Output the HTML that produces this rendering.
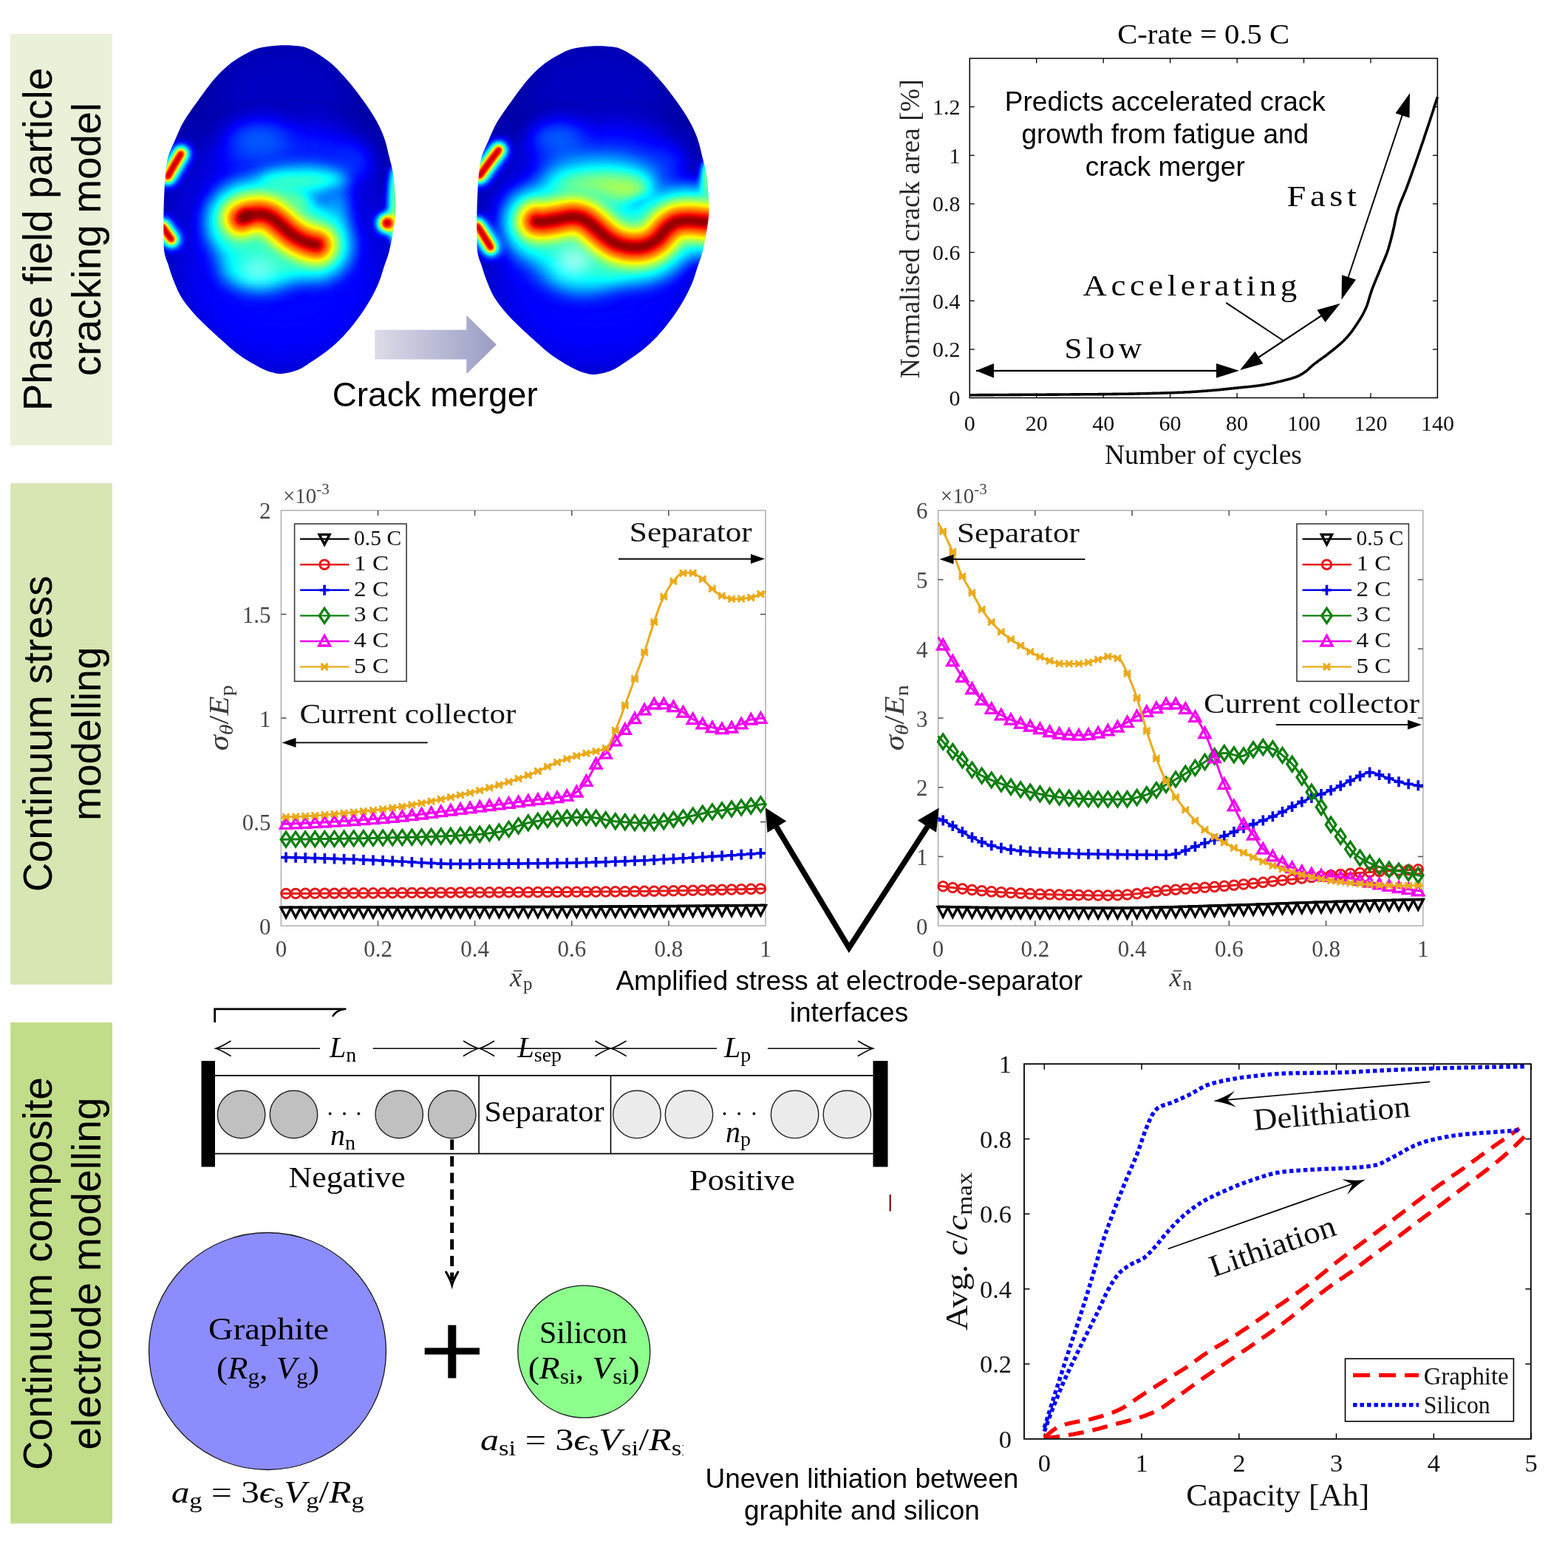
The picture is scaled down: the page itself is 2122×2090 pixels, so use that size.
<!DOCTYPE html>
<html><head><meta charset="utf-8"><title>Figure</title>
<style>html,body{margin:0;padding:0;background:#fff;}svg{display:block;}</style>
</head><body>
<svg width="2122" height="2090" viewBox="0 0 2122 2090">
<defs>
<filter id="jet" color-interpolation-filters="sRGB" x="0" y="0" width="1" height="1">
<feComponentTransfer>
<feFuncR type="table" tableValues="0 0 0 0 0.5 1 1 1 0.5"/>
<feFuncG type="table" tableValues="0 0 0.5 1 1 1 0.5 0 0"/>
<feFuncB type="table" tableValues="0.5 1 1 1 0.5 0 0 0 0"/>
</feComponentTransfer></filter>
<filter id="b1" color-interpolation-filters="sRGB" filterUnits="userSpaceOnUse" x="150" y="20" width="900" height="540"><feGaussianBlur stdDeviation="1"/></filter>
<filter id="b2" color-interpolation-filters="sRGB" filterUnits="userSpaceOnUse" x="150" y="20" width="900" height="540"><feGaussianBlur stdDeviation="2"/></filter>
<filter id="b3" color-interpolation-filters="sRGB" filterUnits="userSpaceOnUse" x="150" y="20" width="900" height="540"><feGaussianBlur stdDeviation="3"/></filter>
<filter id="b4" color-interpolation-filters="sRGB" filterUnits="userSpaceOnUse" x="150" y="20" width="900" height="540"><feGaussianBlur stdDeviation="4"/></filter>
<filter id="b5" color-interpolation-filters="sRGB" filterUnits="userSpaceOnUse" x="150" y="20" width="900" height="540"><feGaussianBlur stdDeviation="5"/></filter>
<filter id="b6" color-interpolation-filters="sRGB" filterUnits="userSpaceOnUse" x="150" y="20" width="900" height="540"><feGaussianBlur stdDeviation="6"/></filter>
<filter id="b7" color-interpolation-filters="sRGB" filterUnits="userSpaceOnUse" x="150" y="20" width="900" height="540"><feGaussianBlur stdDeviation="7"/></filter>
<filter id="b8" color-interpolation-filters="sRGB" filterUnits="userSpaceOnUse" x="150" y="20" width="900" height="540"><feGaussianBlur stdDeviation="8"/></filter>
<filter id="b9" color-interpolation-filters="sRGB" filterUnits="userSpaceOnUse" x="150" y="20" width="900" height="540"><feGaussianBlur stdDeviation="9"/></filter>
<filter id="b10" color-interpolation-filters="sRGB" filterUnits="userSpaceOnUse" x="150" y="20" width="900" height="540"><feGaussianBlur stdDeviation="10"/></filter>
<filter id="b11" color-interpolation-filters="sRGB" filterUnits="userSpaceOnUse" x="150" y="20" width="900" height="540"><feGaussianBlur stdDeviation="11"/></filter>
<filter id="b12" color-interpolation-filters="sRGB" filterUnits="userSpaceOnUse" x="150" y="20" width="900" height="540"><feGaussianBlur stdDeviation="12"/></filter>
<filter id="b13" color-interpolation-filters="sRGB" filterUnits="userSpaceOnUse" x="150" y="20" width="900" height="540"><feGaussianBlur stdDeviation="13"/></filter>
<filter id="b14" color-interpolation-filters="sRGB" filterUnits="userSpaceOnUse" x="150" y="20" width="900" height="540"><feGaussianBlur stdDeviation="14"/></filter>
<filter id="b15" color-interpolation-filters="sRGB" filterUnits="userSpaceOnUse" x="150" y="20" width="900" height="540"><feGaussianBlur stdDeviation="15"/></filter>
<filter id="b16" color-interpolation-filters="sRGB" filterUnits="userSpaceOnUse" x="150" y="20" width="900" height="540"><feGaussianBlur stdDeviation="16"/></filter>
<filter id="b17" color-interpolation-filters="sRGB" filterUnits="userSpaceOnUse" x="150" y="20" width="900" height="540"><feGaussianBlur stdDeviation="17"/></filter>
<filter id="b18" color-interpolation-filters="sRGB" filterUnits="userSpaceOnUse" x="150" y="20" width="900" height="540"><feGaussianBlur stdDeviation="18"/></filter>
<filter id="b19" color-interpolation-filters="sRGB" filterUnits="userSpaceOnUse" x="150" y="20" width="900" height="540"><feGaussianBlur stdDeviation="19"/></filter>
<filter id="b20" color-interpolation-filters="sRGB" filterUnits="userSpaceOnUse" x="150" y="20" width="900" height="540"><feGaussianBlur stdDeviation="20"/></filter>
<filter id="b21" color-interpolation-filters="sRGB" filterUnits="userSpaceOnUse" x="150" y="20" width="900" height="540"><feGaussianBlur stdDeviation="21"/></filter>
<filter id="b22" color-interpolation-filters="sRGB" filterUnits="userSpaceOnUse" x="150" y="20" width="900" height="540"><feGaussianBlur stdDeviation="22"/></filter>
<filter id="b23" color-interpolation-filters="sRGB" filterUnits="userSpaceOnUse" x="150" y="20" width="900" height="540"><feGaussianBlur stdDeviation="23"/></filter>
<filter id="b24" color-interpolation-filters="sRGB" filterUnits="userSpaceOnUse" x="150" y="20" width="900" height="540"><feGaussianBlur stdDeviation="24"/></filter>
<filter id="b25" color-interpolation-filters="sRGB" filterUnits="userSpaceOnUse" x="150" y="20" width="900" height="540"><feGaussianBlur stdDeviation="25"/></filter>
<filter id="b26" color-interpolation-filters="sRGB" filterUnits="userSpaceOnUse" x="150" y="20" width="900" height="540"><feGaussianBlur stdDeviation="26"/></filter>
<filter id="b27" color-interpolation-filters="sRGB" filterUnits="userSpaceOnUse" x="150" y="20" width="900" height="540"><feGaussianBlur stdDeviation="27"/></filter>
<filter id="b28" color-interpolation-filters="sRGB" filterUnits="userSpaceOnUse" x="150" y="20" width="900" height="540"><feGaussianBlur stdDeviation="28"/></filter>
<filter id="b29" color-interpolation-filters="sRGB" filterUnits="userSpaceOnUse" x="150" y="20" width="900" height="540"><feGaussianBlur stdDeviation="29"/></filter>
<filter id="b30" color-interpolation-filters="sRGB" filterUnits="userSpaceOnUse" x="150" y="20" width="900" height="540"><feGaussianBlur stdDeviation="30"/></filter>
<filter id="b31" color-interpolation-filters="sRGB" filterUnits="userSpaceOnUse" x="150" y="20" width="900" height="540"><feGaussianBlur stdDeviation="31"/></filter>
<filter id="b32" color-interpolation-filters="sRGB" filterUnits="userSpaceOnUse" x="150" y="20" width="900" height="540"><feGaussianBlur stdDeviation="32"/></filter>
<filter id="b33" color-interpolation-filters="sRGB" filterUnits="userSpaceOnUse" x="150" y="20" width="900" height="540"><feGaussianBlur stdDeviation="33"/></filter>
<filter id="b34" color-interpolation-filters="sRGB" filterUnits="userSpaceOnUse" x="150" y="20" width="900" height="540"><feGaussianBlur stdDeviation="34"/></filter>
<filter id="b35" color-interpolation-filters="sRGB" filterUnits="userSpaceOnUse" x="150" y="20" width="900" height="540"><feGaussianBlur stdDeviation="35"/></filter>
<filter id="b36" color-interpolation-filters="sRGB" filterUnits="userSpaceOnUse" x="150" y="20" width="900" height="540"><feGaussianBlur stdDeviation="36"/></filter>
<filter id="b37" color-interpolation-filters="sRGB" filterUnits="userSpaceOnUse" x="150" y="20" width="900" height="540"><feGaussianBlur stdDeviation="37"/></filter>
<filter id="b38" color-interpolation-filters="sRGB" filterUnits="userSpaceOnUse" x="150" y="20" width="900" height="540"><feGaussianBlur stdDeviation="38"/></filter>
<filter id="b39" color-interpolation-filters="sRGB" filterUnits="userSpaceOnUse" x="150" y="20" width="900" height="540"><feGaussianBlur stdDeviation="39"/></filter>
<filter id="b40" color-interpolation-filters="sRGB" filterUnits="userSpaceOnUse" x="150" y="20" width="900" height="540"><feGaussianBlur stdDeviation="40"/></filter>
<filter id="wb" filterUnits="userSpaceOnUse" x="150" y="20" width="900" height="540"><feGaussianBlur stdDeviation="10"/></filter>
<clipPath id="pclip1"><path d="M377.0,61.4 C385.8,60.9 396.2,61.3 403.5,62.3 C410.8,63.3 413.7,63.8 421.0,67.6 C428.3,71.4 440.2,79.3 447.5,85.2 C454.8,91.1 459.1,96.3 465.0,102.8 C470.9,109.2 476.7,116.3 482.6,123.9 C488.5,131.5 495.2,140.9 500.2,148.5 C505.2,156.1 509.1,162.6 512.6,169.6 C516.1,176.6 519.0,183.7 521.3,190.7 C523.6,197.7 524.8,204.5 526.6,211.8 C528.4,219.1 530.7,226.5 532.0,234.7 C533.3,242.9 533.9,252.2 534.5,261.0 C535.1,269.8 535.8,278.8 535.4,287.6 C535.0,296.4 533.4,305.2 531.9,314.0 C530.4,322.8 528.6,332.5 526.6,340.4 C524.6,348.3 521.9,354.5 519.6,361.5 C517.3,368.5 515.8,375.0 512.6,382.6 C509.4,390.2 505.2,398.7 500.2,407.2 C495.2,415.7 488.5,425.7 482.6,433.6 C476.7,441.5 471.4,448.0 465.0,454.7 C458.6,461.4 451.3,468.1 444.0,474.0 C436.7,479.9 427.8,485.5 421.0,489.9 C414.2,494.3 409.9,497.8 403.5,500.4 C397.1,503.0 388.3,505.1 382.4,505.7 C376.5,506.3 373.6,505.5 368.3,504.0 C363.0,502.5 358.0,500.7 350.7,496.9 C343.4,493.1 332.5,487.0 324.3,481.1 C316.1,475.2 308.8,468.1 301.5,461.7 C294.2,455.2 286.8,448.5 280.4,442.4 C273.9,436.2 268.7,431.6 262.8,424.8 C256.9,418.1 249.9,409.5 245.2,401.9 C240.5,394.3 237.5,386.3 234.6,379.0 C231.7,371.7 229.6,364.4 227.6,358.0 C225.6,351.6 223.3,347.7 222.3,340.4 C221.3,333.1 221.6,322.8 221.4,314.0 C221.2,305.2 221.2,296.4 221.4,287.6 C221.6,278.8 221.9,269.8 222.3,261.0 C222.7,252.2 223.1,242.9 224.0,234.7 C224.9,226.5 225.5,219.1 227.6,211.8 C229.7,204.5 232.9,198.6 236.4,190.7 C239.9,182.8 243.4,173.4 248.7,164.3 C254.0,155.2 261.2,145.6 268.0,136.2 C274.8,126.8 282.4,115.9 289.2,108.0 C295.9,100.1 301.8,94.3 308.5,88.7 C315.2,83.1 322.6,78.5 329.6,74.6 C336.6,70.6 342.8,67.2 350.7,65.0 C358.6,62.8 368.2,61.9 377.0,61.4 Z"/></clipPath>
<clipPath id="pclip2"><path d="M801.0,62.4 C809.8,61.9 820.2,62.3 827.5,63.3 C834.8,64.3 837.7,64.8 845.0,68.6 C852.3,72.4 864.2,80.3 871.5,86.2 C878.8,92.1 883.1,97.3 889.0,103.8 C894.9,110.2 900.7,117.3 906.6,124.9 C912.5,132.5 919.2,141.9 924.2,149.5 C929.2,157.1 933.1,163.6 936.6,170.6 C940.1,177.6 943.0,184.7 945.3,191.7 C947.6,198.7 948.8,205.5 950.6,212.8 C952.4,220.1 954.7,227.5 956.0,235.7 C957.3,243.9 957.9,253.2 958.5,262.0 C959.1,270.8 959.8,279.8 959.4,288.6 C959.0,297.4 957.4,306.2 955.9,315.0 C954.4,323.8 952.6,333.5 950.6,341.4 C948.6,349.3 945.9,355.5 943.6,362.5 C941.3,369.5 939.8,376.0 936.6,383.6 C933.4,391.2 929.2,399.7 924.2,408.2 C919.2,416.7 912.5,426.7 906.6,434.6 C900.7,442.5 895.4,449.0 889.0,455.7 C882.6,462.4 875.3,469.1 868.0,475.0 C860.7,480.9 851.8,486.5 845.0,490.9 C838.2,495.3 833.9,498.8 827.5,501.4 C821.1,504.0 812.3,506.1 806.4,506.7 C800.5,507.3 797.6,506.5 792.3,505.0 C787.0,503.5 782.0,501.7 774.7,497.9 C767.4,494.1 756.5,488.0 748.3,482.1 C740.1,476.2 732.8,469.1 725.5,462.7 C718.2,456.2 710.9,449.5 704.4,443.4 C697.9,437.2 692.7,432.6 686.8,425.8 C680.9,419.1 673.9,410.5 669.2,402.9 C664.5,395.3 661.5,387.3 658.6,380.0 C655.7,372.7 653.7,365.4 651.6,359.0 C649.5,352.6 647.3,348.7 646.3,341.4 C645.3,334.1 645.5,323.8 645.4,315.0 C645.2,306.2 645.2,297.4 645.4,288.6 C645.5,279.8 645.9,270.8 646.3,262.0 C646.7,253.2 647.1,243.9 648.0,235.7 C648.9,227.5 649.5,220.1 651.6,212.8 C653.7,205.5 656.9,199.6 660.4,191.7 C663.9,183.8 667.4,174.4 672.7,165.3 C678.0,156.2 685.2,146.6 692.0,137.2 C698.8,127.8 706.5,116.9 713.2,109.0 C720.0,101.1 725.8,95.3 732.5,89.7 C739.2,84.1 746.6,79.5 753.6,75.6 C760.6,71.6 766.8,68.2 774.7,66.0 C782.6,63.8 792.2,62.9 801.0,62.4 Z"/></clipPath>
<linearGradient id="arrg" x1="507" y1="0" x2="672" y2="0" gradientUnits="userSpaceOnUse"><stop offset="0" stop-color="#DCDCE8"/><stop offset="1" stop-color="#9A9CC4"/></linearGradient>
</defs>
<rect x="0" y="0" width="2122" height="2090" fill="#fff"/>
<rect x="14.2" y="46" width="137.7" height="556.7" fill="#E9F1D8"/>
<text x="70.0" y="324.0" font-size="55" font-family="'Liberation Sans', Arial, sans-serif" fill="#000" text-anchor="middle" transform="rotate(-90 70.0 324.0)" >Phase field particle</text>
<text x="136.0" y="324.0" font-size="55" font-family="'Liberation Sans', Arial, sans-serif" fill="#000" text-anchor="middle" transform="rotate(-90 136.0 324.0)" >cracking model</text>
<rect x="14.2" y="654" width="137.7" height="678.7" fill="#D7E6B2"/>
<text x="70.0" y="993.2" font-size="55" font-family="'Liberation Sans', Arial, sans-serif" fill="#000" text-anchor="middle" transform="rotate(-90 70.0 993.2)" >Continuum stress</text>
<text x="136.0" y="993.2" font-size="55" font-family="'Liberation Sans', Arial, sans-serif" fill="#000" text-anchor="middle" transform="rotate(-90 136.0 993.2)" >modelling</text>
<rect x="14.2" y="1384" width="137.7" height="678.3" fill="#C1DD89"/>
<text x="70.0" y="1724.0" font-size="55" font-family="'Liberation Sans', Arial, sans-serif" fill="#000" text-anchor="middle" transform="rotate(-90 70.0 1724.0)" >Continuum composite</text>
<text x="136.0" y="1724.0" font-size="55" font-family="'Liberation Sans', Arial, sans-serif" fill="#000" text-anchor="middle" transform="rotate(-90 136.0 1724.0)" >electrode modelling</text>
<g clip-path="url(#pclip1)"><g filter="url(#jet)">
<rect x="200" y="40" width="360" height="490" fill="rgb(11,11,11)"/>
<ellipse cx="380" cy="330" rx="150" ry="175" fill="rgb(29,29,29)" filter="url(#b30)"/><ellipse cx="385" cy="390" rx="120" ry="95" fill="rgb(33,33,33)" filter="url(#b25)"/><ellipse cx="385" cy="120" rx="90" ry="55" fill="rgb(17,17,17)" filter="url(#b18)"/><ellipse cx="395" cy="215" rx="95" ry="40" fill="rgb(41,41,41)" filter="url(#b18)"/><ellipse cx="350" cy="190" rx="40" ry="24" fill="rgb(56,56,56)" filter="url(#b14)"/><ellipse cx="475" cy="220" rx="25" ry="22" fill="rgb(43,43,43)" filter="url(#b10)"/><ellipse cx="372" cy="318" rx="85" ry="58" fill="rgb(92,92,92)" filter="url(#b16)"/><ellipse cx="410" cy="245" rx="60" ry="18" fill="rgb(112,112,112)" filter="url(#b10)"/><ellipse cx="350" cy="362" rx="50" ry="30" fill="rgb(102,102,102)" filter="url(#b12)"/><ellipse cx="455" cy="280" rx="18" ry="28" fill="rgb(69,69,69)" filter="url(#b10)"/><ellipse cx="534" cy="278" rx="8" ry="55" fill="rgb(128,128,128)" filter="url(#b5)"/><ellipse cx="350" cy="278" rx="35" ry="12" fill="rgb(153,153,153)" filter="url(#b8)"/><ellipse cx="388" cy="276" rx="28" ry="11" fill="rgb(148,148,148)" filter="url(#b8)"/><path d="M327.0,295.5 C328.5,294.8 331.9,292.4 336.0,291.5 C340.1,290.6 346.7,289.7 351.6,290.0 C356.5,290.3 360.6,291.1 365.2,293.4 C369.8,295.7 374.3,299.9 378.9,303.6 C383.4,307.3 387.9,312.2 392.5,315.6 C397.1,319.0 401.6,321.8 406.2,324.1 C410.8,326.4 416.0,328.3 419.8,329.5 C423.6,330.7 427.5,331.2 429.0,331.5 " stroke="rgb(115,115,115)" stroke-width="92" fill="none" stroke-linecap="round" stroke-linejoin="round" filter="url(#b12)"/><path d="M327.0,295.5 C328.5,294.8 331.9,292.4 336.0,291.5 C340.1,290.6 346.7,289.7 351.6,290.0 C356.5,290.3 360.6,291.1 365.2,293.4 C369.8,295.7 374.3,299.9 378.9,303.6 C383.4,307.3 387.9,312.2 392.5,315.6 C397.1,319.0 401.6,321.8 406.2,324.1 C410.8,326.4 416.0,328.3 419.8,329.5 C423.6,330.7 427.5,331.2 429.0,331.5 " stroke="rgb(158,158,158)" stroke-width="56" fill="none" stroke-linecap="round" stroke-linejoin="round" filter="url(#b6)"/><path d="M327.0,295.5 C328.5,294.8 331.9,292.4 336.0,291.5 C340.1,290.6 346.7,289.7 351.6,290.0 C356.5,290.3 360.6,291.1 365.2,293.4 C369.8,295.7 374.3,299.9 378.9,303.6 C383.4,307.3 387.9,312.2 392.5,315.6 C397.1,319.0 401.6,321.8 406.2,324.1 C410.8,326.4 416.0,328.3 419.8,329.5 C423.6,330.7 427.5,331.2 429.0,331.5 " stroke="rgb(204,204,204)" stroke-width="35" fill="none" stroke-linecap="round" stroke-linejoin="round" filter="url(#b4)"/><path d="M327.0,295.5 C328.5,294.8 331.9,292.4 336.0,291.5 C340.1,290.6 346.7,289.7 351.6,290.0 C356.5,290.3 360.6,291.1 365.2,293.4 C369.8,295.7 374.3,299.9 378.9,303.6 C383.4,307.3 387.9,312.2 392.5,315.6 C397.1,319.0 401.6,321.8 406.2,324.1 C410.8,326.4 416.0,328.3 419.8,329.5 C423.6,330.7 427.5,331.2 429.0,331.5 " stroke="rgb(250,250,250)" stroke-width="15" fill="none" stroke-linecap="round" stroke-linejoin="round" filter="url(#b3)"/><circle cx="333" cy="293" r="8" fill="rgb(255,255,255)" filter="url(#b4)"/><path d="M245.0,208.0 C243.5,210.5 239.0,217.8 236.0,223.0 C233.0,228.2 228.5,236.3 227.0,239.0 " stroke="rgb(115,115,115)" stroke-width="26" fill="none" stroke-linecap="round" stroke-linejoin="round" filter="url(#b6)"/><path d="M245.0,208.0 C243.5,210.5 239.0,217.8 236.0,223.0 C233.0,228.2 228.5,236.3 227.0,239.0 " stroke="rgb(166,166,166)" stroke-width="15" fill="none" stroke-linecap="round" stroke-linejoin="round" filter="url(#b3)"/><path d="M245.0,208.0 C243.5,210.5 239.0,217.8 236.0,223.0 C233.0,228.2 228.5,236.3 227.0,239.0 " stroke="rgb(217,217,217)" stroke-width="9" fill="none" stroke-linecap="round" stroke-linejoin="round" filter="url(#b2)"/><path d="M245.0,208.0 C243.5,210.5 239.0,217.8 236.0,223.0 C233.0,228.2 228.5,236.3 227.0,239.0 " stroke="rgb(247,247,247)" stroke-width="4" fill="none" stroke-linecap="round" stroke-linejoin="round" filter="url(#b2)"/><path d="M220.0,307.0 C221.0,308.5 224.0,313.2 226.0,316.0 C228.0,318.8 231.0,322.7 232.0,324.0 " stroke="rgb(115,115,115)" stroke-width="26" fill="none" stroke-linecap="round" stroke-linejoin="round" filter="url(#b6)"/><path d="M220.0,307.0 C221.0,308.5 224.0,313.2 226.0,316.0 C228.0,318.8 231.0,322.7 232.0,324.0 " stroke="rgb(166,166,166)" stroke-width="15" fill="none" stroke-linecap="round" stroke-linejoin="round" filter="url(#b3)"/><path d="M220.0,307.0 C221.0,308.5 224.0,313.2 226.0,316.0 C228.0,318.8 231.0,322.7 232.0,324.0 " stroke="rgb(217,217,217)" stroke-width="9" fill="none" stroke-linecap="round" stroke-linejoin="round" filter="url(#b2)"/><path d="M220.0,307.0 C221.0,308.5 224.0,313.2 226.0,316.0 C228.0,318.8 231.0,322.7 232.0,324.0 " stroke="rgb(247,247,247)" stroke-width="4" fill="none" stroke-linecap="round" stroke-linejoin="round" filter="url(#b2)"/><circle cx="524" cy="302" r="7" fill="rgb(247,247,247)" filter="url(#b4)"/><circle cx="524" cy="302" r="13" fill="rgb(178,178,178)" filter="url(#b6)"/><circle cx="524" cy="302" r="6" fill="rgb(250,250,250)" filter="url(#b3)"/>
</g>
</g>
<g clip-path="url(#pclip2)"><g filter="url(#jet)">
<rect x="624" y="41" width="360" height="490" fill="rgb(11,11,11)"/>
<ellipse cx="804" cy="330" rx="150" ry="175" fill="rgb(29,29,29)" filter="url(#b30)"/><ellipse cx="809" cy="390" rx="120" ry="95" fill="rgb(33,33,33)" filter="url(#b25)"/><ellipse cx="809" cy="120" rx="90" ry="55" fill="rgb(17,17,17)" filter="url(#b18)"/><ellipse cx="819" cy="215" rx="95" ry="40" fill="rgb(41,41,41)" filter="url(#b18)"/><ellipse cx="755" cy="188" rx="35" ry="22" fill="rgb(56,56,56)" filter="url(#b12)"/><ellipse cx="900" cy="222" rx="25" ry="20" fill="rgb(43,43,43)" filter="url(#b10)"/><ellipse cx="812" cy="246" rx="80" ry="32" fill="rgb(102,102,102)" filter="url(#b14)"/><ellipse cx="820" cy="258" rx="60" ry="20" fill="rgb(145,145,145)" filter="url(#b10)"/><ellipse cx="800" cy="330" rx="100" ry="50" fill="rgb(84,84,84)" filter="url(#b18)"/><ellipse cx="790" cy="358" rx="55" ry="36" fill="rgb(99,99,99)" filter="url(#b13)"/><ellipse cx="875" cy="287" rx="22" ry="18" fill="rgb(66,66,66)" filter="url(#b9)"/><ellipse cx="956" cy="244" rx="7" ry="28" fill="rgb(140,140,140)" filter="url(#b5)"/><path d="M726.0,299.5 C727.6,299.6 730.6,300.6 735.6,300.2 C740.6,299.8 749.6,297.9 756.1,296.8 C762.6,295.7 769.2,293.4 774.9,293.4 C780.6,293.4 785.4,294.5 790.2,296.8 C795.0,299.1 799.4,303.3 803.9,307.0 C808.4,310.7 812.7,315.3 817.5,319.0 C822.3,322.7 826.9,326.6 832.9,329.2 C838.9,331.8 846.6,333.8 853.4,334.4 C860.2,335.0 867.9,334.4 873.9,332.7 C879.9,331.0 884.4,328.1 889.2,324.1 C894.0,320.1 898.4,312.8 902.9,308.8 C907.4,304.8 911.4,301.9 916.5,300.2 C921.6,298.5 927.6,298.5 933.6,298.5 C939.6,298.5 946.3,299.8 952.4,300.2 C958.5,300.6 967.1,300.9 970.0,301.0 " stroke="rgb(115,115,115)" stroke-width="92" fill="none" stroke-linecap="round" stroke-linejoin="round" filter="url(#b12)"/><path d="M726.0,299.5 C727.6,299.6 730.6,300.6 735.6,300.2 C740.6,299.8 749.6,297.9 756.1,296.8 C762.6,295.7 769.2,293.4 774.9,293.4 C780.6,293.4 785.4,294.5 790.2,296.8 C795.0,299.1 799.4,303.3 803.9,307.0 C808.4,310.7 812.7,315.3 817.5,319.0 C822.3,322.7 826.9,326.6 832.9,329.2 C838.9,331.8 846.6,333.8 853.4,334.4 C860.2,335.0 867.9,334.4 873.9,332.7 C879.9,331.0 884.4,328.1 889.2,324.1 C894.0,320.1 898.4,312.8 902.9,308.8 C907.4,304.8 911.4,301.9 916.5,300.2 C921.6,298.5 927.6,298.5 933.6,298.5 C939.6,298.5 946.3,299.8 952.4,300.2 C958.5,300.6 967.1,300.9 970.0,301.0 " stroke="rgb(158,158,158)" stroke-width="56" fill="none" stroke-linecap="round" stroke-linejoin="round" filter="url(#b6)"/><path d="M726.0,299.5 C727.6,299.6 730.6,300.6 735.6,300.2 C740.6,299.8 749.6,297.9 756.1,296.8 C762.6,295.7 769.2,293.4 774.9,293.4 C780.6,293.4 785.4,294.5 790.2,296.8 C795.0,299.1 799.4,303.3 803.9,307.0 C808.4,310.7 812.7,315.3 817.5,319.0 C822.3,322.7 826.9,326.6 832.9,329.2 C838.9,331.8 846.6,333.8 853.4,334.4 C860.2,335.0 867.9,334.4 873.9,332.7 C879.9,331.0 884.4,328.1 889.2,324.1 C894.0,320.1 898.4,312.8 902.9,308.8 C907.4,304.8 911.4,301.9 916.5,300.2 C921.6,298.5 927.6,298.5 933.6,298.5 C939.6,298.5 946.3,299.8 952.4,300.2 C958.5,300.6 967.1,300.9 970.0,301.0 " stroke="rgb(204,204,204)" stroke-width="35" fill="none" stroke-linecap="round" stroke-linejoin="round" filter="url(#b4)"/><path d="M726.0,299.5 C727.6,299.6 730.6,300.6 735.6,300.2 C740.6,299.8 749.6,297.9 756.1,296.8 C762.6,295.7 769.2,293.4 774.9,293.4 C780.6,293.4 785.4,294.5 790.2,296.8 C795.0,299.1 799.4,303.3 803.9,307.0 C808.4,310.7 812.7,315.3 817.5,319.0 C822.3,322.7 826.9,326.6 832.9,329.2 C838.9,331.8 846.6,333.8 853.4,334.4 C860.2,335.0 867.9,334.4 873.9,332.7 C879.9,331.0 884.4,328.1 889.2,324.1 C894.0,320.1 898.4,312.8 902.9,308.8 C907.4,304.8 911.4,301.9 916.5,300.2 C921.6,298.5 927.6,298.5 933.6,298.5 C939.6,298.5 946.3,299.8 952.4,300.2 C958.5,300.6 967.1,300.9 970.0,301.0 " stroke="rgb(250,250,250)" stroke-width="15" fill="none" stroke-linecap="round" stroke-linejoin="round" filter="url(#b3)"/><path d="M675.0,203.0 C672.8,205.8 666.3,214.2 662.0,220.0 C657.7,225.8 651.2,235.0 649.0,238.0 " stroke="rgb(115,115,115)" stroke-width="26" fill="none" stroke-linecap="round" stroke-linejoin="round" filter="url(#b6)"/><path d="M675.0,203.0 C672.8,205.8 666.3,214.2 662.0,220.0 C657.7,225.8 651.2,235.0 649.0,238.0 " stroke="rgb(166,166,166)" stroke-width="15" fill="none" stroke-linecap="round" stroke-linejoin="round" filter="url(#b3)"/><path d="M675.0,203.0 C672.8,205.8 666.3,214.2 662.0,220.0 C657.7,225.8 651.2,235.0 649.0,238.0 " stroke="rgb(217,217,217)" stroke-width="9" fill="none" stroke-linecap="round" stroke-linejoin="round" filter="url(#b2)"/><path d="M675.0,203.0 C672.8,205.8 666.3,214.2 662.0,220.0 C657.7,225.8 651.2,235.0 649.0,238.0 " stroke="rgb(247,247,247)" stroke-width="4" fill="none" stroke-linecap="round" stroke-linejoin="round" filter="url(#b2)"/><path d="M646.0,306.0 C647.5,308.3 652.0,315.2 655.0,320.0 C658.0,324.8 662.5,332.5 664.0,335.0 " stroke="rgb(115,115,115)" stroke-width="26" fill="none" stroke-linecap="round" stroke-linejoin="round" filter="url(#b6)"/><path d="M646.0,306.0 C647.5,308.3 652.0,315.2 655.0,320.0 C658.0,324.8 662.5,332.5 664.0,335.0 " stroke="rgb(166,166,166)" stroke-width="15" fill="none" stroke-linecap="round" stroke-linejoin="round" filter="url(#b3)"/><path d="M646.0,306.0 C647.5,308.3 652.0,315.2 655.0,320.0 C658.0,324.8 662.5,332.5 664.0,335.0 " stroke="rgb(217,217,217)" stroke-width="9" fill="none" stroke-linecap="round" stroke-linejoin="round" filter="url(#b2)"/><path d="M646.0,306.0 C647.5,308.3 652.0,315.2 655.0,320.0 C658.0,324.8 662.5,332.5 664.0,335.0 " stroke="rgb(247,247,247)" stroke-width="4" fill="none" stroke-linecap="round" stroke-linejoin="round" filter="url(#b2)"/>
</g>
</g>
<ellipse cx="350" cy="366" rx="22" ry="16" fill="#fff" opacity="0.4" filter="url(#wb)" clip-path="url(#pclip1)"/>
<ellipse cx="776" cy="354" rx="22" ry="18" fill="#fff" opacity="0.55" filter="url(#wb)" clip-path="url(#pclip2)"/>
<polygon points="507.3,446.5 631.3,446.5 631.3,426.7 671.9,466.5 631.3,506.3 631.3,486.6 507.3,486.6" fill="url(#arrg)" stroke="none" stroke-width="0" />
<text x="449.7" y="549.6" font-size="46" font-family="'Liberation Sans', Arial, sans-serif" fill="#000" textLength="278.0" lengthAdjust="spacingAndGlyphs" >Crack merger</text>
<line x1="1402.7" y1="538.5" x2="1402.7" y2="532.0" stroke="#000" stroke-width="1.3" />
<line x1="1402.7" y1="79.0" x2="1402.7" y2="85.5" stroke="#000" stroke-width="1.3" />
<line x1="1493.2" y1="538.5" x2="1493.2" y2="532.0" stroke="#000" stroke-width="1.3" />
<line x1="1493.2" y1="79.0" x2="1493.2" y2="85.5" stroke="#000" stroke-width="1.3" />
<line x1="1583.6" y1="538.5" x2="1583.6" y2="532.0" stroke="#000" stroke-width="1.3" />
<line x1="1583.6" y1="79.0" x2="1583.6" y2="85.5" stroke="#000" stroke-width="1.3" />
<line x1="1674.1" y1="538.5" x2="1674.1" y2="532.0" stroke="#000" stroke-width="1.3" />
<line x1="1674.1" y1="79.0" x2="1674.1" y2="85.5" stroke="#000" stroke-width="1.3" />
<line x1="1764.5" y1="538.5" x2="1764.5" y2="532.0" stroke="#000" stroke-width="1.3" />
<line x1="1764.5" y1="79.0" x2="1764.5" y2="85.5" stroke="#000" stroke-width="1.3" />
<line x1="1855.0" y1="538.5" x2="1855.0" y2="532.0" stroke="#000" stroke-width="1.3" />
<line x1="1855.0" y1="79.0" x2="1855.0" y2="85.5" stroke="#000" stroke-width="1.3" />
<line x1="1312.3" y1="472.9" x2="1318.8" y2="472.9" stroke="#000" stroke-width="1.3" />
<line x1="1945.4" y1="472.9" x2="1938.9" y2="472.9" stroke="#000" stroke-width="1.3" />
<line x1="1312.3" y1="407.2" x2="1318.8" y2="407.2" stroke="#000" stroke-width="1.3" />
<line x1="1945.4" y1="407.2" x2="1938.9" y2="407.2" stroke="#000" stroke-width="1.3" />
<line x1="1312.3" y1="341.6" x2="1318.8" y2="341.6" stroke="#000" stroke-width="1.3" />
<line x1="1945.4" y1="341.6" x2="1938.9" y2="341.6" stroke="#000" stroke-width="1.3" />
<line x1="1312.3" y1="275.9" x2="1318.8" y2="275.9" stroke="#000" stroke-width="1.3" />
<line x1="1945.4" y1="275.9" x2="1938.9" y2="275.9" stroke="#000" stroke-width="1.3" />
<line x1="1312.3" y1="210.3" x2="1318.8" y2="210.3" stroke="#000" stroke-width="1.3" />
<line x1="1945.4" y1="210.3" x2="1938.9" y2="210.3" stroke="#000" stroke-width="1.3" />
<line x1="1312.3" y1="144.6" x2="1318.8" y2="144.6" stroke="#000" stroke-width="1.3" />
<line x1="1945.4" y1="144.6" x2="1938.9" y2="144.6" stroke="#000" stroke-width="1.3" />
<rect x="1312.3" y="79.0" width="633.1" height="459.5" fill="none" stroke="#000" stroke-width="1.5"/>
<text x="1299.5" y="549.0" font-size="30" font-family="'Liberation Serif', 'Times New Roman', serif" fill="#111" text-anchor="end" >0</text>
<text x="1299.5" y="483.4" font-size="30" font-family="'Liberation Serif', 'Times New Roman', serif" fill="#111" text-anchor="end" >0.2</text>
<text x="1299.5" y="417.7" font-size="30" font-family="'Liberation Serif', 'Times New Roman', serif" fill="#111" text-anchor="end" >0.4</text>
<text x="1299.5" y="352.1" font-size="30" font-family="'Liberation Serif', 'Times New Roman', serif" fill="#111" text-anchor="end" >0.6</text>
<text x="1299.5" y="286.4" font-size="30" font-family="'Liberation Serif', 'Times New Roman', serif" fill="#111" text-anchor="end" >0.8</text>
<text x="1299.5" y="220.8" font-size="30" font-family="'Liberation Serif', 'Times New Roman', serif" fill="#111" text-anchor="end" >1</text>
<text x="1299.5" y="155.1" font-size="30" font-family="'Liberation Serif', 'Times New Roman', serif" fill="#111" text-anchor="end" >1.2</text>
<text x="1312.3" y="582.5" font-size="30" font-family="'Liberation Serif', 'Times New Roman', serif" fill="#111" text-anchor="middle" >0</text>
<text x="1402.7" y="582.5" font-size="30" font-family="'Liberation Serif', 'Times New Roman', serif" fill="#111" text-anchor="middle" >20</text>
<text x="1493.2" y="582.5" font-size="30" font-family="'Liberation Serif', 'Times New Roman', serif" fill="#111" text-anchor="middle" >40</text>
<text x="1583.6" y="582.5" font-size="30" font-family="'Liberation Serif', 'Times New Roman', serif" fill="#111" text-anchor="middle" >60</text>
<text x="1674.1" y="582.5" font-size="30" font-family="'Liberation Serif', 'Times New Roman', serif" fill="#111" text-anchor="middle" >80</text>
<text x="1764.5" y="582.5" font-size="30" font-family="'Liberation Serif', 'Times New Roman', serif" fill="#111" text-anchor="middle" >100</text>
<text x="1855.0" y="582.5" font-size="30" font-family="'Liberation Serif', 'Times New Roman', serif" fill="#111" text-anchor="middle" >120</text>
<text x="1945.4" y="582.5" font-size="30" font-family="'Liberation Serif', 'Times New Roman', serif" fill="#111" text-anchor="middle" >140</text>
<text x="1628.5" y="628.4" font-size="38.5" font-family="'Liberation Serif', 'Times New Roman', serif" fill="#111" text-anchor="middle" textLength="267.0" lengthAdjust="spacingAndGlyphs" >Number of cycles</text>
<text x="1244.0" y="309.8" font-size="38.5" font-family="'Liberation Serif', 'Times New Roman', serif" fill="#2a2a2a" text-anchor="middle" textLength="405.0" lengthAdjust="spacingAndGlyphs" transform="rotate(-90 1244.0 309.8)" >Normalised crack area [%]</text>
<text x="1628.7" y="58.8" font-size="37.5" font-family="'Liberation Serif', 'Times New Roman', serif" fill="#000" text-anchor="middle" textLength="233.0" lengthAdjust="spacingAndGlyphs" >C-rate = 0.5 C</text>
<polyline points="1312.3,534.7 1313.9,534.7 1315.5,534.7 1317.1,534.7 1318.6,534.7 1320.2,534.7 1321.8,534.7 1323.4,534.6 1325.0,534.6 1326.6,534.6 1328.2,534.6 1329.8,534.6 1331.3,534.6 1332.9,534.6 1334.5,534.6 1336.1,534.6 1337.7,534.6 1339.3,534.6 1340.9,534.6 1342.4,534.6 1344.0,534.6 1345.6,534.5 1347.2,534.5 1348.8,534.5 1350.4,534.5 1352.0,534.5 1353.6,534.5 1355.1,534.5 1356.7,534.5 1358.3,534.5 1359.9,534.5 1361.5,534.5 1363.1,534.5 1364.7,534.5 1366.2,534.4 1367.8,534.4 1369.4,534.4 1371.0,534.4 1372.6,534.4 1374.2,534.4 1375.8,534.4 1377.4,534.4 1378.9,534.4 1380.5,534.4 1382.1,534.4 1383.7,534.3 1385.3,534.3 1386.9,534.3 1388.5,534.3 1390.0,534.3 1391.6,534.3 1393.2,534.3 1394.8,534.3 1396.4,534.3 1398.0,534.3 1399.6,534.3 1401.2,534.2 1402.7,534.2 1404.3,534.2 1405.9,534.2 1407.5,534.2 1409.1,534.2 1410.7,534.2 1412.3,534.2 1413.8,534.2 1415.4,534.2 1417.0,534.1 1418.6,534.1 1420.2,534.1 1421.8,534.1 1423.4,534.1 1425.0,534.1 1426.5,534.1 1428.1,534.1 1429.7,534.1 1431.3,534.1 1432.9,534.0 1434.5,534.0 1436.1,534.0 1437.7,534.0 1439.2,534.0 1440.8,534.0 1442.4,534.0 1444.0,534.0 1445.6,534.0 1447.2,534.0 1448.8,533.9 1450.3,533.9 1451.9,533.9 1453.5,533.9 1455.1,533.9 1456.7,533.9 1458.3,533.9 1459.9,533.9 1461.5,533.9 1463.0,533.8 1464.6,533.8 1466.2,533.8 1467.8,533.8 1469.4,533.8 1471.0,533.8 1472.6,533.8 1474.1,533.8 1475.7,533.7 1477.3,533.7 1478.9,533.7 1480.5,533.7 1482.1,533.7 1483.7,533.7 1485.3,533.7 1486.8,533.6 1488.4,533.6 1490.0,533.6 1491.6,533.6 1493.2,533.6 1494.8,533.6 1496.4,533.5 1497.9,533.5 1499.5,533.5 1501.1,533.5 1502.7,533.5 1504.3,533.5 1505.9,533.4 1507.5,533.4 1509.1,533.4 1510.6,533.4 1512.2,533.4 1513.8,533.3 1515.4,533.3 1517.0,533.3 1518.6,533.3 1520.2,533.3 1521.7,533.2 1523.3,533.2 1524.9,533.2 1526.5,533.2 1528.1,533.1 1529.7,533.1 1531.3,533.1 1532.9,533.1 1534.4,533.0 1536.0,533.0 1537.6,533.0 1539.2,532.9 1540.8,532.9 1542.4,532.9 1544.0,532.8 1545.5,532.8 1547.1,532.8 1548.7,532.7 1550.3,532.7 1551.9,532.6 1553.5,532.6 1555.1,532.6 1556.7,532.5 1558.2,532.5 1559.8,532.4 1561.4,532.4 1563.0,532.4 1564.6,532.3 1566.2,532.3 1567.8,532.2 1569.3,532.2 1570.9,532.1 1572.5,532.1 1574.1,532.0 1575.7,532.0 1577.3,531.9 1578.9,531.9 1580.5,531.8 1582.0,531.8 1583.6,531.7 1585.2,531.7 1586.8,531.6 1588.4,531.6 1590.0,531.5 1591.6,531.5 1593.1,531.4 1594.7,531.4 1596.3,531.3 1597.9,531.2 1599.5,531.2 1601.1,531.1 1602.7,531.0 1604.3,530.9 1605.8,530.8 1607.4,530.8 1609.0,530.7 1610.6,530.6 1612.2,530.5 1613.8,530.4 1615.4,530.3 1616.9,530.2 1618.5,530.1 1620.1,530.0 1621.7,529.9 1623.3,529.8 1624.9,529.6 1626.5,529.5 1628.1,529.4 1629.6,529.3 1631.2,529.2 1632.8,529.1 1634.4,528.9 1636.0,528.8 1637.6,528.7 1639.2,528.6 1640.8,528.4 1642.3,528.3 1643.9,528.2 1645.5,528.0 1647.1,527.9 1648.7,527.7 1650.3,527.6 1651.9,527.4 1653.4,527.3 1655.0,527.1 1656.6,526.9 1658.2,526.8 1659.8,526.6 1661.4,526.4 1663.0,526.3 1664.6,526.1 1666.1,525.9 1667.7,525.8 1669.3,525.6 1670.9,525.4 1672.5,525.2 1674.1,525.1 1675.7,524.9 1677.2,524.8 1678.8,524.6 1680.4,524.4 1682.0,524.3 1683.6,524.1 1685.2,524.0 1686.8,523.8 1688.4,523.7 1689.9,523.5 1691.5,523.3 1693.1,523.2 1694.7,523.0 1696.3,522.8 1697.9,522.6 1699.5,522.5 1701.0,522.3 1702.6,522.1 1704.2,521.8 1705.8,521.6 1707.4,521.4 1709.0,521.1 1710.6,520.9 1712.2,520.6 1713.7,520.3 1715.3,520.0 1716.9,519.7 1718.5,519.4 1720.1,519.1 1721.7,518.7 1723.3,518.4 1724.8,518.0 1726.4,517.7 1728.0,517.3 1729.6,516.9 1731.2,516.6 1732.8,516.2 1734.4,515.8 1736.0,515.4 1737.5,515.0 1739.1,514.6 1740.7,514.2 1742.3,513.8 1743.9,513.3 1745.5,512.9 1747.1,512.5 1748.6,512.0 1750.2,511.5 1751.8,511.0 1753.4,510.4 1755.0,509.8 1756.6,509.1 1758.2,508.4 1759.8,507.6 1761.3,506.6 1762.9,505.7 1764.5,504.6 1766.1,503.5 1767.7,502.4 1769.3,501.0 1770.9,499.6 1772.4,498.1 1774.0,496.7 1775.6,495.2 1777.2,493.9 1778.8,492.6 1780.4,491.4 1782.0,490.2 1783.6,489.0 1785.1,487.9 1786.7,486.7 1788.3,485.6 1789.9,484.5 1791.5,483.3 1793.1,482.2 1794.7,481.0 1796.2,479.8 1797.8,478.5 1799.4,477.3 1801.0,476.0 1802.6,474.8 1804.2,473.5 1805.8,472.2 1807.4,471.0 1808.9,469.7 1810.5,468.3 1812.1,467.0 1813.7,465.6 1815.3,464.2 1816.9,462.7 1818.5,461.2 1820.0,459.6 1821.6,457.9 1823.2,456.2 1824.8,454.4 1826.4,452.4 1828.0,450.4 1829.6,448.3 1831.2,446.1 1832.7,443.9 1834.3,441.5 1835.9,439.2 1837.5,436.7 1839.1,434.2 1840.7,431.7 1842.3,429.1 1843.9,426.4 1845.4,423.5 1847.0,420.3 1848.6,416.8 1850.2,412.8 1851.8,407.7 1853.4,402.2 1855.0,397.1 1856.5,392.6 1858.1,388.4 1859.7,384.3 1861.3,380.4 1862.9,376.6 1864.5,372.8 1866.1,368.9 1867.7,365.0 1869.2,361.2 1870.8,357.5 1872.4,353.8 1874.0,350.0 1875.6,346.0 1877.2,341.8 1878.8,337.1 1880.3,331.8 1881.9,326.0 1883.5,319.8 1885.1,313.3 1886.7,306.1 1888.3,298.2 1889.9,291.1 1891.5,285.6 1893.0,280.7 1894.6,276.3 1896.2,272.2 1897.8,268.3 1899.4,264.5 1901.0,260.8 1902.6,256.9 1904.1,252.8 1905.7,248.5 1907.3,244.1 1908.9,239.7 1910.5,235.2 1912.1,230.7 1913.7,226.2 1915.3,221.7 1916.8,217.2 1918.4,212.6 1920.0,208.0 1921.6,203.3 1923.2,198.7 1924.8,194.0 1926.4,189.4 1927.9,184.6 1929.5,179.9 1931.1,175.1 1932.7,170.4 1934.3,165.5 1935.9,160.7 1937.5,155.8 1939.1,151.0 1940.6,146.1 1942.2,141.1 1943.8,136.2 1945.4,131.2" stroke="#000" stroke-width="3.6" fill="none" stroke-linejoin="round" />
<line x1="1321.0" y1="501.8" x2="1670.0" y2="501.8" stroke="#000" stroke-width="2.2" />
<polygon points="1321.0,501.8 1345.0,492.0 1345.0,511.6" fill="#000" stroke="none" stroke-width="0" />
<polygon points="1677.0,501.8 1646.0,511.6 1646.0,492.0" fill="#000" stroke="none" stroke-width="0" />
<line x1="1690.0" y1="492.5" x2="1800.0" y2="419.5" stroke="#000" stroke-width="2.2" />
<polygon points="1678.0,501.0 1698.3,475.5 1709.4,492.2" fill="#000" stroke="none" stroke-width="0" />
<polygon points="1813.8,410.8 1793.5,436.3 1782.4,419.6" fill="#000" stroke="none" stroke-width="0" />
<line x1="1817.0" y1="398.0" x2="1904.0" y2="137.0" stroke="#000" stroke-width="2.0" />
<polygon points="1815.5,405.8 1816.0,372.3 1835.0,378.6" fill="#000" stroke="none" stroke-width="0" />
<polygon points="1908.0,126.0 1907.5,159.5 1888.5,153.2" fill="#000" stroke="none" stroke-width="0" />
<line x1="1659.3" y1="409.8" x2="1736.6" y2="461.0" stroke="#000" stroke-width="2.0" />
<text x="1465.6" y="400.0" font-size="41" font-family="'Liberation Serif', 'Times New Roman', serif" fill="#000" textLength="295.0" lengthAdjust="spacingAndGlyphs" style="letter-spacing:5px" >Accelerating</text>
<text x="1440.4" y="484.9" font-size="41" font-family="'Liberation Serif', 'Times New Roman', serif" fill="#000" textLength="110.0" lengthAdjust="spacingAndGlyphs" style="letter-spacing:5px" >Slow</text>
<text x="1741.5" y="278.7" font-size="41" font-family="'Liberation Serif', 'Times New Roman', serif" fill="#000" textLength="100.0" lengthAdjust="spacingAndGlyphs" style="letter-spacing:5px" >Fast</text>
<text x="1576.8" y="150.3" font-size="37" font-family="'Liberation Sans', Arial, sans-serif" fill="#000" text-anchor="middle" >Predicts accelerated crack</text>
<text x="1576.8" y="194.3" font-size="37" font-family="'Liberation Sans', Arial, sans-serif" fill="#000" text-anchor="middle" >growth from fatigue and</text>
<text x="1576.8" y="238.3" font-size="37" font-family="'Liberation Sans', Arial, sans-serif" fill="#000" text-anchor="middle" >crack merger</text>
<rect x="380.4" y="690.9" width="655.6" height="562.3" fill="none" stroke="#A8A8A8" stroke-width="1.4"/>
<line x1="511.5" y1="1253.2" x2="511.5" y2="1246.2" stroke="#555" stroke-width="1.6" />
<line x1="511.5" y1="690.9" x2="511.5" y2="697.9" stroke="#555" stroke-width="1.6" />
<line x1="642.6" y1="1253.2" x2="642.6" y2="1246.2" stroke="#555" stroke-width="1.6" />
<line x1="642.6" y1="690.9" x2="642.6" y2="697.9" stroke="#555" stroke-width="1.6" />
<line x1="773.8" y1="1253.2" x2="773.8" y2="1246.2" stroke="#555" stroke-width="1.6" />
<line x1="773.8" y1="690.9" x2="773.8" y2="697.9" stroke="#555" stroke-width="1.6" />
<line x1="904.9" y1="1253.2" x2="904.9" y2="1246.2" stroke="#555" stroke-width="1.6" />
<line x1="904.9" y1="690.9" x2="904.9" y2="697.9" stroke="#555" stroke-width="1.6" />
<line x1="380.4" y1="1112.6" x2="387.4" y2="1112.6" stroke="#555" stroke-width="1.6" />
<line x1="1036.0" y1="1112.6" x2="1029.0" y2="1112.6" stroke="#555" stroke-width="1.6" />
<line x1="380.4" y1="972.0" x2="387.4" y2="972.0" stroke="#555" stroke-width="1.6" />
<line x1="1036.0" y1="972.0" x2="1029.0" y2="972.0" stroke="#555" stroke-width="1.6" />
<line x1="380.4" y1="831.5" x2="387.4" y2="831.5" stroke="#555" stroke-width="1.6" />
<line x1="1036.0" y1="831.5" x2="1029.0" y2="831.5" stroke="#555" stroke-width="1.6" />
<text x="366.4" y="1264.7" font-size="31" font-family="'Liberation Serif', 'Times New Roman', serif" fill="#474747" text-anchor="end" >0</text>
<text x="366.4" y="1124.1" font-size="31" font-family="'Liberation Serif', 'Times New Roman', serif" fill="#474747" text-anchor="end" >0.5</text>
<text x="366.4" y="983.5" font-size="31" font-family="'Liberation Serif', 'Times New Roman', serif" fill="#474747" text-anchor="end" >1</text>
<text x="366.4" y="843.0" font-size="31" font-family="'Liberation Serif', 'Times New Roman', serif" fill="#474747" text-anchor="end" >1.5</text>
<text x="366.4" y="702.4" font-size="31" font-family="'Liberation Serif', 'Times New Roman', serif" fill="#474747" text-anchor="end" >2</text>
<text x="380.4" y="1294.5" font-size="31" font-family="'Liberation Serif', 'Times New Roman', serif" fill="#474747" text-anchor="middle" >0</text>
<text x="511.5" y="1294.5" font-size="31" font-family="'Liberation Serif', 'Times New Roman', serif" fill="#474747" text-anchor="middle" >0.2</text>
<text x="642.6" y="1294.5" font-size="31" font-family="'Liberation Serif', 'Times New Roman', serif" fill="#474747" text-anchor="middle" >0.4</text>
<text x="773.8" y="1294.5" font-size="31" font-family="'Liberation Serif', 'Times New Roman', serif" fill="#474747" text-anchor="middle" >0.6</text>
<text x="904.9" y="1294.5" font-size="31" font-family="'Liberation Serif', 'Times New Roman', serif" fill="#474747" text-anchor="middle" >0.8</text>
<text x="1036.0" y="1294.5" font-size="31" font-family="'Liberation Serif', 'Times New Roman', serif" fill="#474747" text-anchor="middle" >1</text>
<text x="383.0" y="680.5" font-size="29" font-family="'Liberation Serif', 'Times New Roman', serif" fill="#474747">×10<tspan font-size="21" dy="-12">-3</tspan></text>
<text x="690.0" y="1335.2" font-size="36" font-family="'Liberation Serif', 'Times New Roman', serif" fill="#3a3a3a" font-style="italic">x<tspan font-size="25" dy="4.5" dx="2" font-style="normal">p</tspan></text>
<line x1="695.2" y1="1314.2" x2="706.8" y2="1314.2" stroke="#555" stroke-width="1.7" />
<text transform="translate(308.7,971.8) rotate(-90)" x="0" y="0" font-size="37" font-family="'Liberation Serif', 'Times New Roman', serif" fill="#3a3a3a" text-anchor="middle" font-style="italic" textLength="89" lengthAdjust="spacingAndGlyphs">σ<tspan font-size="26" dy="6">θ</tspan><tspan dy="-6" font-style="normal">/</tspan>E<tspan font-size="26" dy="6" font-style="normal">p</tspan></text>
<clipPath id="cl2l"><rect x="370.4" y="690.9" width="675.6" height="574.3"/></clipPath>
<g clip-path="url(#cl2l)">
<polyline points="380.4,1227.9 382.6,1227.9 384.8,1227.9 387.0,1227.9 389.2,1227.9 391.4,1227.9 393.6,1227.9 395.7,1227.9 397.9,1227.9 400.1,1227.9 402.3,1227.9 404.5,1227.9 406.7,1227.9 408.9,1227.9 411.1,1227.9 413.3,1227.9 415.5,1227.9 417.7,1227.9 419.9,1227.9 422.1,1227.9 424.3,1227.9 426.4,1227.9 428.6,1227.9 430.8,1227.9 433.0,1227.9 435.2,1227.9 437.4,1227.9 439.6,1227.9 441.8,1227.9 444.0,1227.9 446.2,1227.9 448.4,1227.9 450.6,1227.9 452.8,1227.9 454.9,1227.9 457.1,1227.9 459.3,1227.9 461.5,1227.9 463.7,1227.8 465.9,1227.8 468.1,1227.8 470.3,1227.8 472.5,1227.8 474.7,1227.8 476.9,1227.8 479.1,1227.8 481.3,1227.8 483.5,1227.8 485.6,1227.8 487.8,1227.8 490.0,1227.8 492.2,1227.8 494.4,1227.8 496.6,1227.8 498.8,1227.8 501.0,1227.8 503.2,1227.8 505.4,1227.8 507.6,1227.8 509.8,1227.8 512.0,1227.8 514.2,1227.8 516.3,1227.8 518.5,1227.8 520.7,1227.8 522.9,1227.8 525.1,1227.8 527.3,1227.8 529.5,1227.8 531.7,1227.8 533.9,1227.7 536.1,1227.7 538.3,1227.7 540.5,1227.7 542.7,1227.7 544.8,1227.7 547.0,1227.7 549.2,1227.7 551.4,1227.7 553.6,1227.7 555.8,1227.7 558.0,1227.7 560.2,1227.7 562.4,1227.7 564.6,1227.7 566.8,1227.7 569.0,1227.7 571.2,1227.7 573.4,1227.7 575.5,1227.7 577.7,1227.7 579.9,1227.7 582.1,1227.7 584.3,1227.6 586.5,1227.6 588.7,1227.6 590.9,1227.6 593.1,1227.6 595.3,1227.6 597.5,1227.6 599.7,1227.6 601.9,1227.6 604.0,1227.6 606.2,1227.6 608.4,1227.6 610.6,1227.6 612.8,1227.6 615.0,1227.6 617.2,1227.6 619.4,1227.6 621.6,1227.6 623.8,1227.6 626.0,1227.5 628.2,1227.5 630.4,1227.5 632.6,1227.5 634.7,1227.5 636.9,1227.5 639.1,1227.5 641.3,1227.5 643.5,1227.5 645.7,1227.5 647.9,1227.5 650.1,1227.5 652.3,1227.5 654.5,1227.5 656.7,1227.5 658.9,1227.5 661.1,1227.5 663.3,1227.5 665.4,1227.4 667.6,1227.4 669.8,1227.4 672.0,1227.4 674.2,1227.4 676.4,1227.4 678.6,1227.4 680.8,1227.4 683.0,1227.4 685.2,1227.4 687.4,1227.4 689.6,1227.4 691.8,1227.4 693.9,1227.4 696.1,1227.4 698.3,1227.4 700.5,1227.4 702.7,1227.3 704.9,1227.3 707.1,1227.3 709.3,1227.3 711.5,1227.3 713.7,1227.3 715.9,1227.3 718.1,1227.3 720.3,1227.3 722.5,1227.3 724.6,1227.3 726.8,1227.3 729.0,1227.3 731.2,1227.3 733.4,1227.3 735.6,1227.2 737.8,1227.2 740.0,1227.2 742.2,1227.2 744.4,1227.2 746.6,1227.2 748.8,1227.2 751.0,1227.2 753.1,1227.2 755.3,1227.2 757.5,1227.2 759.7,1227.1 761.9,1227.1 764.1,1227.1 766.3,1227.1 768.5,1227.1 770.7,1227.1 772.9,1227.1 775.1,1227.1 777.3,1227.1 779.5,1227.1 781.7,1227.0 783.8,1227.0 786.0,1227.0 788.2,1227.0 790.4,1227.0 792.6,1227.0 794.8,1227.0 797.0,1227.0 799.2,1227.0 801.4,1226.9 803.6,1226.9 805.8,1226.9 808.0,1226.9 810.2,1226.9 812.4,1226.9 814.5,1226.9 816.7,1226.9 818.9,1226.8 821.1,1226.8 823.3,1226.8 825.5,1226.8 827.7,1226.8 829.9,1226.8 832.1,1226.8 834.3,1226.7 836.5,1226.7 838.7,1226.7 840.9,1226.7 843.0,1226.7 845.2,1226.7 847.4,1226.7 849.6,1226.6 851.8,1226.6 854.0,1226.6 856.2,1226.6 858.4,1226.6 860.6,1226.6 862.8,1226.6 865.0,1226.5 867.2,1226.5 869.4,1226.5 871.6,1226.5 873.7,1226.5 875.9,1226.5 878.1,1226.4 880.3,1226.4 882.5,1226.4 884.7,1226.4 886.9,1226.4 889.1,1226.4 891.3,1226.3 893.5,1226.3 895.7,1226.3 897.9,1226.3 900.1,1226.3 902.2,1226.3 904.4,1226.2 906.6,1226.2 908.8,1226.2 911.0,1226.2 913.2,1226.2 915.4,1226.2 917.6,1226.1 919.8,1226.1 922.0,1226.1 924.2,1226.1 926.4,1226.1 928.6,1226.0 930.8,1226.0 932.9,1226.0 935.1,1226.0 937.3,1226.0 939.5,1226.0 941.7,1225.9 943.9,1225.9 946.1,1225.9 948.3,1225.9 950.5,1225.9 952.7,1225.8 954.9,1225.8 957.1,1225.8 959.3,1225.8 961.5,1225.8 963.6,1225.7 965.8,1225.7 968.0,1225.7 970.2,1225.7 972.4,1225.7 974.6,1225.6 976.8,1225.6 979.0,1225.6 981.2,1225.6 983.4,1225.6 985.6,1225.6 987.8,1225.5 990.0,1225.5 992.1,1225.5 994.3,1225.5 996.5,1225.5 998.7,1225.4 1000.9,1225.4 1003.1,1225.4 1005.3,1225.4 1007.5,1225.4 1009.7,1225.3 1011.9,1225.3 1014.1,1225.3 1016.3,1225.3 1018.5,1225.2 1020.7,1225.2 1022.8,1225.2 1025.0,1225.2 1027.2,1225.2 1029.4,1225.1 1031.6,1225.1 1033.8,1225.1 1036.0,1225.1" stroke="#000000" stroke-width="3.0" fill="none" stroke-linejoin="round" />
<path d="M380.0,1228.4H394.0L387.0,1241.9Z" fill="none" stroke="#000000" stroke-width="3.4" stroke-linejoin="miter"/><path d="M393.1,1228.4H407.1L400.1,1241.9Z" fill="none" stroke="#000000" stroke-width="3.4" stroke-linejoin="miter"/><path d="M406.2,1228.4H420.2L413.2,1241.9Z" fill="none" stroke="#000000" stroke-width="3.4" stroke-linejoin="miter"/><path d="M419.3,1228.4H433.3L426.3,1241.9Z" fill="none" stroke="#000000" stroke-width="3.4" stroke-linejoin="miter"/><path d="M432.4,1228.4H446.4L439.4,1241.9Z" fill="none" stroke="#000000" stroke-width="3.4" stroke-linejoin="miter"/><path d="M445.5,1228.4H459.5L452.5,1241.9Z" fill="none" stroke="#000000" stroke-width="3.4" stroke-linejoin="miter"/><path d="M458.6,1228.3H472.6L465.6,1241.8Z" fill="none" stroke="#000000" stroke-width="3.4" stroke-linejoin="miter"/><path d="M471.7,1228.3H485.7L478.7,1241.8Z" fill="none" stroke="#000000" stroke-width="3.4" stroke-linejoin="miter"/><path d="M484.9,1228.3H498.9L491.9,1241.8Z" fill="none" stroke="#000000" stroke-width="3.4" stroke-linejoin="miter"/><path d="M498.0,1228.3H512.0L505.0,1241.8Z" fill="none" stroke="#000000" stroke-width="3.4" stroke-linejoin="miter"/><path d="M511.1,1228.3H525.1L518.1,1241.8Z" fill="none" stroke="#000000" stroke-width="3.4" stroke-linejoin="miter"/><path d="M524.2,1228.3H538.2L531.2,1241.8Z" fill="none" stroke="#000000" stroke-width="3.4" stroke-linejoin="miter"/><path d="M537.3,1228.2H551.3L544.3,1241.7Z" fill="none" stroke="#000000" stroke-width="3.4" stroke-linejoin="miter"/><path d="M550.4,1228.2H564.4L557.4,1241.7Z" fill="none" stroke="#000000" stroke-width="3.4" stroke-linejoin="miter"/><path d="M563.5,1228.2H577.5L570.5,1241.7Z" fill="none" stroke="#000000" stroke-width="3.4" stroke-linejoin="miter"/><path d="M576.6,1228.1H590.6L583.6,1241.6Z" fill="none" stroke="#000000" stroke-width="3.4" stroke-linejoin="miter"/><path d="M589.7,1228.1H603.7L596.7,1241.6Z" fill="none" stroke="#000000" stroke-width="3.4" stroke-linejoin="miter"/><path d="M602.9,1228.1H616.9L609.9,1241.6Z" fill="none" stroke="#000000" stroke-width="3.4" stroke-linejoin="miter"/><path d="M616.0,1228.1H630.0L623.0,1241.6Z" fill="none" stroke="#000000" stroke-width="3.4" stroke-linejoin="miter"/><path d="M629.1,1228.0H643.1L636.1,1241.5Z" fill="none" stroke="#000000" stroke-width="3.4" stroke-linejoin="miter"/><path d="M642.2,1228.0H656.2L649.2,1241.5Z" fill="none" stroke="#000000" stroke-width="3.4" stroke-linejoin="miter"/><path d="M655.3,1228.0H669.3L662.3,1241.5Z" fill="none" stroke="#000000" stroke-width="3.4" stroke-linejoin="miter"/><path d="M668.4,1227.9H682.4L675.4,1241.4Z" fill="none" stroke="#000000" stroke-width="3.4" stroke-linejoin="miter"/><path d="M681.5,1227.9H695.5L688.5,1241.4Z" fill="none" stroke="#000000" stroke-width="3.4" stroke-linejoin="miter"/><path d="M694.6,1227.9H708.6L701.6,1241.4Z" fill="none" stroke="#000000" stroke-width="3.4" stroke-linejoin="miter"/><path d="M707.8,1227.8H721.8L714.8,1241.3Z" fill="none" stroke="#000000" stroke-width="3.4" stroke-linejoin="miter"/><path d="M720.9,1227.8H734.9L727.9,1241.3Z" fill="none" stroke="#000000" stroke-width="3.4" stroke-linejoin="miter"/><path d="M734.0,1227.7H748.0L741.0,1241.2Z" fill="none" stroke="#000000" stroke-width="3.4" stroke-linejoin="miter"/><path d="M747.1,1227.7H761.1L754.1,1241.2Z" fill="none" stroke="#000000" stroke-width="3.4" stroke-linejoin="miter"/><path d="M760.2,1227.6H774.2L767.2,1241.1Z" fill="none" stroke="#000000" stroke-width="3.4" stroke-linejoin="miter"/><path d="M773.3,1227.6H787.3L780.3,1241.1Z" fill="none" stroke="#000000" stroke-width="3.4" stroke-linejoin="miter"/><path d="M786.4,1227.5H800.4L793.4,1241.0Z" fill="none" stroke="#000000" stroke-width="3.4" stroke-linejoin="miter"/><path d="M799.5,1227.4H813.5L806.5,1240.9Z" fill="none" stroke="#000000" stroke-width="3.4" stroke-linejoin="miter"/><path d="M812.7,1227.3H826.7L819.7,1240.8Z" fill="none" stroke="#000000" stroke-width="3.4" stroke-linejoin="miter"/><path d="M825.8,1227.3H839.8L832.8,1240.8Z" fill="none" stroke="#000000" stroke-width="3.4" stroke-linejoin="miter"/><path d="M838.9,1227.2H852.9L845.9,1240.7Z" fill="none" stroke="#000000" stroke-width="3.4" stroke-linejoin="miter"/><path d="M852.0,1227.1H866.0L859.0,1240.6Z" fill="none" stroke="#000000" stroke-width="3.4" stroke-linejoin="miter"/><path d="M865.1,1227.0H879.1L872.1,1240.5Z" fill="none" stroke="#000000" stroke-width="3.4" stroke-linejoin="miter"/><path d="M878.2,1226.9H892.2L885.2,1240.4Z" fill="none" stroke="#000000" stroke-width="3.4" stroke-linejoin="miter"/><path d="M891.3,1226.8H905.3L898.3,1240.3Z" fill="none" stroke="#000000" stroke-width="3.4" stroke-linejoin="miter"/><path d="M904.4,1226.7H918.4L911.4,1240.2Z" fill="none" stroke="#000000" stroke-width="3.4" stroke-linejoin="miter"/><path d="M917.5,1226.6H931.5L924.5,1240.1Z" fill="none" stroke="#000000" stroke-width="3.4" stroke-linejoin="miter"/><path d="M930.7,1226.5H944.7L937.7,1240.0Z" fill="none" stroke="#000000" stroke-width="3.4" stroke-linejoin="miter"/><path d="M943.8,1226.4H957.8L950.8,1239.9Z" fill="none" stroke="#000000" stroke-width="3.4" stroke-linejoin="miter"/><path d="M956.9,1226.2H970.9L963.9,1239.7Z" fill="none" stroke="#000000" stroke-width="3.4" stroke-linejoin="miter"/><path d="M970.0,1226.1H984.0L977.0,1239.6Z" fill="none" stroke="#000000" stroke-width="3.4" stroke-linejoin="miter"/><path d="M983.1,1226.0H997.1L990.1,1239.5Z" fill="none" stroke="#000000" stroke-width="3.4" stroke-linejoin="miter"/><path d="M996.2,1225.9H1010.2L1003.2,1239.4Z" fill="none" stroke="#000000" stroke-width="3.4" stroke-linejoin="miter"/><path d="M1009.3,1225.8H1023.3L1016.3,1239.3Z" fill="none" stroke="#000000" stroke-width="3.4" stroke-linejoin="miter"/><path d="M1022.4,1225.6H1036.4L1029.4,1239.1Z" fill="none" stroke="#000000" stroke-width="3.4" stroke-linejoin="miter"/>
</g>
<g clip-path="url(#cl2l)">
<polyline points="380.4,1209.6 382.6,1209.6 384.8,1209.6 387.0,1209.6 389.2,1209.6 391.4,1209.6 393.6,1209.5 395.7,1209.5 397.9,1209.5 400.1,1209.5 402.3,1209.5 404.5,1209.5 406.7,1209.5 408.9,1209.4 411.1,1209.4 413.3,1209.4 415.5,1209.4 417.7,1209.4 419.9,1209.4 422.1,1209.4 424.3,1209.4 426.4,1209.3 428.6,1209.3 430.8,1209.3 433.0,1209.3 435.2,1209.3 437.4,1209.3 439.6,1209.3 441.8,1209.2 444.0,1209.2 446.2,1209.2 448.4,1209.2 450.6,1209.2 452.8,1209.2 454.9,1209.2 457.1,1209.2 459.3,1209.1 461.5,1209.1 463.7,1209.1 465.9,1209.1 468.1,1209.1 470.3,1209.1 472.5,1209.1 474.7,1209.0 476.9,1209.0 479.1,1209.0 481.3,1209.0 483.5,1209.0 485.6,1209.0 487.8,1209.0 490.0,1209.0 492.2,1208.9 494.4,1208.9 496.6,1208.9 498.8,1208.9 501.0,1208.9 503.2,1208.9 505.4,1208.9 507.6,1208.8 509.8,1208.8 512.0,1208.8 514.2,1208.8 516.3,1208.8 518.5,1208.8 520.7,1208.8 522.9,1208.7 525.1,1208.7 527.3,1208.7 529.5,1208.7 531.7,1208.7 533.9,1208.7 536.1,1208.7 538.3,1208.7 540.5,1208.6 542.7,1208.6 544.8,1208.6 547.0,1208.6 549.2,1208.6 551.4,1208.6 553.6,1208.6 555.8,1208.5 558.0,1208.5 560.2,1208.5 562.4,1208.5 564.6,1208.5 566.8,1208.5 569.0,1208.5 571.2,1208.5 573.4,1208.4 575.5,1208.4 577.7,1208.4 579.9,1208.4 582.1,1208.4 584.3,1208.4 586.5,1208.4 588.7,1208.3 590.9,1208.3 593.1,1208.3 595.3,1208.3 597.5,1208.3 599.7,1208.3 601.9,1208.3 604.0,1208.3 606.2,1208.2 608.4,1208.2 610.6,1208.2 612.8,1208.2 615.0,1208.2 617.2,1208.2 619.4,1208.2 621.6,1208.1 623.8,1208.1 626.0,1208.1 628.2,1208.1 630.4,1208.1 632.6,1208.1 634.7,1208.1 636.9,1208.1 639.1,1208.0 641.3,1208.0 643.5,1208.0 645.7,1208.0 647.9,1208.0 650.1,1208.0 652.3,1208.0 654.5,1208.0 656.7,1208.0 658.9,1207.9 661.1,1207.9 663.3,1207.9 665.4,1207.9 667.6,1207.9 669.8,1207.9 672.0,1207.9 674.2,1207.9 676.4,1207.9 678.6,1207.8 680.8,1207.8 683.0,1207.8 685.2,1207.8 687.4,1207.8 689.6,1207.8 691.8,1207.8 693.9,1207.8 696.1,1207.8 698.3,1207.7 700.5,1207.7 702.7,1207.7 704.9,1207.7 707.1,1207.7 709.3,1207.7 711.5,1207.7 713.7,1207.7 715.9,1207.7 718.1,1207.6 720.3,1207.6 722.5,1207.6 724.6,1207.6 726.8,1207.6 729.0,1207.6 731.2,1207.6 733.4,1207.6 735.6,1207.6 737.8,1207.5 740.0,1207.5 742.2,1207.5 744.4,1207.5 746.6,1207.5 748.8,1207.5 751.0,1207.5 753.1,1207.5 755.3,1207.4 757.5,1207.4 759.7,1207.4 761.9,1207.4 764.1,1207.4 766.3,1207.4 768.5,1207.4 770.7,1207.3 772.9,1207.3 775.1,1207.3 777.3,1207.3 779.5,1207.3 781.7,1207.3 783.8,1207.3 786.0,1207.2 788.2,1207.2 790.4,1207.2 792.6,1207.2 794.8,1207.2 797.0,1207.2 799.2,1207.1 801.4,1207.1 803.6,1207.1 805.8,1207.1 808.0,1207.1 810.2,1207.1 812.4,1207.0 814.5,1207.0 816.7,1207.0 818.9,1207.0 821.1,1207.0 823.3,1207.0 825.5,1206.9 827.7,1206.9 829.9,1206.9 832.1,1206.9 834.3,1206.9 836.5,1206.8 838.7,1206.8 840.9,1206.8 843.0,1206.8 845.2,1206.8 847.4,1206.7 849.6,1206.7 851.8,1206.7 854.0,1206.7 856.2,1206.6 858.4,1206.6 860.6,1206.6 862.8,1206.5 865.0,1206.5 867.2,1206.5 869.4,1206.5 871.6,1206.4 873.7,1206.4 875.9,1206.4 878.1,1206.3 880.3,1206.3 882.5,1206.3 884.7,1206.2 886.9,1206.2 889.1,1206.2 891.3,1206.1 893.5,1206.1 895.7,1206.1 897.9,1206.0 900.1,1206.0 902.2,1205.9 904.4,1205.9 906.6,1205.9 908.8,1205.8 911.0,1205.8 913.2,1205.7 915.4,1205.7 917.6,1205.7 919.8,1205.6 922.0,1205.6 924.2,1205.5 926.4,1205.5 928.6,1205.4 930.8,1205.4 932.9,1205.4 935.1,1205.3 937.3,1205.3 939.5,1205.2 941.7,1205.2 943.9,1205.1 946.1,1205.1 948.3,1205.0 950.5,1205.0 952.7,1204.9 954.9,1204.9 957.1,1204.8 959.3,1204.8 961.5,1204.7 963.6,1204.7 965.8,1204.6 968.0,1204.6 970.2,1204.5 972.4,1204.5 974.6,1204.4 976.8,1204.4 979.0,1204.3 981.2,1204.3 983.4,1204.2 985.6,1204.2 987.8,1204.1 990.0,1204.1 992.1,1204.0 994.3,1203.9 996.5,1203.9 998.7,1203.8 1000.9,1203.8 1003.1,1203.7 1005.3,1203.7 1007.5,1203.6 1009.7,1203.6 1011.9,1203.5 1014.1,1203.4 1016.3,1203.4 1018.5,1203.3 1020.7,1203.3 1022.8,1203.2 1025.0,1203.2 1027.2,1203.1 1029.4,1203.0 1031.6,1203.0 1033.8,1202.9 1036.0,1202.9" stroke="#E41A1C" stroke-width="3.0" fill="none" stroke-linejoin="round" />
<circle cx="387.0" cy="1209.6" r="6.3" fill="none" stroke="#E41A1C" stroke-width="3.0"/><circle cx="400.1" cy="1209.5" r="6.3" fill="none" stroke="#E41A1C" stroke-width="3.0"/><circle cx="413.2" cy="1209.4" r="6.3" fill="none" stroke="#E41A1C" stroke-width="3.0"/><circle cx="426.3" cy="1209.3" r="6.3" fill="none" stroke="#E41A1C" stroke-width="3.0"/><circle cx="439.4" cy="1209.3" r="6.3" fill="none" stroke="#E41A1C" stroke-width="3.0"/><circle cx="452.5" cy="1209.2" r="6.3" fill="none" stroke="#E41A1C" stroke-width="3.0"/><circle cx="465.6" cy="1209.1" r="6.3" fill="none" stroke="#E41A1C" stroke-width="3.0"/><circle cx="478.7" cy="1209.0" r="6.3" fill="none" stroke="#E41A1C" stroke-width="3.0"/><circle cx="491.9" cy="1208.9" r="6.3" fill="none" stroke="#E41A1C" stroke-width="3.0"/><circle cx="505.0" cy="1208.9" r="6.3" fill="none" stroke="#E41A1C" stroke-width="3.0"/><circle cx="518.1" cy="1208.8" r="6.3" fill="none" stroke="#E41A1C" stroke-width="3.0"/><circle cx="531.2" cy="1208.7" r="6.3" fill="none" stroke="#E41A1C" stroke-width="3.0"/><circle cx="544.3" cy="1208.6" r="6.3" fill="none" stroke="#E41A1C" stroke-width="3.0"/><circle cx="557.4" cy="1208.5" r="6.3" fill="none" stroke="#E41A1C" stroke-width="3.0"/><circle cx="570.5" cy="1208.5" r="6.3" fill="none" stroke="#E41A1C" stroke-width="3.0"/><circle cx="583.6" cy="1208.4" r="6.3" fill="none" stroke="#E41A1C" stroke-width="3.0"/><circle cx="596.7" cy="1208.3" r="6.3" fill="none" stroke="#E41A1C" stroke-width="3.0"/><circle cx="609.9" cy="1208.2" r="6.3" fill="none" stroke="#E41A1C" stroke-width="3.0"/><circle cx="623.0" cy="1208.1" r="6.3" fill="none" stroke="#E41A1C" stroke-width="3.0"/><circle cx="636.1" cy="1208.1" r="6.3" fill="none" stroke="#E41A1C" stroke-width="3.0"/><circle cx="649.2" cy="1208.0" r="6.3" fill="none" stroke="#E41A1C" stroke-width="3.0"/><circle cx="662.3" cy="1207.9" r="6.3" fill="none" stroke="#E41A1C" stroke-width="3.0"/><circle cx="675.4" cy="1207.9" r="6.3" fill="none" stroke="#E41A1C" stroke-width="3.0"/><circle cx="688.5" cy="1207.8" r="6.3" fill="none" stroke="#E41A1C" stroke-width="3.0"/><circle cx="701.6" cy="1207.7" r="6.3" fill="none" stroke="#E41A1C" stroke-width="3.0"/><circle cx="714.8" cy="1207.7" r="6.3" fill="none" stroke="#E41A1C" stroke-width="3.0"/><circle cx="727.9" cy="1207.6" r="6.3" fill="none" stroke="#E41A1C" stroke-width="3.0"/><circle cx="741.0" cy="1207.5" r="6.3" fill="none" stroke="#E41A1C" stroke-width="3.0"/><circle cx="754.1" cy="1207.4" r="6.3" fill="none" stroke="#E41A1C" stroke-width="3.0"/><circle cx="767.2" cy="1207.4" r="6.3" fill="none" stroke="#E41A1C" stroke-width="3.0"/><circle cx="780.3" cy="1207.3" r="6.3" fill="none" stroke="#E41A1C" stroke-width="3.0"/><circle cx="793.4" cy="1207.2" r="6.3" fill="none" stroke="#E41A1C" stroke-width="3.0"/><circle cx="806.5" cy="1207.1" r="6.3" fill="none" stroke="#E41A1C" stroke-width="3.0"/><circle cx="819.7" cy="1207.0" r="6.3" fill="none" stroke="#E41A1C" stroke-width="3.0"/><circle cx="832.8" cy="1206.9" r="6.3" fill="none" stroke="#E41A1C" stroke-width="3.0"/><circle cx="845.9" cy="1206.7" r="6.3" fill="none" stroke="#E41A1C" stroke-width="3.0"/><circle cx="859.0" cy="1206.6" r="6.3" fill="none" stroke="#E41A1C" stroke-width="3.0"/><circle cx="872.1" cy="1206.4" r="6.3" fill="none" stroke="#E41A1C" stroke-width="3.0"/><circle cx="885.2" cy="1206.2" r="6.3" fill="none" stroke="#E41A1C" stroke-width="3.0"/><circle cx="898.3" cy="1206.0" r="6.3" fill="none" stroke="#E41A1C" stroke-width="3.0"/><circle cx="911.4" cy="1205.8" r="6.3" fill="none" stroke="#E41A1C" stroke-width="3.0"/><circle cx="924.5" cy="1205.5" r="6.3" fill="none" stroke="#E41A1C" stroke-width="3.0"/><circle cx="937.7" cy="1205.3" r="6.3" fill="none" stroke="#E41A1C" stroke-width="3.0"/><circle cx="950.8" cy="1205.0" r="6.3" fill="none" stroke="#E41A1C" stroke-width="3.0"/><circle cx="963.9" cy="1204.7" r="6.3" fill="none" stroke="#E41A1C" stroke-width="3.0"/><circle cx="977.0" cy="1204.4" r="6.3" fill="none" stroke="#E41A1C" stroke-width="3.0"/><circle cx="990.1" cy="1204.1" r="6.3" fill="none" stroke="#E41A1C" stroke-width="3.0"/><circle cx="1003.2" cy="1203.7" r="6.3" fill="none" stroke="#E41A1C" stroke-width="3.0"/><circle cx="1016.3" cy="1203.4" r="6.3" fill="none" stroke="#E41A1C" stroke-width="3.0"/><circle cx="1029.4" cy="1203.0" r="6.3" fill="none" stroke="#E41A1C" stroke-width="3.0"/>
</g>
<g clip-path="url(#cl2l)">
<polyline points="380.4,1160.4 382.6,1160.5 384.8,1160.5 387.0,1160.6 389.2,1160.6 391.4,1160.6 393.6,1160.7 395.7,1160.7 397.9,1160.8 400.1,1160.9 402.3,1160.9 404.5,1161.0 406.7,1161.0 408.9,1161.1 411.1,1161.1 413.3,1161.2 415.5,1161.2 417.7,1161.3 419.9,1161.4 422.1,1161.4 424.3,1161.5 426.4,1161.6 428.6,1161.6 430.8,1161.7 433.0,1161.8 435.2,1161.8 437.4,1161.9 439.6,1162.0 441.8,1162.0 444.0,1162.1 446.2,1162.2 448.4,1162.3 450.6,1162.3 452.8,1162.4 454.9,1162.5 457.1,1162.6 459.3,1162.6 461.5,1162.7 463.7,1162.8 465.9,1162.9 468.1,1163.0 470.3,1163.0 472.5,1163.1 474.7,1163.2 476.9,1163.3 479.1,1163.4 481.3,1163.4 483.5,1163.5 485.6,1163.6 487.8,1163.7 490.0,1163.8 492.2,1163.9 494.4,1164.0 496.6,1164.0 498.8,1164.1 501.0,1164.2 503.2,1164.3 505.4,1164.4 507.6,1164.5 509.8,1164.6 512.0,1164.7 514.2,1164.7 516.3,1164.8 518.5,1164.9 520.7,1165.0 522.9,1165.1 525.1,1165.3 527.3,1165.4 529.5,1165.5 531.7,1165.6 533.9,1165.7 536.1,1165.8 538.3,1165.9 540.5,1166.1 542.7,1166.2 544.8,1166.3 547.0,1166.4 549.2,1166.6 551.4,1166.7 553.6,1166.8 555.8,1166.9 558.0,1167.0 560.2,1167.2 562.4,1167.3 564.6,1167.4 566.8,1167.5 569.0,1167.6 571.2,1167.7 573.4,1167.8 575.5,1167.9 577.7,1168.0 579.9,1168.2 582.1,1168.3 584.3,1168.4 586.5,1168.5 588.7,1168.6 590.9,1168.8 593.1,1168.9 595.3,1169.0 597.5,1169.1 599.7,1169.2 601.9,1169.3 604.0,1169.3 606.2,1169.4 608.4,1169.4 610.6,1169.4 612.8,1169.4 615.0,1169.4 617.2,1169.4 619.4,1169.4 621.6,1169.4 623.8,1169.4 626.0,1169.4 628.2,1169.4 630.4,1169.4 632.6,1169.4 634.7,1169.4 636.9,1169.4 639.1,1169.4 641.3,1169.4 643.5,1169.3 645.7,1169.3 647.9,1169.3 650.1,1169.3 652.3,1169.3 654.5,1169.3 656.7,1169.3 658.9,1169.3 661.1,1169.3 663.3,1169.2 665.4,1169.2 667.6,1169.2 669.8,1169.2 672.0,1169.2 674.2,1169.2 676.4,1169.2 678.6,1169.1 680.8,1169.1 683.0,1169.1 685.2,1169.1 687.4,1169.1 689.6,1169.1 691.8,1169.0 693.9,1169.0 696.1,1169.0 698.3,1169.0 700.5,1169.0 702.7,1169.0 704.9,1168.9 707.1,1168.9 709.3,1168.9 711.5,1168.9 713.7,1168.8 715.9,1168.8 718.1,1168.8 720.3,1168.8 722.5,1168.8 724.6,1168.7 726.8,1168.7 729.0,1168.7 731.2,1168.7 733.4,1168.7 735.6,1168.6 737.8,1168.6 740.0,1168.6 742.2,1168.6 744.4,1168.5 746.6,1168.5 748.8,1168.5 751.0,1168.4 753.1,1168.4 755.3,1168.4 757.5,1168.3 759.7,1168.3 761.9,1168.3 764.1,1168.2 766.3,1168.2 768.5,1168.1 770.7,1168.1 772.9,1168.0 775.1,1168.0 777.3,1167.9 779.5,1167.9 781.7,1167.8 783.8,1167.8 786.0,1167.7 788.2,1167.7 790.4,1167.6 792.6,1167.5 794.8,1167.5 797.0,1167.4 799.2,1167.3 801.4,1167.3 803.6,1167.2 805.8,1167.1 808.0,1167.1 810.2,1167.0 812.4,1166.9 814.5,1166.9 816.7,1166.8 818.9,1166.7 821.1,1166.7 823.3,1166.6 825.5,1166.5 827.7,1166.4 829.9,1166.4 832.1,1166.3 834.3,1166.2 836.5,1166.1 838.7,1166.1 840.9,1166.0 843.0,1165.9 845.2,1165.8 847.4,1165.7 849.6,1165.7 851.8,1165.6 854.0,1165.5 856.2,1165.4 858.4,1165.3 860.6,1165.2 862.8,1165.1 865.0,1165.0 867.2,1164.9 869.4,1164.8 871.6,1164.7 873.7,1164.6 875.9,1164.5 878.1,1164.3 880.3,1164.2 882.5,1164.1 884.7,1164.0 886.9,1163.9 889.1,1163.8 891.3,1163.6 893.5,1163.5 895.7,1163.4 897.9,1163.3 900.1,1163.2 902.2,1163.0 904.4,1162.9 906.6,1162.8 908.8,1162.7 911.0,1162.5 913.2,1162.4 915.4,1162.3 917.6,1162.2 919.8,1162.0 922.0,1161.9 924.2,1161.8 926.4,1161.6 928.6,1161.5 930.8,1161.4 932.9,1161.3 935.1,1161.1 937.3,1161.0 939.5,1160.9 941.7,1160.7 943.9,1160.6 946.1,1160.5 948.3,1160.4 950.5,1160.2 952.7,1160.1 954.9,1160.0 957.1,1159.8 959.3,1159.7 961.5,1159.6 963.6,1159.4 965.8,1159.3 968.0,1159.1 970.2,1159.0 972.4,1158.9 974.6,1158.7 976.8,1158.6 979.0,1158.4 981.2,1158.3 983.4,1158.2 985.6,1158.0 987.8,1157.9 990.0,1157.7 992.1,1157.6 994.3,1157.4 996.5,1157.3 998.7,1157.1 1000.9,1157.0 1003.1,1156.8 1005.3,1156.7 1007.5,1156.5 1009.7,1156.4 1011.9,1156.2 1014.1,1156.1 1016.3,1155.9 1018.5,1155.8 1020.7,1155.6 1022.8,1155.5 1025.0,1155.3 1027.2,1155.2 1029.4,1155.0 1031.6,1154.8 1033.8,1154.7 1036.0,1154.5" stroke="#0000E6" stroke-width="3.0" fill="none" stroke-linejoin="round" />
<path d="M380.5,1160.6H393.5M387.0,1153.6V1167.6" stroke="#0000E6" stroke-width="3.6"/><path d="M393.6,1160.8H406.6M400.1,1153.8V1167.8" stroke="#0000E6" stroke-width="3.6"/><path d="M406.7,1161.2H419.7M413.2,1154.2V1168.2" stroke="#0000E6" stroke-width="3.6"/><path d="M419.8,1161.6H432.8M426.3,1154.6V1168.6" stroke="#0000E6" stroke-width="3.6"/><path d="M432.9,1162.0H445.9M439.4,1155.0V1169.0" stroke="#0000E6" stroke-width="3.6"/><path d="M446.0,1162.4H459.0M452.5,1155.4V1169.4" stroke="#0000E6" stroke-width="3.6"/><path d="M459.1,1162.9H472.1M465.6,1155.9V1169.9" stroke="#0000E6" stroke-width="3.6"/><path d="M472.2,1163.3H485.2M478.7,1156.3V1170.3" stroke="#0000E6" stroke-width="3.6"/><path d="M485.4,1163.9H498.4M491.9,1156.9V1170.9" stroke="#0000E6" stroke-width="3.6"/><path d="M498.5,1164.4H511.5M505.0,1157.4V1171.4" stroke="#0000E6" stroke-width="3.6"/><path d="M511.6,1164.9H524.6M518.1,1157.9V1171.9" stroke="#0000E6" stroke-width="3.6"/><path d="M524.7,1165.6H537.7M531.2,1158.6V1172.6" stroke="#0000E6" stroke-width="3.6"/><path d="M537.8,1166.3H550.8M544.3,1159.3V1173.3" stroke="#0000E6" stroke-width="3.6"/><path d="M550.9,1167.0H563.9M557.4,1160.0V1174.0" stroke="#0000E6" stroke-width="3.6"/><path d="M564.0,1167.7H577.0M570.5,1160.7V1174.7" stroke="#0000E6" stroke-width="3.6"/><path d="M577.1,1168.4H590.1M583.6,1161.4V1175.4" stroke="#0000E6" stroke-width="3.6"/><path d="M590.2,1169.1H603.2M596.7,1162.1V1176.1" stroke="#0000E6" stroke-width="3.6"/><path d="M603.4,1169.4H616.4M609.9,1162.4V1176.4" stroke="#0000E6" stroke-width="3.6"/><path d="M616.5,1169.4H629.5M623.0,1162.4V1176.4" stroke="#0000E6" stroke-width="3.6"/><path d="M629.6,1169.4H642.6M636.1,1162.4V1176.4" stroke="#0000E6" stroke-width="3.6"/><path d="M642.7,1169.3H655.7M649.2,1162.3V1176.3" stroke="#0000E6" stroke-width="3.6"/><path d="M655.8,1169.3H668.8M662.3,1162.3V1176.3" stroke="#0000E6" stroke-width="3.6"/><path d="M668.9,1169.2H681.9M675.4,1162.2V1176.2" stroke="#0000E6" stroke-width="3.6"/><path d="M682.0,1169.1H695.0M688.5,1162.1V1176.1" stroke="#0000E6" stroke-width="3.6"/><path d="M695.1,1169.0H708.1M701.6,1162.0V1176.0" stroke="#0000E6" stroke-width="3.6"/><path d="M708.3,1168.8H721.3M714.8,1161.8V1175.8" stroke="#0000E6" stroke-width="3.6"/><path d="M721.4,1168.7H734.4M727.9,1161.7V1175.7" stroke="#0000E6" stroke-width="3.6"/><path d="M734.5,1168.6H747.5M741.0,1161.6V1175.6" stroke="#0000E6" stroke-width="3.6"/><path d="M747.6,1168.4H760.6M754.1,1161.4V1175.4" stroke="#0000E6" stroke-width="3.6"/><path d="M760.7,1168.2H773.7M767.2,1161.2V1175.2" stroke="#0000E6" stroke-width="3.6"/><path d="M773.8,1167.9H786.8M780.3,1160.9V1174.9" stroke="#0000E6" stroke-width="3.6"/><path d="M786.9,1167.5H799.9M793.4,1160.5V1174.5" stroke="#0000E6" stroke-width="3.6"/><path d="M800.0,1167.1H813.0M806.5,1160.1V1174.1" stroke="#0000E6" stroke-width="3.6"/><path d="M813.2,1166.7H826.2M819.7,1159.7V1173.7" stroke="#0000E6" stroke-width="3.6"/><path d="M826.3,1166.3H839.3M832.8,1159.3V1173.3" stroke="#0000E6" stroke-width="3.6"/><path d="M839.4,1165.8H852.4M845.9,1158.8V1172.8" stroke="#0000E6" stroke-width="3.6"/><path d="M852.5,1165.3H865.5M859.0,1158.3V1172.3" stroke="#0000E6" stroke-width="3.6"/><path d="M865.6,1164.7H878.6M872.1,1157.7V1171.7" stroke="#0000E6" stroke-width="3.6"/><path d="M878.7,1164.0H891.7M885.2,1157.0V1171.0" stroke="#0000E6" stroke-width="3.6"/><path d="M891.8,1163.3H904.8M898.3,1156.3V1170.3" stroke="#0000E6" stroke-width="3.6"/><path d="M904.9,1162.5H917.9M911.4,1155.5V1169.5" stroke="#0000E6" stroke-width="3.6"/><path d="M918.0,1161.7H931.0M924.5,1154.7V1168.7" stroke="#0000E6" stroke-width="3.6"/><path d="M931.2,1161.0H944.2M937.7,1154.0V1168.0" stroke="#0000E6" stroke-width="3.6"/><path d="M944.3,1160.2H957.3M950.8,1153.2V1167.2" stroke="#0000E6" stroke-width="3.6"/><path d="M957.4,1159.4H970.4M963.9,1152.4V1166.4" stroke="#0000E6" stroke-width="3.6"/><path d="M970.5,1158.6H983.5M977.0,1151.6V1165.6" stroke="#0000E6" stroke-width="3.6"/><path d="M983.6,1157.7H996.6M990.1,1150.7V1164.7" stroke="#0000E6" stroke-width="3.6"/><path d="M996.7,1156.8H1009.7M1003.2,1149.8V1163.8" stroke="#0000E6" stroke-width="3.6"/><path d="M1009.8,1155.9H1022.8M1016.3,1148.9V1162.9" stroke="#0000E6" stroke-width="3.6"/><path d="M1022.9,1155.0H1035.9M1029.4,1148.0V1162.0" stroke="#0000E6" stroke-width="3.6"/>
</g>
<g clip-path="url(#cl2l)">
<polyline points="380.4,1136.2 382.6,1136.2 384.8,1136.2 387.0,1136.2 389.2,1136.2 391.4,1136.2 393.6,1136.1 395.7,1136.1 397.9,1136.1 400.1,1136.1 402.3,1136.1 404.5,1136.0 406.7,1136.0 408.9,1136.0 411.1,1136.0 413.3,1135.9 415.5,1135.9 417.7,1135.9 419.9,1135.9 422.1,1135.8 424.3,1135.8 426.4,1135.8 428.6,1135.8 430.8,1135.7 433.0,1135.7 435.2,1135.7 437.4,1135.6 439.6,1135.6 441.8,1135.6 444.0,1135.5 446.2,1135.5 448.4,1135.5 450.6,1135.4 452.8,1135.4 454.9,1135.3 457.1,1135.3 459.3,1135.3 461.5,1135.2 463.7,1135.2 465.9,1135.2 468.1,1135.1 470.3,1135.1 472.5,1135.0 474.7,1135.0 476.9,1135.0 479.1,1134.9 481.3,1134.9 483.5,1134.8 485.6,1134.8 487.8,1134.7 490.0,1134.7 492.2,1134.7 494.4,1134.6 496.6,1134.6 498.8,1134.5 501.0,1134.5 503.2,1134.4 505.4,1134.4 507.6,1134.4 509.8,1134.3 512.0,1134.3 514.2,1134.2 516.3,1134.2 518.5,1134.1 520.7,1134.1 522.9,1134.0 525.1,1134.0 527.3,1133.9 529.5,1133.9 531.7,1133.8 533.9,1133.8 536.1,1133.7 538.3,1133.7 540.5,1133.6 542.7,1133.6 544.8,1133.5 547.0,1133.5 549.2,1133.4 551.4,1133.4 553.6,1133.3 555.8,1133.3 558.0,1133.2 560.2,1133.2 562.4,1133.1 564.6,1133.0 566.8,1133.0 569.0,1132.9 571.2,1132.8 573.4,1132.8 575.5,1132.7 577.7,1132.6 579.9,1132.6 582.1,1132.5 584.3,1132.4 586.5,1132.4 588.7,1132.3 590.9,1132.2 593.1,1132.1 595.3,1132.0 597.5,1132.0 599.7,1131.9 601.9,1131.8 604.0,1131.7 606.2,1131.6 608.4,1131.5 610.6,1131.4 612.8,1131.3 615.0,1131.2 617.2,1131.1 619.4,1131.0 621.6,1130.9 623.8,1130.8 626.0,1130.7 628.2,1130.6 630.4,1130.5 632.6,1130.4 634.7,1130.3 636.9,1130.1 639.1,1130.0 641.3,1129.9 643.5,1129.7 645.7,1129.5 647.9,1129.4 650.1,1129.2 652.3,1129.0 654.5,1128.8 656.7,1128.6 658.9,1128.3 661.1,1128.1 663.3,1127.8 665.4,1127.6 667.6,1127.3 669.8,1127.0 672.0,1126.6 674.2,1126.3 676.4,1125.9 678.6,1125.5 680.8,1124.9 683.0,1124.3 685.2,1123.6 687.4,1122.8 689.6,1122.1 691.8,1121.3 693.9,1120.6 696.1,1119.9 698.3,1119.1 700.5,1118.4 702.7,1117.6 704.9,1116.8 707.1,1116.0 709.3,1115.3 711.5,1114.7 713.7,1114.1 715.9,1113.7 718.1,1113.2 720.3,1112.8 722.5,1112.4 724.6,1112.0 726.8,1111.6 729.0,1111.2 731.2,1110.8 733.4,1110.5 735.6,1110.2 737.8,1109.8 740.0,1109.6 742.2,1109.3 744.4,1109.0 746.6,1108.8 748.8,1108.6 751.0,1108.4 753.1,1108.2 755.3,1108.0 757.5,1107.9 759.7,1107.7 761.9,1107.6 764.1,1107.4 766.3,1107.3 768.5,1107.1 770.7,1107.0 772.9,1106.9 775.1,1106.7 777.3,1106.6 779.5,1106.5 781.7,1106.4 783.8,1106.4 786.0,1106.3 788.2,1106.2 790.4,1106.2 792.6,1106.2 794.8,1106.2 797.0,1106.2 799.2,1106.3 801.4,1106.5 803.6,1106.8 805.8,1107.1 808.0,1107.4 810.2,1107.8 812.4,1108.2 814.5,1108.6 816.7,1109.1 818.9,1109.5 821.1,1110.0 823.3,1110.4 825.5,1110.8 827.7,1111.1 829.9,1111.5 832.1,1111.7 834.3,1112.0 836.5,1112.1 838.7,1112.3 840.9,1112.5 843.0,1112.6 845.2,1112.8 847.4,1112.9 849.6,1113.1 851.8,1113.2 854.0,1113.3 856.2,1113.5 858.4,1113.6 860.6,1113.7 862.8,1113.8 865.0,1113.8 867.2,1113.9 869.4,1114.0 871.6,1114.0 873.7,1114.0 875.9,1114.0 878.1,1114.0 880.3,1113.9 882.5,1113.8 884.7,1113.6 886.9,1113.3 889.1,1113.1 891.3,1112.8 893.5,1112.5 895.7,1112.1 897.9,1111.8 900.1,1111.4 902.2,1111.0 904.4,1110.6 906.6,1110.2 908.8,1109.8 911.0,1109.4 913.2,1109.0 915.4,1108.6 917.6,1108.2 919.8,1107.8 922.0,1107.4 924.2,1107.0 926.4,1106.6 928.6,1106.1 930.8,1105.6 932.9,1105.1 935.1,1104.7 937.3,1104.2 939.5,1103.7 941.7,1103.2 943.9,1102.7 946.1,1102.2 948.3,1101.7 950.5,1101.3 952.7,1100.8 954.9,1100.4 957.1,1100.0 959.3,1099.6 961.5,1099.3 963.6,1098.9 965.8,1098.6 968.0,1098.2 970.2,1097.9 972.4,1097.6 974.6,1097.3 976.8,1096.9 979.0,1096.6 981.2,1096.3 983.4,1096.0 985.6,1095.7 987.8,1095.4 990.0,1095.1 992.1,1094.7 994.3,1094.4 996.5,1094.1 998.7,1093.8 1000.9,1093.4 1003.1,1093.1 1005.3,1092.7 1007.5,1092.4 1009.7,1092.1 1011.9,1091.7 1014.1,1091.4 1016.3,1091.0 1018.5,1090.7 1020.7,1090.3 1022.8,1090.0 1025.0,1089.6 1027.2,1089.3 1029.4,1088.9 1031.6,1088.6 1033.8,1088.2 1036.0,1087.9" stroke="#0F7F0F" stroke-width="3.0" fill="none" stroke-linejoin="round" />
<path d="M387.0,1126.2L393.8,1136.2L387.0,1146.2L380.2,1136.2Z" fill="none" stroke="#0F7F0F" stroke-width="3.3"/><path d="M400.1,1126.1L406.9,1136.1L400.1,1146.1L393.3,1136.1Z" fill="none" stroke="#0F7F0F" stroke-width="3.3"/><path d="M413.2,1125.9L420.0,1135.9L413.2,1145.9L406.4,1135.9Z" fill="none" stroke="#0F7F0F" stroke-width="3.3"/><path d="M426.3,1125.8L433.1,1135.8L426.3,1145.8L419.5,1135.8Z" fill="none" stroke="#0F7F0F" stroke-width="3.3"/><path d="M439.4,1125.6L446.2,1135.6L439.4,1145.6L432.6,1135.6Z" fill="none" stroke="#0F7F0F" stroke-width="3.3"/><path d="M452.5,1125.4L459.3,1135.4L452.5,1145.4L445.7,1135.4Z" fill="none" stroke="#0F7F0F" stroke-width="3.3"/><path d="M465.6,1125.2L472.4,1135.2L465.6,1145.2L458.8,1135.2Z" fill="none" stroke="#0F7F0F" stroke-width="3.3"/><path d="M478.7,1124.9L485.5,1134.9L478.7,1144.9L471.9,1134.9Z" fill="none" stroke="#0F7F0F" stroke-width="3.3"/><path d="M491.9,1124.7L498.7,1134.7L491.9,1144.7L485.1,1134.7Z" fill="none" stroke="#0F7F0F" stroke-width="3.3"/><path d="M505.0,1124.4L511.8,1134.4L505.0,1144.4L498.2,1134.4Z" fill="none" stroke="#0F7F0F" stroke-width="3.3"/><path d="M518.1,1124.1L524.9,1134.1L518.1,1144.1L511.3,1134.1Z" fill="none" stroke="#0F7F0F" stroke-width="3.3"/><path d="M531.2,1123.9L538.0,1133.9L531.2,1143.9L524.4,1133.9Z" fill="none" stroke="#0F7F0F" stroke-width="3.3"/><path d="M544.3,1123.6L551.1,1133.6L544.3,1143.6L537.5,1133.6Z" fill="none" stroke="#0F7F0F" stroke-width="3.3"/><path d="M557.4,1123.2L564.2,1133.2L557.4,1143.2L550.6,1133.2Z" fill="none" stroke="#0F7F0F" stroke-width="3.3"/><path d="M570.5,1122.9L577.3,1132.9L570.5,1142.9L563.7,1132.9Z" fill="none" stroke="#0F7F0F" stroke-width="3.3"/><path d="M583.6,1122.5L590.4,1132.5L583.6,1142.5L576.8,1132.5Z" fill="none" stroke="#0F7F0F" stroke-width="3.3"/><path d="M596.7,1122.0L603.5,1132.0L596.7,1142.0L589.9,1132.0Z" fill="none" stroke="#0F7F0F" stroke-width="3.3"/><path d="M609.9,1121.5L616.7,1131.5L609.9,1141.5L603.1,1131.5Z" fill="none" stroke="#0F7F0F" stroke-width="3.3"/><path d="M623.0,1120.9L629.8,1130.9L623.0,1140.9L616.2,1130.9Z" fill="none" stroke="#0F7F0F" stroke-width="3.3"/><path d="M636.1,1120.2L642.9,1130.2L636.1,1140.2L629.3,1130.2Z" fill="none" stroke="#0F7F0F" stroke-width="3.3"/><path d="M649.2,1119.3L656.0,1129.3L649.2,1139.3L642.4,1129.3Z" fill="none" stroke="#0F7F0F" stroke-width="3.3"/><path d="M662.3,1117.9L669.1,1127.9L662.3,1137.9L655.5,1127.9Z" fill="none" stroke="#0F7F0F" stroke-width="3.3"/><path d="M675.4,1116.1L682.2,1126.1L675.4,1136.1L668.6,1126.1Z" fill="none" stroke="#0F7F0F" stroke-width="3.3"/><path d="M688.5,1112.4L695.3,1122.4L688.5,1132.4L681.7,1122.4Z" fill="none" stroke="#0F7F0F" stroke-width="3.3"/><path d="M701.6,1108.0L708.4,1118.0L701.6,1128.0L694.8,1118.0Z" fill="none" stroke="#0F7F0F" stroke-width="3.3"/><path d="M714.8,1103.9L721.6,1113.9L714.8,1123.9L708.0,1113.9Z" fill="none" stroke="#0F7F0F" stroke-width="3.3"/><path d="M727.9,1101.4L734.7,1111.4L727.9,1121.4L721.1,1111.4Z" fill="none" stroke="#0F7F0F" stroke-width="3.3"/><path d="M741.0,1099.4L747.8,1109.4L741.0,1119.4L734.2,1109.4Z" fill="none" stroke="#0F7F0F" stroke-width="3.3"/><path d="M754.1,1098.1L760.9,1108.1L754.1,1118.1L747.3,1108.1Z" fill="none" stroke="#0F7F0F" stroke-width="3.3"/><path d="M767.2,1097.2L774.0,1107.2L767.2,1117.2L760.4,1107.2Z" fill="none" stroke="#0F7F0F" stroke-width="3.3"/><path d="M780.3,1096.5L787.1,1106.5L780.3,1116.5L773.5,1106.5Z" fill="none" stroke="#0F7F0F" stroke-width="3.3"/><path d="M793.4,1096.2L800.2,1106.2L793.4,1116.2L786.6,1106.2Z" fill="none" stroke="#0F7F0F" stroke-width="3.3"/><path d="M806.5,1097.2L813.3,1107.2L806.5,1117.2L799.7,1107.2Z" fill="none" stroke="#0F7F0F" stroke-width="3.3"/><path d="M819.7,1099.7L826.5,1109.7L819.7,1119.7L812.9,1109.7Z" fill="none" stroke="#0F7F0F" stroke-width="3.3"/><path d="M832.8,1101.8L839.6,1111.8L832.8,1121.8L826.0,1111.8Z" fill="none" stroke="#0F7F0F" stroke-width="3.3"/><path d="M845.9,1102.8L852.7,1112.8L845.9,1122.8L839.1,1112.8Z" fill="none" stroke="#0F7F0F" stroke-width="3.3"/><path d="M859.0,1103.6L865.8,1113.6L859.0,1123.6L852.2,1113.6Z" fill="none" stroke="#0F7F0F" stroke-width="3.3"/><path d="M872.1,1104.0L878.9,1114.0L872.1,1124.0L865.3,1114.0Z" fill="none" stroke="#0F7F0F" stroke-width="3.3"/><path d="M885.2,1103.5L892.0,1113.5L885.2,1123.5L878.4,1113.5Z" fill="none" stroke="#0F7F0F" stroke-width="3.3"/><path d="M898.3,1101.7L905.1,1111.7L898.3,1121.7L891.5,1111.7Z" fill="none" stroke="#0F7F0F" stroke-width="3.3"/><path d="M911.4,1099.3L918.2,1109.3L911.4,1119.3L904.6,1109.3Z" fill="none" stroke="#0F7F0F" stroke-width="3.3"/><path d="M924.5,1096.9L931.3,1106.9L924.5,1116.9L917.7,1106.9Z" fill="none" stroke="#0F7F0F" stroke-width="3.3"/><path d="M937.7,1094.1L944.5,1104.1L937.7,1114.1L930.9,1104.1Z" fill="none" stroke="#0F7F0F" stroke-width="3.3"/><path d="M950.8,1091.2L957.6,1101.2L950.8,1111.2L944.0,1101.2Z" fill="none" stroke="#0F7F0F" stroke-width="3.3"/><path d="M963.9,1088.9L970.7,1098.9L963.9,1108.9L957.1,1098.9Z" fill="none" stroke="#0F7F0F" stroke-width="3.3"/><path d="M977.0,1086.9L983.8,1096.9L977.0,1106.9L970.2,1096.9Z" fill="none" stroke="#0F7F0F" stroke-width="3.3"/><path d="M990.1,1085.0L996.9,1095.0L990.1,1105.0L983.3,1095.0Z" fill="none" stroke="#0F7F0F" stroke-width="3.3"/><path d="M1003.2,1083.1L1010.0,1093.1L1003.2,1103.1L996.4,1093.1Z" fill="none" stroke="#0F7F0F" stroke-width="3.3"/><path d="M1016.3,1081.0L1023.1,1091.0L1016.3,1101.0L1009.5,1091.0Z" fill="none" stroke="#0F7F0F" stroke-width="3.3"/><path d="M1029.4,1078.9L1036.2,1088.9L1029.4,1098.9L1022.6,1088.9Z" fill="none" stroke="#0F7F0F" stroke-width="3.3"/>
</g>
<g clip-path="url(#cl2l)">
<polyline points="380.4,1115.4 382.6,1115.4 384.8,1115.3 387.0,1115.3 389.2,1115.2 391.4,1115.1 393.6,1115.1 395.7,1115.0 397.9,1114.9 400.1,1114.8 402.3,1114.7 404.5,1114.7 406.7,1114.6 408.9,1114.5 411.1,1114.4 413.3,1114.3 415.5,1114.2 417.7,1114.1 419.9,1114.0 422.1,1113.9 424.3,1113.8 426.4,1113.7 428.6,1113.6 430.8,1113.4 433.0,1113.3 435.2,1113.2 437.4,1113.1 439.6,1113.0 441.8,1112.9 444.0,1112.7 446.2,1112.6 448.4,1112.5 450.6,1112.3 452.8,1112.2 454.9,1112.1 457.1,1111.9 459.3,1111.8 461.5,1111.7 463.7,1111.5 465.9,1111.4 468.1,1111.2 470.3,1111.1 472.5,1110.9 474.7,1110.8 476.9,1110.6 479.1,1110.5 481.3,1110.3 483.5,1110.2 485.6,1110.0 487.8,1109.9 490.0,1109.7 492.2,1109.6 494.4,1109.4 496.6,1109.2 498.8,1109.1 501.0,1108.9 503.2,1108.8 505.4,1108.6 507.6,1108.4 509.8,1108.3 512.0,1108.1 514.2,1107.9 516.3,1107.7 518.5,1107.6 520.7,1107.4 522.9,1107.2 525.1,1107.0 527.3,1106.8 529.5,1106.6 531.7,1106.4 533.9,1106.2 536.1,1105.9 538.3,1105.7 540.5,1105.5 542.7,1105.3 544.8,1105.0 547.0,1104.8 549.2,1104.5 551.4,1104.3 553.6,1104.0 555.8,1103.8 558.0,1103.5 560.2,1103.3 562.4,1103.0 564.6,1102.8 566.8,1102.5 569.0,1102.2 571.2,1101.9 573.4,1101.7 575.5,1101.4 577.7,1101.1 579.9,1100.9 582.1,1100.6 584.3,1100.3 586.5,1100.0 588.7,1099.7 590.9,1099.5 593.1,1099.2 595.3,1098.9 597.5,1098.6 599.7,1098.3 601.9,1098.0 604.0,1097.8 606.2,1097.5 608.4,1097.2 610.6,1096.9 612.8,1096.6 615.0,1096.4 617.2,1096.1 619.4,1095.8 621.6,1095.5 623.8,1095.3 626.0,1095.0 628.2,1094.7 630.4,1094.4 632.6,1094.2 634.7,1093.9 636.9,1093.6 639.1,1093.4 641.3,1093.1 643.5,1092.9 645.7,1092.6 647.9,1092.3 650.1,1092.0 652.3,1091.8 654.5,1091.5 656.7,1091.2 658.9,1091.0 661.1,1090.7 663.3,1090.4 665.4,1090.2 667.6,1089.9 669.8,1089.6 672.0,1089.3 674.2,1089.1 676.4,1088.8 678.6,1088.5 680.8,1088.2 683.0,1088.0 685.2,1087.7 687.4,1087.4 689.6,1087.1 691.8,1086.8 693.9,1086.6 696.1,1086.3 698.3,1086.0 700.5,1085.7 702.7,1085.4 704.9,1085.1 707.1,1084.9 709.3,1084.6 711.5,1084.3 713.7,1084.0 715.9,1083.7 718.1,1083.5 720.3,1083.2 722.5,1083.0 724.6,1082.7 726.8,1082.5 729.0,1082.3 731.2,1082.1 733.4,1081.9 735.6,1081.7 737.8,1081.5 740.0,1081.3 742.2,1081.1 744.4,1080.8 746.6,1080.6 748.8,1080.4 751.0,1080.1 753.1,1079.8 755.3,1079.5 757.5,1079.2 759.7,1078.8 761.9,1078.4 764.1,1078.0 766.3,1077.6 768.5,1077.1 770.7,1076.6 772.9,1076.0 775.1,1075.3 777.3,1074.2 779.5,1072.7 781.7,1071.0 783.8,1069.1 786.0,1066.9 788.2,1064.3 790.4,1061.5 792.6,1058.5 794.8,1055.5 797.0,1052.0 799.2,1048.1 801.4,1044.0 803.6,1039.7 805.8,1035.6 808.0,1031.8 810.2,1028.6 812.4,1026.1 814.5,1024.1 816.7,1022.4 818.9,1020.7 821.1,1018.8 823.3,1016.6 825.5,1013.8 827.7,1010.5 829.9,1007.1 832.1,1003.8 834.3,1000.8 836.5,998.0 838.7,995.5 840.9,993.0 843.0,990.6 845.2,988.1 847.4,985.6 849.6,983.1 851.8,980.6 854.0,978.1 856.2,975.6 858.4,973.2 860.6,971.0 862.8,968.9 865.0,966.8 867.2,964.9 869.4,963.0 871.6,961.3 873.7,959.7 875.9,958.1 878.1,956.5 880.3,954.9 882.5,953.7 884.7,953.0 886.9,952.9 889.1,952.9 891.3,952.9 893.5,952.9 895.7,952.9 897.9,952.9 900.1,953.0 902.2,953.4 904.4,954.0 906.6,954.8 908.8,955.6 911.0,956.4 913.2,957.3 915.4,958.5 917.6,959.8 919.8,961.1 922.0,962.5 924.2,963.9 926.4,965.5 928.6,967.2 930.8,968.9 932.9,970.5 935.1,972.0 937.3,973.3 939.5,974.5 941.7,975.7 943.9,976.8 946.1,977.9 948.3,978.9 950.5,979.8 952.7,980.7 954.9,981.6 957.1,982.4 959.3,983.2 961.5,983.9 963.6,984.5 965.8,985.0 968.0,985.5 970.2,985.9 972.4,986.3 974.6,986.6 976.8,986.7 979.0,986.6 981.2,986.4 983.4,986.2 985.6,985.8 987.8,985.4 990.0,985.0 992.1,984.5 994.3,983.9 996.5,983.0 998.7,982.0 1000.9,981.0 1003.1,980.0 1005.3,979.0 1007.5,977.8 1009.7,976.7 1011.9,975.5 1014.1,974.6 1016.3,974.0 1018.5,973.7 1020.7,973.3 1022.8,973.0 1025.0,972.7 1027.2,972.5 1029.4,972.3 1031.6,972.2 1033.8,972.1 1036.0,972.0" stroke="#F000F0" stroke-width="3.0" fill="none" stroke-linejoin="round" />
<path d="M379.5,1121.3H394.5L387.0,1107.8Z" fill="none" stroke="#F000F0" stroke-width="3.3" stroke-linejoin="miter"/><path d="M392.6,1120.8H407.6L400.1,1107.3Z" fill="none" stroke="#F000F0" stroke-width="3.3" stroke-linejoin="miter"/><path d="M405.7,1120.3H420.7L413.2,1106.8Z" fill="none" stroke="#F000F0" stroke-width="3.3" stroke-linejoin="miter"/><path d="M418.8,1119.7H433.8L426.3,1106.2Z" fill="none" stroke="#F000F0" stroke-width="3.3" stroke-linejoin="miter"/><path d="M431.9,1119.0H446.9L439.4,1105.5Z" fill="none" stroke="#F000F0" stroke-width="3.3" stroke-linejoin="miter"/><path d="M445.0,1118.2H460.0L452.5,1104.7Z" fill="none" stroke="#F000F0" stroke-width="3.3" stroke-linejoin="miter"/><path d="M458.1,1117.4H473.1L465.6,1103.9Z" fill="none" stroke="#F000F0" stroke-width="3.3" stroke-linejoin="miter"/><path d="M471.2,1116.5H486.2L478.7,1103.0Z" fill="none" stroke="#F000F0" stroke-width="3.3" stroke-linejoin="miter"/><path d="M484.4,1115.6H499.4L491.9,1102.1Z" fill="none" stroke="#F000F0" stroke-width="3.3" stroke-linejoin="miter"/><path d="M497.5,1114.6H512.5L505.0,1101.1Z" fill="none" stroke="#F000F0" stroke-width="3.3" stroke-linejoin="miter"/><path d="M510.6,1113.6H525.6L518.1,1100.1Z" fill="none" stroke="#F000F0" stroke-width="3.3" stroke-linejoin="miter"/><path d="M523.7,1112.4H538.7L531.2,1098.9Z" fill="none" stroke="#F000F0" stroke-width="3.3" stroke-linejoin="miter"/><path d="M536.8,1111.1H551.8L544.3,1097.6Z" fill="none" stroke="#F000F0" stroke-width="3.3" stroke-linejoin="miter"/><path d="M549.9,1109.6H564.9L557.4,1096.1Z" fill="none" stroke="#F000F0" stroke-width="3.3" stroke-linejoin="miter"/><path d="M563.0,1108.0H578.0L570.5,1094.5Z" fill="none" stroke="#F000F0" stroke-width="3.3" stroke-linejoin="miter"/><path d="M576.1,1106.4H591.1L583.6,1092.9Z" fill="none" stroke="#F000F0" stroke-width="3.3" stroke-linejoin="miter"/><path d="M589.2,1104.7H604.2L596.7,1091.2Z" fill="none" stroke="#F000F0" stroke-width="3.3" stroke-linejoin="miter"/><path d="M602.4,1103.0H617.4L609.9,1089.5Z" fill="none" stroke="#F000F0" stroke-width="3.3" stroke-linejoin="miter"/><path d="M615.5,1101.4H630.5L623.0,1087.9Z" fill="none" stroke="#F000F0" stroke-width="3.3" stroke-linejoin="miter"/><path d="M628.6,1099.8H643.6L636.1,1086.3Z" fill="none" stroke="#F000F0" stroke-width="3.3" stroke-linejoin="miter"/><path d="M641.7,1098.2H656.7L649.2,1084.7Z" fill="none" stroke="#F000F0" stroke-width="3.3" stroke-linejoin="miter"/><path d="M654.8,1096.5H669.8L662.3,1083.0Z" fill="none" stroke="#F000F0" stroke-width="3.3" stroke-linejoin="miter"/><path d="M667.9,1094.9H682.9L675.4,1081.4Z" fill="none" stroke="#F000F0" stroke-width="3.3" stroke-linejoin="miter"/><path d="M681.0,1093.3H696.0L688.5,1079.8Z" fill="none" stroke="#F000F0" stroke-width="3.3" stroke-linejoin="miter"/><path d="M694.1,1091.6H709.1L701.6,1078.1Z" fill="none" stroke="#F000F0" stroke-width="3.3" stroke-linejoin="miter"/><path d="M707.3,1089.9H722.3L714.8,1076.4Z" fill="none" stroke="#F000F0" stroke-width="3.3" stroke-linejoin="miter"/><path d="M720.4,1088.4H735.4L727.9,1074.9Z" fill="none" stroke="#F000F0" stroke-width="3.3" stroke-linejoin="miter"/><path d="M733.5,1087.2H748.5L741.0,1073.7Z" fill="none" stroke="#F000F0" stroke-width="3.3" stroke-linejoin="miter"/><path d="M746.6,1085.7H761.6L754.1,1072.2Z" fill="none" stroke="#F000F0" stroke-width="3.3" stroke-linejoin="miter"/><path d="M759.7,1083.4H774.7L767.2,1069.9Z" fill="none" stroke="#F000F0" stroke-width="3.3" stroke-linejoin="miter"/><path d="M772.8,1078.0H787.8L780.3,1064.5Z" fill="none" stroke="#F000F0" stroke-width="3.3" stroke-linejoin="miter"/><path d="M785.9,1063.4H800.9L793.4,1049.9Z" fill="none" stroke="#F000F0" stroke-width="3.3" stroke-linejoin="miter"/><path d="M799.0,1040.2H814.0L806.5,1026.7Z" fill="none" stroke="#F000F0" stroke-width="3.3" stroke-linejoin="miter"/><path d="M812.2,1026.1H827.2L819.7,1012.6Z" fill="none" stroke="#F000F0" stroke-width="3.3" stroke-linejoin="miter"/><path d="M825.3,1008.8H840.3L832.8,995.3Z" fill="none" stroke="#F000F0" stroke-width="3.3" stroke-linejoin="miter"/><path d="M838.4,993.4H853.4L845.9,979.9Z" fill="none" stroke="#F000F0" stroke-width="3.3" stroke-linejoin="miter"/><path d="M851.5,978.6H866.5L859.0,965.1Z" fill="none" stroke="#F000F0" stroke-width="3.3" stroke-linejoin="miter"/><path d="M864.6,966.9H879.6L872.1,953.4Z" fill="none" stroke="#F000F0" stroke-width="3.3" stroke-linejoin="miter"/><path d="M877.7,959.0H892.7L885.2,945.5Z" fill="none" stroke="#F000F0" stroke-width="3.3" stroke-linejoin="miter"/><path d="M890.8,958.9H905.8L898.3,945.4Z" fill="none" stroke="#F000F0" stroke-width="3.3" stroke-linejoin="miter"/><path d="M903.9,962.6H918.9L911.4,949.1Z" fill="none" stroke="#F000F0" stroke-width="3.3" stroke-linejoin="miter"/><path d="M917.0,970.2H932.0L924.5,956.7Z" fill="none" stroke="#F000F0" stroke-width="3.3" stroke-linejoin="miter"/><path d="M930.2,979.5H945.2L937.7,966.0Z" fill="none" stroke="#F000F0" stroke-width="3.3" stroke-linejoin="miter"/><path d="M943.3,985.9H958.3L950.8,972.4Z" fill="none" stroke="#F000F0" stroke-width="3.3" stroke-linejoin="miter"/><path d="M956.4,990.6H971.4L963.9,977.1Z" fill="none" stroke="#F000F0" stroke-width="3.3" stroke-linejoin="miter"/><path d="M969.5,992.7H984.5L977.0,979.2Z" fill="none" stroke="#F000F0" stroke-width="3.3" stroke-linejoin="miter"/><path d="M982.6,991.0H997.6L990.1,977.5Z" fill="none" stroke="#F000F0" stroke-width="3.3" stroke-linejoin="miter"/><path d="M995.7,985.9H1010.7L1003.2,972.4Z" fill="none" stroke="#F000F0" stroke-width="3.3" stroke-linejoin="miter"/><path d="M1008.8,980.0H1023.8L1016.3,966.5Z" fill="none" stroke="#F000F0" stroke-width="3.3" stroke-linejoin="miter"/><path d="M1021.9,978.3H1036.9L1029.4,964.8Z" fill="none" stroke="#F000F0" stroke-width="3.3" stroke-linejoin="miter"/>
</g>
<g clip-path="url(#cl2l)">
<polyline points="380.4,1106.2 382.6,1106.1 384.8,1106.0 387.0,1106.0 389.2,1105.9 391.4,1105.8 393.6,1105.8 395.7,1105.7 397.9,1105.6 400.1,1105.5 402.3,1105.4 404.5,1105.3 406.7,1105.2 408.9,1105.1 411.1,1104.9 413.3,1104.8 415.5,1104.7 417.7,1104.6 419.9,1104.4 422.1,1104.3 424.3,1104.1 426.4,1104.0 428.6,1103.8 430.8,1103.7 433.0,1103.5 435.2,1103.4 437.4,1103.2 439.6,1103.0 441.8,1102.8 444.0,1102.7 446.2,1102.5 448.4,1102.3 450.6,1102.1 452.8,1101.9 454.9,1101.7 457.1,1101.5 459.3,1101.3 461.5,1101.1 463.7,1100.9 465.9,1100.7 468.1,1100.5 470.3,1100.3 472.5,1100.1 474.7,1099.9 476.9,1099.7 479.1,1099.5 481.3,1099.2 483.5,1099.0 485.6,1098.8 487.8,1098.6 490.0,1098.3 492.2,1098.1 494.4,1097.9 496.6,1097.6 498.8,1097.4 501.0,1097.2 503.2,1096.9 505.4,1096.7 507.6,1096.5 509.8,1096.2 512.0,1096.0 514.2,1095.7 516.3,1095.5 518.5,1095.2 520.7,1095.0 522.9,1094.7 525.1,1094.4 527.3,1094.1 529.5,1093.8 531.7,1093.5 533.9,1093.2 536.1,1092.9 538.3,1092.6 540.5,1092.3 542.7,1091.9 544.8,1091.6 547.0,1091.2 549.2,1090.9 551.4,1090.5 553.6,1090.1 555.8,1089.8 558.0,1089.4 560.2,1089.0 562.4,1088.6 564.6,1088.2 566.8,1087.8 569.0,1087.4 571.2,1087.0 573.4,1086.6 575.5,1086.2 577.7,1085.8 579.9,1085.4 582.1,1084.9 584.3,1084.5 586.5,1084.0 588.7,1083.6 590.9,1083.2 593.1,1082.7 595.3,1082.3 597.5,1081.8 599.7,1081.3 601.9,1080.9 604.0,1080.4 606.2,1079.9 608.4,1079.4 610.6,1079.0 612.8,1078.5 615.0,1078.0 617.2,1077.5 619.4,1077.0 621.6,1076.5 623.8,1076.0 626.0,1075.5 628.2,1075.0 630.4,1074.5 632.6,1074.0 634.7,1073.5 636.9,1073.0 639.1,1072.5 641.3,1072.0 643.5,1071.4 645.7,1070.9 647.9,1070.3 650.1,1069.7 652.3,1069.2 654.5,1068.6 656.7,1068.0 658.9,1067.4 661.1,1066.8 663.3,1066.1 665.4,1065.5 667.6,1064.9 669.8,1064.2 672.0,1063.6 674.2,1062.9 676.4,1062.3 678.6,1061.6 680.8,1060.9 683.0,1060.2 685.2,1059.5 687.4,1058.8 689.6,1058.1 691.8,1057.4 693.9,1056.6 696.1,1055.9 698.3,1055.2 700.5,1054.4 702.7,1053.7 704.9,1052.9 707.1,1052.1 709.3,1051.4 711.5,1050.6 713.7,1049.8 715.9,1049.0 718.1,1048.1 720.3,1047.3 722.5,1046.3 724.6,1045.4 726.8,1044.4 729.0,1043.4 731.2,1042.4 733.4,1041.3 735.6,1040.3 737.8,1039.3 740.0,1038.2 742.2,1037.2 744.4,1036.2 746.6,1035.2 748.8,1034.2 751.0,1033.2 753.1,1032.3 755.3,1031.4 757.5,1030.5 759.7,1029.7 761.9,1029.0 764.1,1028.2 766.3,1027.5 768.5,1026.8 770.7,1026.1 772.9,1025.5 775.1,1024.8 777.3,1024.2 779.5,1023.6 781.7,1022.9 783.8,1022.3 786.0,1021.7 788.2,1021.1 790.4,1020.4 792.6,1019.9 794.8,1019.4 797.0,1018.9 799.2,1018.5 801.4,1018.1 803.6,1017.7 805.8,1017.2 808.0,1016.8 810.2,1016.2 812.4,1015.6 814.5,1014.9 816.7,1014.1 818.9,1013.1 821.1,1012.0 823.3,1010.0 825.5,1006.2 827.7,1001.2 829.9,995.7 832.1,990.4 834.3,985.2 836.5,979.7 838.7,974.0 840.9,968.2 843.0,962.3 845.2,956.5 847.4,950.6 849.6,944.6 851.8,938.6 854.0,932.5 856.2,926.5 858.4,920.5 860.6,914.6 862.8,908.8 865.0,902.9 867.2,897.0 869.4,890.9 871.6,884.6 873.7,877.9 875.9,871.0 878.1,863.9 880.3,856.8 882.5,850.0 884.7,843.4 886.9,836.9 889.1,830.5 891.3,824.3 893.5,818.5 895.7,813.3 897.9,808.7 900.1,804.4 902.2,800.4 904.4,796.6 906.6,793.2 908.8,790.1 911.0,787.3 913.2,784.7 915.4,782.0 917.6,779.6 919.8,777.7 922.0,776.4 924.2,776.0 926.4,775.7 928.6,775.5 930.8,775.3 932.9,775.3 935.1,775.3 937.3,775.8 939.5,776.7 941.7,777.8 943.9,779.2 946.1,780.6 948.3,782.1 950.5,783.7 952.7,785.5 954.9,787.7 957.1,790.1 959.3,792.5 961.5,794.7 963.6,796.7 965.8,798.7 968.0,800.7 970.2,802.5 972.4,804.1 974.6,805.4 976.8,806.4 979.0,807.4 981.2,808.3 983.4,809.1 985.6,809.8 987.8,810.4 990.0,810.8 992.1,810.9 994.3,810.9 996.5,810.9 998.7,810.8 1000.9,810.7 1003.1,810.5 1005.3,810.3 1007.5,810.1 1009.7,809.8 1011.9,809.6 1014.1,809.3 1016.3,809.0 1018.5,808.4 1020.7,807.8 1022.8,807.0 1025.0,806.1 1027.2,805.2 1029.4,804.1 1031.6,803.0 1033.8,801.8 1036.0,800.5" stroke="#EAAA1A" stroke-width="3.0" fill="none" stroke-linejoin="round" />
<path d="M382.5,1101.5L391.5,1110.5M382.5,1110.5L391.5,1101.5M382.0,1106.0H392.0" stroke="#EAAA1A" stroke-width="3.0"/><path d="M395.6,1101.0L404.6,1110.0M395.6,1110.0L404.6,1101.0M395.1,1105.5H405.1" stroke="#EAAA1A" stroke-width="3.0"/><path d="M408.7,1100.3L417.7,1109.3M408.7,1109.3L417.7,1100.3M408.2,1104.8H418.2" stroke="#EAAA1A" stroke-width="3.0"/><path d="M421.8,1099.5L430.8,1108.5M421.8,1108.5L430.8,1099.5M421.3,1104.0H431.3" stroke="#EAAA1A" stroke-width="3.0"/><path d="M434.9,1098.5L443.9,1107.5M434.9,1107.5L443.9,1098.5M434.4,1103.0H444.4" stroke="#EAAA1A" stroke-width="3.0"/><path d="M448.0,1097.5L457.0,1106.5M448.0,1106.5L457.0,1097.5M447.5,1102.0H457.5" stroke="#EAAA1A" stroke-width="3.0"/><path d="M461.1,1096.3L470.1,1105.3M461.1,1105.3L470.1,1096.3M460.6,1100.8H470.6" stroke="#EAAA1A" stroke-width="3.0"/><path d="M474.2,1095.0L483.2,1104.0M474.2,1104.0L483.2,1095.0M473.7,1099.5H483.7" stroke="#EAAA1A" stroke-width="3.0"/><path d="M487.4,1093.6L496.4,1102.6M487.4,1102.6L496.4,1093.6M486.9,1098.1H496.9" stroke="#EAAA1A" stroke-width="3.0"/><path d="M500.5,1092.2L509.5,1101.2M500.5,1101.2L509.5,1092.2M500.0,1096.7H510.0" stroke="#EAAA1A" stroke-width="3.0"/><path d="M513.6,1090.8L522.6,1099.8M513.6,1099.8L522.6,1090.8M513.1,1095.3H523.1" stroke="#EAAA1A" stroke-width="3.0"/><path d="M526.7,1089.1L535.7,1098.1M526.7,1098.1L535.7,1089.1M526.2,1093.6H536.2" stroke="#EAAA1A" stroke-width="3.0"/><path d="M539.8,1087.2L548.8,1096.2M539.8,1096.2L548.8,1087.2M539.3,1091.7H549.3" stroke="#EAAA1A" stroke-width="3.0"/><path d="M552.9,1085.0L561.9,1094.0M552.9,1094.0L561.9,1085.0M552.4,1089.5H562.4" stroke="#EAAA1A" stroke-width="3.0"/><path d="M566.0,1082.7L575.0,1091.7M566.0,1091.7L575.0,1082.7M565.5,1087.2H575.5" stroke="#EAAA1A" stroke-width="3.0"/><path d="M579.1,1080.1L588.1,1089.1M579.1,1089.1L588.1,1080.1M578.6,1084.6H588.6" stroke="#EAAA1A" stroke-width="3.0"/><path d="M592.2,1077.4L601.2,1086.4M592.2,1086.4L601.2,1077.4M591.7,1081.9H601.7" stroke="#EAAA1A" stroke-width="3.0"/><path d="M605.4,1074.6L614.4,1083.6M605.4,1083.6L614.4,1074.6M604.9,1079.1H614.9" stroke="#EAAA1A" stroke-width="3.0"/><path d="M618.5,1071.7L627.5,1080.7M618.5,1080.7L627.5,1071.7M618.0,1076.2H628.0" stroke="#EAAA1A" stroke-width="3.0"/><path d="M631.6,1068.7L640.6,1077.7M631.6,1077.7L640.6,1068.7M631.1,1073.2H641.1" stroke="#EAAA1A" stroke-width="3.0"/><path d="M644.7,1065.5L653.7,1074.5M644.7,1074.5L653.7,1065.5M644.2,1070.0H654.2" stroke="#EAAA1A" stroke-width="3.0"/><path d="M657.8,1061.9L666.8,1070.9M657.8,1070.9L666.8,1061.9M657.3,1066.4H667.3" stroke="#EAAA1A" stroke-width="3.0"/><path d="M670.9,1058.1L679.9,1067.1M670.9,1067.1L679.9,1058.1M670.4,1062.6H680.4" stroke="#EAAA1A" stroke-width="3.0"/><path d="M684.0,1053.9L693.0,1062.9M684.0,1062.9L693.0,1053.9M683.5,1058.4H693.5" stroke="#EAAA1A" stroke-width="3.0"/><path d="M697.1,1049.5L706.1,1058.5M697.1,1058.5L706.1,1049.5M696.6,1054.0H706.6" stroke="#EAAA1A" stroke-width="3.0"/><path d="M710.3,1044.9L719.3,1053.9M710.3,1053.9L719.3,1044.9M709.8,1049.4H719.8" stroke="#EAAA1A" stroke-width="3.0"/><path d="M723.4,1039.4L732.4,1048.4M723.4,1048.4L732.4,1039.4M722.9,1043.9H732.9" stroke="#EAAA1A" stroke-width="3.0"/><path d="M736.5,1033.3L745.5,1042.3M736.5,1042.3L745.5,1033.3M736.0,1037.8H746.0" stroke="#EAAA1A" stroke-width="3.0"/><path d="M749.6,1027.4L758.6,1036.4M749.6,1036.4L758.6,1027.4M749.1,1031.9H759.1" stroke="#EAAA1A" stroke-width="3.0"/><path d="M762.7,1022.7L771.7,1031.7M762.7,1031.7L771.7,1022.7M762.2,1027.2H772.2" stroke="#EAAA1A" stroke-width="3.0"/><path d="M775.8,1018.8L784.8,1027.8M775.8,1027.8L784.8,1018.8M775.3,1023.3H785.3" stroke="#EAAA1A" stroke-width="3.0"/><path d="M788.9,1015.2L797.9,1024.2M788.9,1024.2L797.9,1015.2M788.4,1019.7H798.4" stroke="#EAAA1A" stroke-width="3.0"/><path d="M802.0,1012.6L811.0,1021.6M802.0,1021.6L811.0,1012.6M801.5,1017.1H811.5" stroke="#EAAA1A" stroke-width="3.0"/><path d="M815.2,1008.2L824.2,1017.2M815.2,1017.2L824.2,1008.2M814.7,1012.7H824.7" stroke="#EAAA1A" stroke-width="3.0"/><path d="M828.3,984.3L837.3,993.3M828.3,993.3L837.3,984.3M827.8,988.8H837.8" stroke="#EAAA1A" stroke-width="3.0"/><path d="M841.4,950.3L850.4,959.3M841.4,959.3L850.4,950.3M840.9,954.8H850.9" stroke="#EAAA1A" stroke-width="3.0"/><path d="M854.5,914.4L863.5,923.4M854.5,923.4L863.5,914.4M854.0,918.9H864.0" stroke="#EAAA1A" stroke-width="3.0"/><path d="M867.6,878.5L876.6,887.5M867.6,887.5L876.6,878.5M867.1,883.0H877.1" stroke="#EAAA1A" stroke-width="3.0"/><path d="M880.7,837.5L889.7,846.5M880.7,846.5L889.7,837.5M880.2,842.0H890.2" stroke="#EAAA1A" stroke-width="3.0"/><path d="M893.8,803.3L902.8,812.3M893.8,812.3L902.8,803.3M893.3,807.8H903.3" stroke="#EAAA1A" stroke-width="3.0"/><path d="M906.9,782.3L915.9,791.3M906.9,791.3L915.9,782.3M906.4,786.8H916.4" stroke="#EAAA1A" stroke-width="3.0"/><path d="M920.0,771.4L929.0,780.4M920.0,780.4L929.0,771.4M919.5,775.9H929.5" stroke="#EAAA1A" stroke-width="3.0"/><path d="M933.2,771.4L942.2,780.4M933.2,780.4L942.2,771.4M932.7,775.9H942.7" stroke="#EAAA1A" stroke-width="3.0"/><path d="M946.3,779.4L955.3,788.4M946.3,788.4L955.3,779.4M945.8,783.9H955.8" stroke="#EAAA1A" stroke-width="3.0"/><path d="M959.4,792.4L968.4,801.4M959.4,801.4L968.4,792.4M958.9,796.9H968.9" stroke="#EAAA1A" stroke-width="3.0"/><path d="M972.5,802.0L981.5,811.0M972.5,811.0L981.5,802.0M972.0,806.5H982.0" stroke="#EAAA1A" stroke-width="3.0"/><path d="M985.6,806.3L994.6,815.3M985.6,815.3L994.6,806.3M985.1,810.8H995.1" stroke="#EAAA1A" stroke-width="3.0"/><path d="M998.7,806.0L1007.7,815.0M998.7,815.0L1007.7,806.0M998.2,810.5H1008.2" stroke="#EAAA1A" stroke-width="3.0"/><path d="M1011.8,804.4L1020.8,813.4M1011.8,813.4L1020.8,804.4M1011.3,808.9H1021.3" stroke="#EAAA1A" stroke-width="3.0"/><path d="M1024.9,799.6L1033.9,808.6M1024.9,808.6L1033.9,799.6M1024.4,804.1H1034.4" stroke="#EAAA1A" stroke-width="3.0"/>
</g>
<rect x="398.6" y="709.1" width="151.5" height="213.2" fill="#fff" stroke="#3a3a3a" stroke-width="1.6"/>
<line x1="406.1" y1="729.6" x2="472.6" y2="729.6" stroke="#000000" stroke-width="2.4" />
<path d="M432.1,723.6H446.1L439.1,737.1Z" fill="none" stroke="#000000" stroke-width="3.4" stroke-linejoin="miter"/>
<text x="479.1" y="737.6" font-size="29.5" font-family="'Liberation Serif', 'Times New Roman', serif" fill="#111" textLength="64.0" lengthAdjust="spacingAndGlyphs" >0.5 C</text>
<line x1="406.1" y1="764.2" x2="472.6" y2="764.2" stroke="#E41A1C" stroke-width="2.4" />
<circle cx="439.1" cy="764.2" r="6.3" fill="none" stroke="#E41A1C" stroke-width="3.0"/>
<text x="479.1" y="772.2" font-size="29.5" font-family="'Liberation Serif', 'Times New Roman', serif" fill="#111" textLength="47.0" lengthAdjust="spacingAndGlyphs" >1 C</text>
<line x1="406.1" y1="798.8" x2="472.6" y2="798.8" stroke="#0000E6" stroke-width="2.4" />
<path d="M432.6,798.8H445.6M439.1,791.8V805.8" stroke="#0000E6" stroke-width="3.6"/>
<text x="479.1" y="806.8" font-size="29.5" font-family="'Liberation Serif', 'Times New Roman', serif" fill="#111" textLength="47.0" lengthAdjust="spacingAndGlyphs" >2 C</text>
<line x1="406.1" y1="833.4" x2="472.6" y2="833.4" stroke="#0F7F0F" stroke-width="2.4" />
<path d="M439.1,823.4L445.9,833.4L439.1,843.4L432.3,833.4Z" fill="none" stroke="#0F7F0F" stroke-width="3.3"/>
<text x="479.1" y="841.4" font-size="29.5" font-family="'Liberation Serif', 'Times New Roman', serif" fill="#111" textLength="47.0" lengthAdjust="spacingAndGlyphs" >3 C</text>
<line x1="406.1" y1="868.0" x2="472.6" y2="868.0" stroke="#F000F0" stroke-width="2.4" />
<path d="M431.6,874.0H446.6L439.1,860.5Z" fill="none" stroke="#F000F0" stroke-width="3.3" stroke-linejoin="miter"/>
<text x="479.1" y="876.0" font-size="29.5" font-family="'Liberation Serif', 'Times New Roman', serif" fill="#111" textLength="47.0" lengthAdjust="spacingAndGlyphs" >4 C</text>
<line x1="406.1" y1="902.6" x2="472.6" y2="902.6" stroke="#EAAA1A" stroke-width="2.4" />
<path d="M434.6,898.1L443.6,907.1M434.6,907.1L443.6,898.1M434.1,902.6H444.1" stroke="#EAAA1A" stroke-width="3.0"/>
<text x="479.1" y="910.6" font-size="29.5" font-family="'Liberation Serif', 'Times New Roman', serif" fill="#111" textLength="47.0" lengthAdjust="spacingAndGlyphs" >5 C</text>
<text x="851.8" y="733.3" font-size="37" font-family="'Liberation Serif', 'Times New Roman', serif" fill="#111" textLength="166.0" lengthAdjust="spacingAndGlyphs" >Separator</text>
<line x1="837.0" y1="756.6" x2="1018.0" y2="756.6" stroke="#1a1a1a" stroke-width="2.1" />
<polygon points="1035.0,756.6 1016.0,763.1 1016.0,750.1" fill="#000" stroke="none" stroke-width="0" />
<text x="405.4" y="979.0" font-size="37" font-family="'Liberation Serif', 'Times New Roman', serif" fill="#111" textLength="293.0" lengthAdjust="spacingAndGlyphs" >Current collector</text>
<line x1="578.7" y1="1005.2" x2="398.0" y2="1005.2" stroke="#1a1a1a" stroke-width="2.1" />
<polygon points="381.5,1005.2 400.5,998.7 400.5,1011.7" fill="#000" stroke="none" stroke-width="0" />
<rect x="1269.6" y="690.9" width="656.2" height="562.3" fill="none" stroke="#A8A8A8" stroke-width="1.4"/>
<line x1="1400.8" y1="1253.2" x2="1400.8" y2="1246.2" stroke="#555" stroke-width="1.6" />
<line x1="1400.8" y1="690.9" x2="1400.8" y2="697.9" stroke="#555" stroke-width="1.6" />
<line x1="1532.1" y1="1253.2" x2="1532.1" y2="1246.2" stroke="#555" stroke-width="1.6" />
<line x1="1532.1" y1="690.9" x2="1532.1" y2="697.9" stroke="#555" stroke-width="1.6" />
<line x1="1663.3" y1="1253.2" x2="1663.3" y2="1246.2" stroke="#555" stroke-width="1.6" />
<line x1="1663.3" y1="690.9" x2="1663.3" y2="697.9" stroke="#555" stroke-width="1.6" />
<line x1="1794.6" y1="1253.2" x2="1794.6" y2="1246.2" stroke="#555" stroke-width="1.6" />
<line x1="1794.6" y1="690.9" x2="1794.6" y2="697.9" stroke="#555" stroke-width="1.6" />
<line x1="1269.6" y1="1159.5" x2="1276.6" y2="1159.5" stroke="#555" stroke-width="1.6" />
<line x1="1925.8" y1="1159.5" x2="1918.8" y2="1159.5" stroke="#555" stroke-width="1.6" />
<line x1="1269.6" y1="1065.8" x2="1276.6" y2="1065.8" stroke="#555" stroke-width="1.6" />
<line x1="1925.8" y1="1065.8" x2="1918.8" y2="1065.8" stroke="#555" stroke-width="1.6" />
<line x1="1269.6" y1="972.0" x2="1276.6" y2="972.0" stroke="#555" stroke-width="1.6" />
<line x1="1925.8" y1="972.0" x2="1918.8" y2="972.0" stroke="#555" stroke-width="1.6" />
<line x1="1269.6" y1="878.3" x2="1276.6" y2="878.3" stroke="#555" stroke-width="1.6" />
<line x1="1925.8" y1="878.3" x2="1918.8" y2="878.3" stroke="#555" stroke-width="1.6" />
<line x1="1269.6" y1="784.6" x2="1276.6" y2="784.6" stroke="#555" stroke-width="1.6" />
<line x1="1925.8" y1="784.6" x2="1918.8" y2="784.6" stroke="#555" stroke-width="1.6" />
<text x="1255.6" y="1264.7" font-size="31" font-family="'Liberation Serif', 'Times New Roman', serif" fill="#474747" text-anchor="end" >0</text>
<text x="1255.6" y="1171.0" font-size="31" font-family="'Liberation Serif', 'Times New Roman', serif" fill="#474747" text-anchor="end" >1</text>
<text x="1255.6" y="1077.3" font-size="31" font-family="'Liberation Serif', 'Times New Roman', serif" fill="#474747" text-anchor="end" >2</text>
<text x="1255.6" y="983.5" font-size="31" font-family="'Liberation Serif', 'Times New Roman', serif" fill="#474747" text-anchor="end" >3</text>
<text x="1255.6" y="889.8" font-size="31" font-family="'Liberation Serif', 'Times New Roman', serif" fill="#474747" text-anchor="end" >4</text>
<text x="1255.6" y="796.1" font-size="31" font-family="'Liberation Serif', 'Times New Roman', serif" fill="#474747" text-anchor="end" >5</text>
<text x="1255.6" y="702.4" font-size="31" font-family="'Liberation Serif', 'Times New Roman', serif" fill="#474747" text-anchor="end" >6</text>
<text x="1269.6" y="1294.5" font-size="31" font-family="'Liberation Serif', 'Times New Roman', serif" fill="#474747" text-anchor="middle" >0</text>
<text x="1400.8" y="1294.5" font-size="31" font-family="'Liberation Serif', 'Times New Roman', serif" fill="#474747" text-anchor="middle" >0.2</text>
<text x="1532.1" y="1294.5" font-size="31" font-family="'Liberation Serif', 'Times New Roman', serif" fill="#474747" text-anchor="middle" >0.4</text>
<text x="1663.3" y="1294.5" font-size="31" font-family="'Liberation Serif', 'Times New Roman', serif" fill="#474747" text-anchor="middle" >0.6</text>
<text x="1794.6" y="1294.5" font-size="31" font-family="'Liberation Serif', 'Times New Roman', serif" fill="#474747" text-anchor="middle" >0.8</text>
<text x="1925.8" y="1294.5" font-size="31" font-family="'Liberation Serif', 'Times New Roman', serif" fill="#474747" text-anchor="middle" >1</text>
<text x="1272.8" y="680.5" font-size="29" font-family="'Liberation Serif', 'Times New Roman', serif" fill="#474747">×10<tspan font-size="21" dy="-12">-3</tspan></text>
<text x="1582.5" y="1335.2" font-size="36" font-family="'Liberation Serif', 'Times New Roman', serif" fill="#3a3a3a" font-style="italic">x<tspan font-size="25" dy="4.5" dx="2" font-style="normal">n</tspan></text>
<line x1="1587.7" y1="1314.2" x2="1599.3" y2="1314.2" stroke="#555" stroke-width="1.7" />
<text transform="translate(1222.5,971.8) rotate(-90)" x="0" y="0" font-size="37" font-family="'Liberation Serif', 'Times New Roman', serif" fill="#3a3a3a" text-anchor="middle" font-style="italic" textLength="89" lengthAdjust="spacingAndGlyphs">σ<tspan font-size="26" dy="6">θ</tspan><tspan dy="-6" font-style="normal">/</tspan>E<tspan font-size="26" dy="6" font-style="normal">n</tspan></text>
<clipPath id="cl2r"><rect x="1259.6" y="690.9" width="676.2" height="574.3"/></clipPath>
<g clip-path="url(#cl2r)">
<polyline points="1269.6,1227.0 1271.8,1227.0 1274.0,1227.1 1276.2,1227.1 1278.4,1227.2 1280.6,1227.2 1282.8,1227.3 1285.0,1227.3 1287.2,1227.4 1289.4,1227.4 1291.5,1227.4 1293.7,1227.5 1295.9,1227.5 1298.1,1227.6 1300.3,1227.6 1302.5,1227.6 1304.7,1227.7 1306.9,1227.7 1309.1,1227.8 1311.3,1227.8 1313.5,1227.8 1315.7,1227.9 1317.9,1227.9 1320.1,1227.9 1322.3,1228.0 1324.5,1228.0 1326.7,1228.0 1328.9,1228.1 1331.1,1228.1 1333.2,1228.1 1335.4,1228.1 1337.6,1228.2 1339.8,1228.2 1342.0,1228.2 1344.2,1228.2 1346.4,1228.3 1348.6,1228.3 1350.8,1228.3 1353.0,1228.3 1355.2,1228.4 1357.4,1228.4 1359.6,1228.4 1361.8,1228.4 1364.0,1228.4 1366.2,1228.5 1368.4,1228.5 1370.6,1228.5 1372.7,1228.5 1374.9,1228.5 1377.1,1228.5 1379.3,1228.6 1381.5,1228.6 1383.7,1228.6 1385.9,1228.6 1388.1,1228.6 1390.3,1228.6 1392.5,1228.6 1394.7,1228.6 1396.9,1228.7 1399.1,1228.7 1401.3,1228.7 1403.5,1228.7 1405.7,1228.7 1407.9,1228.7 1410.1,1228.7 1412.3,1228.7 1414.4,1228.7 1416.6,1228.7 1418.8,1228.7 1421.0,1228.8 1423.2,1228.8 1425.4,1228.8 1427.6,1228.8 1429.8,1228.8 1432.0,1228.8 1434.2,1228.8 1436.4,1228.8 1438.6,1228.8 1440.8,1228.8 1443.0,1228.8 1445.2,1228.8 1447.4,1228.8 1449.6,1228.8 1451.8,1228.8 1454.0,1228.8 1456.1,1228.8 1458.3,1228.8 1460.5,1228.8 1462.7,1228.8 1464.9,1228.8 1467.1,1228.8 1469.3,1228.8 1471.5,1228.8 1473.7,1228.8 1475.9,1228.8 1478.1,1228.8 1480.3,1228.8 1482.5,1228.8 1484.7,1228.8 1486.9,1228.8 1489.1,1228.8 1491.3,1228.8 1493.5,1228.8 1495.6,1228.8 1497.8,1228.8 1500.0,1228.8 1502.2,1228.8 1504.4,1228.8 1506.6,1228.8 1508.8,1228.8 1511.0,1228.8 1513.2,1228.8 1515.4,1228.8 1517.6,1228.8 1519.8,1228.8 1522.0,1228.7 1524.2,1228.7 1526.4,1228.7 1528.6,1228.7 1530.8,1228.6 1533.0,1228.6 1535.2,1228.6 1537.3,1228.6 1539.5,1228.5 1541.7,1228.5 1543.9,1228.4 1546.1,1228.4 1548.3,1228.4 1550.5,1228.3 1552.7,1228.3 1554.9,1228.2 1557.1,1228.2 1559.3,1228.1 1561.5,1228.1 1563.7,1228.0 1565.9,1228.0 1568.1,1227.9 1570.3,1227.9 1572.5,1227.8 1574.7,1227.8 1576.9,1227.7 1579.0,1227.6 1581.2,1227.6 1583.4,1227.5 1585.6,1227.5 1587.8,1227.4 1590.0,1227.3 1592.2,1227.3 1594.4,1227.2 1596.6,1227.1 1598.8,1227.1 1601.0,1227.0 1603.2,1226.9 1605.4,1226.9 1607.6,1226.8 1609.8,1226.7 1612.0,1226.7 1614.2,1226.6 1616.4,1226.5 1618.5,1226.5 1620.7,1226.4 1622.9,1226.3 1625.1,1226.3 1627.3,1226.2 1629.5,1226.1 1631.7,1226.1 1633.9,1226.0 1636.1,1225.9 1638.3,1225.8 1640.5,1225.8 1642.7,1225.7 1644.9,1225.6 1647.1,1225.6 1649.3,1225.5 1651.5,1225.4 1653.7,1225.4 1655.9,1225.3 1658.1,1225.3 1660.2,1225.2 1662.4,1225.1 1664.6,1225.1 1666.8,1225.0 1669.0,1224.9 1671.2,1224.9 1673.4,1224.8 1675.6,1224.7 1677.8,1224.7 1680.0,1224.6 1682.2,1224.5 1684.4,1224.5 1686.6,1224.4 1688.8,1224.3 1691.0,1224.2 1693.2,1224.2 1695.4,1224.1 1697.6,1224.0 1699.8,1223.9 1701.9,1223.8 1704.1,1223.8 1706.3,1223.7 1708.5,1223.6 1710.7,1223.5 1712.9,1223.4 1715.1,1223.4 1717.3,1223.3 1719.5,1223.2 1721.7,1223.1 1723.9,1223.0 1726.1,1223.0 1728.3,1222.9 1730.5,1222.8 1732.7,1222.7 1734.9,1222.6 1737.1,1222.5 1739.3,1222.5 1741.4,1222.4 1743.6,1222.3 1745.8,1222.2 1748.0,1222.1 1750.2,1222.1 1752.4,1222.0 1754.6,1221.9 1756.8,1221.8 1759.0,1221.7 1761.2,1221.7 1763.4,1221.6 1765.6,1221.5 1767.8,1221.4 1770.0,1221.4 1772.2,1221.3 1774.4,1221.2 1776.6,1221.1 1778.8,1221.1 1781.0,1221.0 1783.1,1220.9 1785.3,1220.9 1787.5,1220.8 1789.7,1220.7 1791.9,1220.7 1794.1,1220.6 1796.3,1220.5 1798.5,1220.5 1800.7,1220.4 1802.9,1220.3 1805.1,1220.3 1807.3,1220.2 1809.5,1220.1 1811.7,1220.1 1813.9,1220.0 1816.1,1220.0 1818.3,1219.9 1820.5,1219.8 1822.7,1219.8 1824.8,1219.7 1827.0,1219.6 1829.2,1219.6 1831.4,1219.5 1833.6,1219.5 1835.8,1219.4 1838.0,1219.3 1840.2,1219.3 1842.4,1219.2 1844.6,1219.2 1846.8,1219.1 1849.0,1219.0 1851.2,1219.0 1853.4,1218.9 1855.6,1218.9 1857.8,1218.8 1860.0,1218.7 1862.2,1218.7 1864.3,1218.6 1866.5,1218.6 1868.7,1218.5 1870.9,1218.4 1873.1,1218.4 1875.3,1218.3 1877.5,1218.3 1879.7,1218.2 1881.9,1218.2 1884.1,1218.1 1886.3,1218.1 1888.5,1218.0 1890.7,1217.9 1892.9,1217.9 1895.1,1217.8 1897.3,1217.8 1899.5,1217.7 1901.7,1217.7 1903.9,1217.6 1906.0,1217.6 1908.2,1217.5 1910.4,1217.5 1912.6,1217.4 1914.8,1217.4 1917.0,1217.3 1919.2,1217.3 1921.4,1217.2 1923.6,1217.2 1925.8,1217.1" stroke="#000000" stroke-width="3.0" fill="none" stroke-linejoin="round" />
<path d="M1269.2,1227.6H1283.2L1276.2,1241.1Z" fill="none" stroke="#000000" stroke-width="3.4" stroke-linejoin="miter"/><path d="M1282.3,1227.9H1296.3L1289.3,1241.4Z" fill="none" stroke="#000000" stroke-width="3.4" stroke-linejoin="miter"/><path d="M1295.4,1228.1H1309.4L1302.4,1241.6Z" fill="none" stroke="#000000" stroke-width="3.4" stroke-linejoin="miter"/><path d="M1308.5,1228.4H1322.5L1315.5,1241.9Z" fill="none" stroke="#000000" stroke-width="3.4" stroke-linejoin="miter"/><path d="M1321.7,1228.6H1335.7L1328.7,1242.1Z" fill="none" stroke="#000000" stroke-width="3.4" stroke-linejoin="miter"/><path d="M1334.8,1228.7H1348.8L1341.8,1242.2Z" fill="none" stroke="#000000" stroke-width="3.4" stroke-linejoin="miter"/><path d="M1347.9,1228.9H1361.9L1354.9,1242.4Z" fill="none" stroke="#000000" stroke-width="3.4" stroke-linejoin="miter"/><path d="M1361.0,1229.0H1375.0L1368.0,1242.5Z" fill="none" stroke="#000000" stroke-width="3.4" stroke-linejoin="miter"/><path d="M1374.2,1229.1H1388.2L1381.2,1242.6Z" fill="none" stroke="#000000" stroke-width="3.4" stroke-linejoin="miter"/><path d="M1387.3,1229.1H1401.3L1394.3,1242.6Z" fill="none" stroke="#000000" stroke-width="3.4" stroke-linejoin="miter"/><path d="M1400.4,1229.2H1414.4L1407.4,1242.7Z" fill="none" stroke="#000000" stroke-width="3.4" stroke-linejoin="miter"/><path d="M1413.5,1229.3H1427.5L1420.5,1242.8Z" fill="none" stroke="#000000" stroke-width="3.4" stroke-linejoin="miter"/><path d="M1426.6,1229.3H1440.6L1433.6,1242.8Z" fill="none" stroke="#000000" stroke-width="3.4" stroke-linejoin="miter"/><path d="M1439.8,1229.3H1453.8L1446.8,1242.8Z" fill="none" stroke="#000000" stroke-width="3.4" stroke-linejoin="miter"/><path d="M1452.9,1229.3H1466.9L1459.9,1242.8Z" fill="none" stroke="#000000" stroke-width="3.4" stroke-linejoin="miter"/><path d="M1466.0,1229.3H1480.0L1473.0,1242.8Z" fill="none" stroke="#000000" stroke-width="3.4" stroke-linejoin="miter"/><path d="M1479.1,1229.3H1493.1L1486.1,1242.8Z" fill="none" stroke="#000000" stroke-width="3.4" stroke-linejoin="miter"/><path d="M1492.3,1229.3H1506.3L1499.3,1242.8Z" fill="none" stroke="#000000" stroke-width="3.4" stroke-linejoin="miter"/><path d="M1505.4,1229.3H1519.4L1512.4,1242.8Z" fill="none" stroke="#000000" stroke-width="3.4" stroke-linejoin="miter"/><path d="M1518.5,1229.2H1532.5L1525.5,1242.7Z" fill="none" stroke="#000000" stroke-width="3.4" stroke-linejoin="miter"/><path d="M1531.6,1229.0H1545.6L1538.6,1242.5Z" fill="none" stroke="#000000" stroke-width="3.4" stroke-linejoin="miter"/><path d="M1544.8,1228.8H1558.8L1551.8,1242.3Z" fill="none" stroke="#000000" stroke-width="3.4" stroke-linejoin="miter"/><path d="M1557.9,1228.5H1571.9L1564.9,1242.0Z" fill="none" stroke="#000000" stroke-width="3.4" stroke-linejoin="miter"/><path d="M1571.0,1228.2H1585.0L1578.0,1241.7Z" fill="none" stroke="#000000" stroke-width="3.4" stroke-linejoin="miter"/><path d="M1584.1,1227.8H1598.1L1591.1,1241.3Z" fill="none" stroke="#000000" stroke-width="3.4" stroke-linejoin="miter"/><path d="M1597.3,1227.4H1611.3L1604.3,1240.9Z" fill="none" stroke="#000000" stroke-width="3.4" stroke-linejoin="miter"/><path d="M1610.4,1227.0H1624.4L1617.4,1240.5Z" fill="none" stroke="#000000" stroke-width="3.4" stroke-linejoin="miter"/><path d="M1623.5,1226.6H1637.5L1630.5,1240.1Z" fill="none" stroke="#000000" stroke-width="3.4" stroke-linejoin="miter"/><path d="M1636.6,1226.2H1650.6L1643.6,1239.7Z" fill="none" stroke="#000000" stroke-width="3.4" stroke-linejoin="miter"/><path d="M1649.8,1225.8H1663.8L1656.8,1239.3Z" fill="none" stroke="#000000" stroke-width="3.4" stroke-linejoin="miter"/><path d="M1662.9,1225.4H1676.9L1669.9,1238.9Z" fill="none" stroke="#000000" stroke-width="3.4" stroke-linejoin="miter"/><path d="M1676.0,1225.0H1690.0L1683.0,1238.5Z" fill="none" stroke="#000000" stroke-width="3.4" stroke-linejoin="miter"/><path d="M1689.1,1224.6H1703.1L1696.1,1238.1Z" fill="none" stroke="#000000" stroke-width="3.4" stroke-linejoin="miter"/><path d="M1702.3,1224.1H1716.3L1709.3,1237.6Z" fill="none" stroke="#000000" stroke-width="3.4" stroke-linejoin="miter"/><path d="M1715.4,1223.6H1729.4L1722.4,1237.1Z" fill="none" stroke="#000000" stroke-width="3.4" stroke-linejoin="miter"/><path d="M1728.5,1223.1H1742.5L1735.5,1236.6Z" fill="none" stroke="#000000" stroke-width="3.4" stroke-linejoin="miter"/><path d="M1741.6,1222.6H1755.6L1748.6,1236.1Z" fill="none" stroke="#000000" stroke-width="3.4" stroke-linejoin="miter"/><path d="M1754.8,1222.1H1768.8L1761.8,1235.6Z" fill="none" stroke="#000000" stroke-width="3.4" stroke-linejoin="miter"/><path d="M1767.9,1221.7H1781.9L1774.9,1235.2Z" fill="none" stroke="#000000" stroke-width="3.4" stroke-linejoin="miter"/><path d="M1781.0,1221.3H1795.0L1788.0,1234.8Z" fill="none" stroke="#000000" stroke-width="3.4" stroke-linejoin="miter"/><path d="M1794.1,1220.9H1808.1L1801.1,1234.4Z" fill="none" stroke="#000000" stroke-width="3.4" stroke-linejoin="miter"/><path d="M1807.2,1220.5H1821.2L1814.2,1234.0Z" fill="none" stroke="#000000" stroke-width="3.4" stroke-linejoin="miter"/><path d="M1820.4,1220.1H1834.4L1827.4,1233.6Z" fill="none" stroke="#000000" stroke-width="3.4" stroke-linejoin="miter"/><path d="M1833.5,1219.8H1847.5L1840.5,1233.3Z" fill="none" stroke="#000000" stroke-width="3.4" stroke-linejoin="miter"/><path d="M1846.6,1219.4H1860.6L1853.6,1232.9Z" fill="none" stroke="#000000" stroke-width="3.4" stroke-linejoin="miter"/><path d="M1859.7,1219.1H1873.7L1866.7,1232.6Z" fill="none" stroke="#000000" stroke-width="3.4" stroke-linejoin="miter"/><path d="M1872.9,1218.7H1886.9L1879.9,1232.2Z" fill="none" stroke="#000000" stroke-width="3.4" stroke-linejoin="miter"/><path d="M1886.0,1218.4H1900.0L1893.0,1231.9Z" fill="none" stroke="#000000" stroke-width="3.4" stroke-linejoin="miter"/><path d="M1899.1,1218.1H1913.1L1906.1,1231.6Z" fill="none" stroke="#000000" stroke-width="3.4" stroke-linejoin="miter"/><path d="M1912.2,1217.8H1926.2L1919.2,1231.3Z" fill="none" stroke="#000000" stroke-width="3.4" stroke-linejoin="miter"/>
</g>
<g clip-path="url(#cl2r)">
<polyline points="1269.6,1198.8 1271.8,1199.2 1274.0,1199.5 1276.2,1199.8 1278.4,1200.1 1280.6,1200.4 1282.8,1200.6 1285.0,1200.9 1287.2,1201.2 1289.4,1201.5 1291.5,1201.8 1293.7,1202.1 1295.9,1202.3 1298.1,1202.6 1300.3,1202.9 1302.5,1203.1 1304.7,1203.4 1306.9,1203.6 1309.1,1203.9 1311.3,1204.1 1313.5,1204.4 1315.7,1204.6 1317.9,1204.8 1320.1,1205.0 1322.3,1205.2 1324.5,1205.5 1326.7,1205.7 1328.9,1205.8 1331.1,1206.0 1333.2,1206.2 1335.4,1206.4 1337.6,1206.6 1339.8,1206.7 1342.0,1206.9 1344.2,1207.0 1346.4,1207.2 1348.6,1207.3 1350.8,1207.5 1353.0,1207.6 1355.2,1207.8 1357.4,1207.9 1359.6,1208.0 1361.8,1208.2 1364.0,1208.3 1366.2,1208.4 1368.4,1208.6 1370.6,1208.7 1372.7,1208.8 1374.9,1208.9 1377.1,1209.1 1379.3,1209.2 1381.5,1209.3 1383.7,1209.4 1385.9,1209.5 1388.1,1209.6 1390.3,1209.7 1392.5,1209.8 1394.7,1209.9 1396.9,1210.0 1399.1,1210.1 1401.3,1210.2 1403.5,1210.3 1405.7,1210.4 1407.9,1210.4 1410.1,1210.5 1412.3,1210.6 1414.4,1210.6 1416.6,1210.7 1418.8,1210.8 1421.0,1210.8 1423.2,1210.9 1425.4,1210.9 1427.6,1211.0 1429.8,1211.0 1432.0,1211.1 1434.2,1211.1 1436.4,1211.2 1438.6,1211.2 1440.8,1211.3 1443.0,1211.3 1445.2,1211.4 1447.4,1211.4 1449.6,1211.4 1451.8,1211.5 1454.0,1211.5 1456.1,1211.6 1458.3,1211.6 1460.5,1211.7 1462.7,1211.7 1464.9,1211.7 1467.1,1211.8 1469.3,1211.8 1471.5,1211.8 1473.7,1211.9 1475.9,1211.9 1478.1,1211.9 1480.3,1211.9 1482.5,1212.0 1484.7,1212.0 1486.9,1212.0 1489.1,1212.0 1491.3,1212.0 1493.5,1212.0 1495.6,1212.0 1497.8,1212.1 1500.0,1212.1 1502.2,1212.1 1504.4,1212.1 1506.6,1212.0 1508.8,1212.0 1511.0,1211.9 1513.2,1211.8 1515.4,1211.7 1517.6,1211.6 1519.8,1211.4 1522.0,1211.3 1524.2,1211.1 1526.4,1210.9 1528.6,1210.8 1530.8,1210.6 1533.0,1210.3 1535.2,1210.1 1537.3,1209.9 1539.5,1209.7 1541.7,1209.4 1543.9,1209.2 1546.1,1208.9 1548.3,1208.6 1550.5,1208.4 1552.7,1208.1 1554.9,1207.9 1557.1,1207.6 1559.3,1207.3 1561.5,1207.1 1563.7,1206.8 1565.9,1206.6 1568.1,1206.3 1570.3,1206.1 1572.5,1205.9 1574.7,1205.6 1576.9,1205.4 1579.0,1205.2 1581.2,1205.0 1583.4,1204.8 1585.6,1204.7 1587.8,1204.5 1590.0,1204.3 1592.2,1204.1 1594.4,1204.0 1596.6,1203.8 1598.8,1203.6 1601.0,1203.5 1603.2,1203.3 1605.4,1203.1 1607.6,1203.0 1609.8,1202.8 1612.0,1202.7 1614.2,1202.5 1616.4,1202.4 1618.5,1202.2 1620.7,1202.0 1622.9,1201.9 1625.1,1201.7 1627.3,1201.6 1629.5,1201.4 1631.7,1201.3 1633.9,1201.1 1636.1,1200.9 1638.3,1200.8 1640.5,1200.6 1642.7,1200.5 1644.9,1200.3 1647.1,1200.1 1649.3,1199.9 1651.5,1199.8 1653.7,1199.6 1655.9,1199.4 1658.1,1199.2 1660.2,1199.1 1662.4,1198.9 1664.6,1198.7 1666.8,1198.5 1669.0,1198.3 1671.2,1198.1 1673.4,1197.9 1675.6,1197.7 1677.8,1197.5 1680.0,1197.3 1682.2,1197.1 1684.4,1196.9 1686.6,1196.7 1688.8,1196.4 1691.0,1196.2 1693.2,1196.0 1695.4,1195.8 1697.6,1195.6 1699.8,1195.3 1701.9,1195.1 1704.1,1194.9 1706.3,1194.7 1708.5,1194.4 1710.7,1194.2 1712.9,1194.0 1715.1,1193.7 1717.3,1193.5 1719.5,1193.3 1721.7,1193.1 1723.9,1192.8 1726.1,1192.6 1728.3,1192.4 1730.5,1192.1 1732.7,1191.9 1734.9,1191.7 1737.1,1191.5 1739.3,1191.2 1741.4,1191.0 1743.6,1190.8 1745.8,1190.6 1748.0,1190.4 1750.2,1190.1 1752.4,1189.9 1754.6,1189.7 1756.8,1189.4 1759.0,1189.2 1761.2,1189.0 1763.4,1188.7 1765.6,1188.5 1767.8,1188.3 1770.0,1188.0 1772.2,1187.8 1774.4,1187.6 1776.6,1187.3 1778.8,1187.1 1781.0,1186.9 1783.1,1186.6 1785.3,1186.4 1787.5,1186.2 1789.7,1185.9 1791.9,1185.7 1794.1,1185.5 1796.3,1185.2 1798.5,1185.0 1800.7,1184.8 1802.9,1184.6 1805.1,1184.4 1807.3,1184.2 1809.5,1184.0 1811.7,1183.8 1813.9,1183.6 1816.1,1183.4 1818.3,1183.2 1820.5,1183.0 1822.7,1182.8 1824.8,1182.7 1827.0,1182.5 1829.2,1182.3 1831.4,1182.2 1833.6,1182.0 1835.8,1181.9 1838.0,1181.7 1840.2,1181.5 1842.4,1181.4 1844.6,1181.2 1846.8,1181.1 1849.0,1180.9 1851.2,1180.8 1853.4,1180.6 1855.6,1180.5 1857.8,1180.3 1860.0,1180.2 1862.2,1180.0 1864.3,1179.9 1866.5,1179.7 1868.7,1179.6 1870.9,1179.4 1873.1,1179.3 1875.3,1179.2 1877.5,1179.0 1879.7,1178.9 1881.9,1178.8 1884.1,1178.6 1886.3,1178.5 1888.5,1178.4 1890.7,1178.3 1892.9,1178.2 1895.1,1178.0 1897.3,1177.9 1899.5,1177.8 1901.7,1177.7 1903.9,1177.6 1906.0,1177.5 1908.2,1177.4 1910.4,1177.3 1912.6,1177.2 1914.8,1177.1 1917.0,1177.0 1919.2,1176.9 1921.4,1176.8 1923.6,1176.7 1925.8,1176.6" stroke="#E41A1C" stroke-width="3.0" fill="none" stroke-linejoin="round" />
<circle cx="1276.2" cy="1199.8" r="6.3" fill="none" stroke="#E41A1C" stroke-width="3.0"/><circle cx="1289.3" cy="1201.5" r="6.3" fill="none" stroke="#E41A1C" stroke-width="3.0"/><circle cx="1302.4" cy="1203.1" r="6.3" fill="none" stroke="#E41A1C" stroke-width="3.0"/><circle cx="1315.5" cy="1204.6" r="6.3" fill="none" stroke="#E41A1C" stroke-width="3.0"/><circle cx="1328.7" cy="1205.8" r="6.3" fill="none" stroke="#E41A1C" stroke-width="3.0"/><circle cx="1341.8" cy="1206.9" r="6.3" fill="none" stroke="#E41A1C" stroke-width="3.0"/><circle cx="1354.9" cy="1207.7" r="6.3" fill="none" stroke="#E41A1C" stroke-width="3.0"/><circle cx="1368.0" cy="1208.5" r="6.3" fill="none" stroke="#E41A1C" stroke-width="3.0"/><circle cx="1381.2" cy="1209.3" r="6.3" fill="none" stroke="#E41A1C" stroke-width="3.0"/><circle cx="1394.3" cy="1209.9" r="6.3" fill="none" stroke="#E41A1C" stroke-width="3.0"/><circle cx="1407.4" cy="1210.4" r="6.3" fill="none" stroke="#E41A1C" stroke-width="3.0"/><circle cx="1420.5" cy="1210.8" r="6.3" fill="none" stroke="#E41A1C" stroke-width="3.0"/><circle cx="1433.6" cy="1211.1" r="6.3" fill="none" stroke="#E41A1C" stroke-width="3.0"/><circle cx="1446.8" cy="1211.4" r="6.3" fill="none" stroke="#E41A1C" stroke-width="3.0"/><circle cx="1459.9" cy="1211.6" r="6.3" fill="none" stroke="#E41A1C" stroke-width="3.0"/><circle cx="1473.0" cy="1211.8" r="6.3" fill="none" stroke="#E41A1C" stroke-width="3.0"/><circle cx="1486.1" cy="1212.0" r="6.3" fill="none" stroke="#E41A1C" stroke-width="3.0"/><circle cx="1499.3" cy="1212.1" r="6.3" fill="none" stroke="#E41A1C" stroke-width="3.0"/><circle cx="1512.4" cy="1211.8" r="6.3" fill="none" stroke="#E41A1C" stroke-width="3.0"/><circle cx="1525.5" cy="1211.0" r="6.3" fill="none" stroke="#E41A1C" stroke-width="3.0"/><circle cx="1538.6" cy="1209.8" r="6.3" fill="none" stroke="#E41A1C" stroke-width="3.0"/><circle cx="1551.8" cy="1208.2" r="6.3" fill="none" stroke="#E41A1C" stroke-width="3.0"/><circle cx="1564.9" cy="1206.7" r="6.3" fill="none" stroke="#E41A1C" stroke-width="3.0"/><circle cx="1578.0" cy="1205.3" r="6.3" fill="none" stroke="#E41A1C" stroke-width="3.0"/><circle cx="1591.1" cy="1204.2" r="6.3" fill="none" stroke="#E41A1C" stroke-width="3.0"/><circle cx="1604.3" cy="1203.2" r="6.3" fill="none" stroke="#E41A1C" stroke-width="3.0"/><circle cx="1617.4" cy="1202.3" r="6.3" fill="none" stroke="#E41A1C" stroke-width="3.0"/><circle cx="1630.5" cy="1201.3" r="6.3" fill="none" stroke="#E41A1C" stroke-width="3.0"/><circle cx="1643.6" cy="1200.4" r="6.3" fill="none" stroke="#E41A1C" stroke-width="3.0"/><circle cx="1656.8" cy="1199.4" r="6.3" fill="none" stroke="#E41A1C" stroke-width="3.0"/><circle cx="1669.9" cy="1198.2" r="6.3" fill="none" stroke="#E41A1C" stroke-width="3.0"/><circle cx="1683.0" cy="1197.0" r="6.3" fill="none" stroke="#E41A1C" stroke-width="3.0"/><circle cx="1696.1" cy="1195.7" r="6.3" fill="none" stroke="#E41A1C" stroke-width="3.0"/><circle cx="1709.3" cy="1194.4" r="6.3" fill="none" stroke="#E41A1C" stroke-width="3.0"/><circle cx="1722.4" cy="1193.0" r="6.3" fill="none" stroke="#E41A1C" stroke-width="3.0"/><circle cx="1735.5" cy="1191.6" r="6.3" fill="none" stroke="#E41A1C" stroke-width="3.0"/><circle cx="1748.6" cy="1190.3" r="6.3" fill="none" stroke="#E41A1C" stroke-width="3.0"/><circle cx="1761.8" cy="1188.9" r="6.3" fill="none" stroke="#E41A1C" stroke-width="3.0"/><circle cx="1774.9" cy="1187.5" r="6.3" fill="none" stroke="#E41A1C" stroke-width="3.0"/><circle cx="1788.0" cy="1186.1" r="6.3" fill="none" stroke="#E41A1C" stroke-width="3.0"/><circle cx="1801.1" cy="1184.8" r="6.3" fill="none" stroke="#E41A1C" stroke-width="3.0"/><circle cx="1814.2" cy="1183.5" r="6.3" fill="none" stroke="#E41A1C" stroke-width="3.0"/><circle cx="1827.4" cy="1182.5" r="6.3" fill="none" stroke="#E41A1C" stroke-width="3.0"/><circle cx="1840.5" cy="1181.5" r="6.3" fill="none" stroke="#E41A1C" stroke-width="3.0"/><circle cx="1853.6" cy="1180.6" r="6.3" fill="none" stroke="#E41A1C" stroke-width="3.0"/><circle cx="1866.7" cy="1179.7" r="6.3" fill="none" stroke="#E41A1C" stroke-width="3.0"/><circle cx="1879.9" cy="1178.9" r="6.3" fill="none" stroke="#E41A1C" stroke-width="3.0"/><circle cx="1893.0" cy="1178.1" r="6.3" fill="none" stroke="#E41A1C" stroke-width="3.0"/><circle cx="1906.1" cy="1177.5" r="6.3" fill="none" stroke="#E41A1C" stroke-width="3.0"/><circle cx="1919.2" cy="1176.9" r="6.3" fill="none" stroke="#E41A1C" stroke-width="3.0"/>
</g>
<g clip-path="url(#cl2r)">
<polyline points="1269.6,1107.0 1271.8,1108.2 1274.0,1109.4 1276.2,1110.5 1278.4,1111.8 1280.6,1113.0 1282.8,1114.2 1285.0,1115.4 1287.2,1116.7 1289.4,1118.0 1291.5,1119.2 1293.7,1120.5 1295.9,1121.9 1298.1,1123.2 1300.3,1124.7 1302.5,1126.1 1304.7,1127.5 1306.9,1128.9 1309.1,1130.2 1311.3,1131.5 1313.5,1132.6 1315.7,1133.7 1317.9,1134.8 1320.1,1135.9 1322.3,1137.0 1324.5,1138.0 1326.7,1139.0 1328.9,1140.0 1331.1,1140.9 1333.2,1141.8 1335.4,1142.6 1337.6,1143.3 1339.8,1144.0 1342.0,1144.6 1344.2,1145.2 1346.4,1145.8 1348.6,1146.4 1350.8,1146.9 1353.0,1147.4 1355.2,1147.9 1357.4,1148.4 1359.6,1148.8 1361.8,1149.2 1364.0,1149.6 1366.2,1149.9 1368.4,1150.2 1370.6,1150.5 1372.7,1150.7 1374.9,1151.0 1377.1,1151.2 1379.3,1151.4 1381.5,1151.6 1383.7,1151.9 1385.9,1152.1 1388.1,1152.3 1390.3,1152.5 1392.5,1152.6 1394.7,1152.8 1396.9,1153.0 1399.1,1153.2 1401.3,1153.3 1403.5,1153.5 1405.7,1153.6 1407.9,1153.7 1410.1,1153.9 1412.3,1154.0 1414.4,1154.1 1416.6,1154.2 1418.8,1154.3 1421.0,1154.4 1423.2,1154.5 1425.4,1154.6 1427.6,1154.6 1429.8,1154.7 1432.0,1154.8 1434.2,1154.9 1436.4,1155.0 1438.6,1155.0 1440.8,1155.1 1443.0,1155.2 1445.2,1155.2 1447.4,1155.3 1449.6,1155.4 1451.8,1155.4 1454.0,1155.5 1456.1,1155.6 1458.3,1155.6 1460.5,1155.7 1462.7,1155.7 1464.9,1155.8 1467.1,1155.8 1469.3,1155.9 1471.5,1155.9 1473.7,1156.0 1475.9,1156.0 1478.1,1156.1 1480.3,1156.1 1482.5,1156.2 1484.7,1156.2 1486.9,1156.2 1489.1,1156.3 1491.3,1156.3 1493.5,1156.4 1495.6,1156.4 1497.8,1156.4 1500.0,1156.4 1502.2,1156.5 1504.4,1156.5 1506.6,1156.5 1508.8,1156.6 1511.0,1156.6 1513.2,1156.6 1515.4,1156.7 1517.6,1156.7 1519.8,1156.7 1522.0,1156.7 1524.2,1156.8 1526.4,1156.8 1528.6,1156.8 1530.8,1156.9 1533.0,1156.9 1535.2,1156.9 1537.3,1156.9 1539.5,1157.0 1541.7,1157.0 1543.9,1157.0 1546.1,1157.0 1548.3,1157.1 1550.5,1157.1 1552.7,1157.1 1554.9,1157.1 1557.1,1157.1 1559.3,1157.1 1561.5,1157.2 1563.7,1157.2 1565.9,1157.2 1568.1,1157.2 1570.3,1157.2 1572.5,1157.2 1574.7,1157.2 1576.9,1157.2 1579.0,1157.2 1581.2,1157.2 1583.4,1157.2 1585.6,1157.1 1587.8,1156.7 1590.0,1156.1 1592.2,1155.5 1594.4,1154.8 1596.6,1154.2 1598.8,1153.5 1601.0,1152.7 1603.2,1151.8 1605.4,1150.9 1607.6,1149.9 1609.8,1149.0 1612.0,1148.0 1614.2,1147.1 1616.4,1146.3 1618.5,1145.4 1620.7,1144.7 1622.9,1143.9 1625.1,1143.1 1627.3,1142.3 1629.5,1141.6 1631.7,1140.8 1633.9,1140.1 1636.1,1139.3 1638.3,1138.5 1640.5,1137.7 1642.7,1136.9 1644.9,1136.1 1647.1,1135.3 1649.3,1134.4 1651.5,1133.6 1653.7,1132.7 1655.9,1131.8 1658.1,1130.9 1660.2,1130.0 1662.4,1129.2 1664.6,1128.3 1666.8,1127.4 1669.0,1126.5 1671.2,1125.5 1673.4,1124.6 1675.6,1123.7 1677.8,1122.8 1680.0,1122.0 1682.2,1121.1 1684.4,1120.2 1686.6,1119.3 1688.8,1118.5 1691.0,1117.6 1693.2,1116.8 1695.4,1115.9 1697.6,1115.1 1699.8,1114.3 1701.9,1113.4 1704.1,1112.6 1706.3,1111.7 1708.5,1110.9 1710.7,1110.0 1712.9,1109.2 1715.1,1108.3 1717.3,1107.4 1719.5,1106.5 1721.7,1105.5 1723.9,1104.6 1726.1,1103.6 1728.3,1102.6 1730.5,1101.5 1732.7,1100.5 1734.9,1099.4 1737.1,1098.2 1739.3,1097.1 1741.4,1095.9 1743.6,1094.8 1745.8,1093.6 1748.0,1092.4 1750.2,1091.3 1752.4,1090.1 1754.6,1089.0 1756.8,1087.9 1759.0,1086.8 1761.2,1085.7 1763.4,1084.7 1765.6,1083.7 1767.8,1082.8 1770.0,1081.8 1772.2,1080.9 1774.4,1080.1 1776.6,1079.2 1778.8,1078.4 1781.0,1077.5 1783.1,1076.7 1785.3,1075.9 1787.5,1075.1 1789.7,1074.3 1791.9,1073.4 1794.1,1072.6 1796.3,1071.7 1798.5,1070.9 1800.7,1070.0 1802.9,1069.1 1805.1,1068.1 1807.3,1067.1 1809.5,1066.1 1811.7,1065.0 1813.9,1063.9 1816.1,1062.7 1818.3,1061.6 1820.5,1060.4 1822.7,1059.2 1824.8,1058.1 1827.0,1057.0 1829.2,1055.9 1831.4,1054.8 1833.6,1053.8 1835.8,1052.8 1838.0,1051.7 1840.2,1050.5 1842.4,1049.4 1844.6,1048.3 1846.8,1047.3 1849.0,1046.5 1851.2,1045.9 1853.4,1045.6 1855.6,1045.7 1857.8,1046.0 1860.0,1046.5 1862.2,1047.1 1864.3,1047.9 1866.5,1048.8 1868.7,1049.7 1870.9,1050.5 1873.1,1051.3 1875.3,1052.1 1877.5,1052.8 1879.7,1053.6 1881.9,1054.4 1884.1,1055.2 1886.3,1056.1 1888.5,1056.8 1890.7,1057.6 1892.9,1058.3 1895.1,1058.9 1897.3,1059.5 1899.5,1059.9 1901.7,1060.4 1903.9,1060.8 1906.0,1061.2 1908.2,1061.6 1910.4,1062.0 1912.6,1062.3 1914.8,1062.6 1917.0,1062.9 1919.2,1063.2 1921.4,1063.4 1923.6,1063.6 1925.8,1063.7" stroke="#0000E6" stroke-width="3.0" fill="none" stroke-linejoin="round" />
<path d="M1269.7,1110.5H1282.7M1276.2,1103.5V1117.5" stroke="#0000E6" stroke-width="3.6"/><path d="M1282.8,1117.9H1295.8M1289.3,1110.9V1124.9" stroke="#0000E6" stroke-width="3.6"/><path d="M1295.9,1126.0H1308.9M1302.4,1119.0V1133.0" stroke="#0000E6" stroke-width="3.6"/><path d="M1309.0,1133.6H1322.0M1315.5,1126.6V1140.6" stroke="#0000E6" stroke-width="3.6"/><path d="M1322.2,1139.9H1335.2M1328.7,1132.9V1146.9" stroke="#0000E6" stroke-width="3.6"/><path d="M1335.3,1144.6H1348.3M1341.8,1137.6V1151.6" stroke="#0000E6" stroke-width="3.6"/><path d="M1348.4,1147.8H1361.4M1354.9,1140.8V1154.8" stroke="#0000E6" stroke-width="3.6"/><path d="M1361.5,1150.1H1374.5M1368.0,1143.1V1157.1" stroke="#0000E6" stroke-width="3.6"/><path d="M1374.7,1151.6H1387.7M1381.2,1144.6V1158.6" stroke="#0000E6" stroke-width="3.6"/><path d="M1387.8,1152.8H1400.8M1394.3,1145.8V1159.8" stroke="#0000E6" stroke-width="3.6"/><path d="M1400.9,1153.7H1413.9M1407.4,1146.7V1160.7" stroke="#0000E6" stroke-width="3.6"/><path d="M1414.0,1154.4H1427.0M1420.5,1147.4V1161.4" stroke="#0000E6" stroke-width="3.6"/><path d="M1427.1,1154.9H1440.1M1433.6,1147.9V1161.9" stroke="#0000E6" stroke-width="3.6"/><path d="M1440.3,1155.3H1453.3M1446.8,1148.3V1162.3" stroke="#0000E6" stroke-width="3.6"/><path d="M1453.4,1155.7H1466.4M1459.9,1148.7V1162.7" stroke="#0000E6" stroke-width="3.6"/><path d="M1466.5,1156.0H1479.5M1473.0,1149.0V1163.0" stroke="#0000E6" stroke-width="3.6"/><path d="M1479.6,1156.2H1492.6M1486.1,1149.2V1163.2" stroke="#0000E6" stroke-width="3.6"/><path d="M1492.8,1156.4H1505.8M1499.3,1149.4V1163.4" stroke="#0000E6" stroke-width="3.6"/><path d="M1505.9,1156.6H1518.9M1512.4,1149.6V1163.6" stroke="#0000E6" stroke-width="3.6"/><path d="M1519.0,1156.8H1532.0M1525.5,1149.8V1163.8" stroke="#0000E6" stroke-width="3.6"/><path d="M1532.1,1157.0H1545.1M1538.6,1150.0V1164.0" stroke="#0000E6" stroke-width="3.6"/><path d="M1545.3,1157.1H1558.3M1551.8,1150.1V1164.1" stroke="#0000E6" stroke-width="3.6"/><path d="M1558.4,1157.2H1571.4M1564.9,1150.2V1164.2" stroke="#0000E6" stroke-width="3.6"/><path d="M1571.5,1157.2H1584.5M1578.0,1150.2V1164.2" stroke="#0000E6" stroke-width="3.6"/><path d="M1584.6,1155.8H1597.6M1591.1,1148.8V1162.8" stroke="#0000E6" stroke-width="3.6"/><path d="M1597.8,1151.3H1610.8M1604.3,1144.3V1158.3" stroke="#0000E6" stroke-width="3.6"/><path d="M1610.9,1145.9H1623.9M1617.4,1138.9V1152.9" stroke="#0000E6" stroke-width="3.6"/><path d="M1624.0,1141.2H1637.0M1630.5,1134.2V1148.2" stroke="#0000E6" stroke-width="3.6"/><path d="M1637.1,1136.6H1650.1M1643.6,1129.6V1143.6" stroke="#0000E6" stroke-width="3.6"/><path d="M1650.3,1131.5H1663.3M1656.8,1124.5V1138.5" stroke="#0000E6" stroke-width="3.6"/><path d="M1663.4,1126.1H1676.4M1669.9,1119.1V1133.1" stroke="#0000E6" stroke-width="3.6"/><path d="M1676.5,1120.7H1689.5M1683.0,1113.7V1127.7" stroke="#0000E6" stroke-width="3.6"/><path d="M1689.6,1115.6H1702.6M1696.1,1108.6V1122.6" stroke="#0000E6" stroke-width="3.6"/><path d="M1702.8,1110.6H1715.8M1709.3,1103.6V1117.6" stroke="#0000E6" stroke-width="3.6"/><path d="M1715.9,1105.2H1728.9M1722.4,1098.2V1112.2" stroke="#0000E6" stroke-width="3.6"/><path d="M1729.0,1099.0H1742.0M1735.5,1092.0V1106.0" stroke="#0000E6" stroke-width="3.6"/><path d="M1742.1,1092.1H1755.1M1748.6,1085.1V1099.1" stroke="#0000E6" stroke-width="3.6"/><path d="M1755.2,1085.4H1768.2M1761.8,1078.4V1092.4" stroke="#0000E6" stroke-width="3.6"/><path d="M1768.4,1079.9H1781.4M1774.9,1072.9V1086.9" stroke="#0000E6" stroke-width="3.6"/><path d="M1781.5,1074.9H1794.5M1788.0,1067.9V1081.9" stroke="#0000E6" stroke-width="3.6"/><path d="M1794.6,1069.8H1807.6M1801.1,1062.8V1076.8" stroke="#0000E6" stroke-width="3.6"/><path d="M1807.7,1063.7H1820.7M1814.2,1056.7V1070.7" stroke="#0000E6" stroke-width="3.6"/><path d="M1820.9,1056.8H1833.9M1827.4,1049.8V1063.8" stroke="#0000E6" stroke-width="3.6"/><path d="M1834.0,1050.4H1847.0M1840.5,1043.4V1057.4" stroke="#0000E6" stroke-width="3.6"/><path d="M1847.1,1045.6H1860.1M1853.6,1038.6V1052.6" stroke="#0000E6" stroke-width="3.6"/><path d="M1860.2,1048.9H1873.2M1866.7,1041.9V1055.9" stroke="#0000E6" stroke-width="3.6"/><path d="M1873.4,1053.7H1886.4M1879.9,1046.7V1060.7" stroke="#0000E6" stroke-width="3.6"/><path d="M1886.5,1058.3H1899.5M1893.0,1051.3V1065.3" stroke="#0000E6" stroke-width="3.6"/><path d="M1899.6,1061.2H1912.6M1906.1,1054.2V1068.2" stroke="#0000E6" stroke-width="3.6"/><path d="M1912.7,1063.2H1925.7M1919.2,1056.2V1070.2" stroke="#0000E6" stroke-width="3.6"/>
</g>
<g clip-path="url(#cl2r)">
<polyline points="1269.6,996.4 1271.8,999.0 1274.0,1001.6 1276.2,1004.0 1278.4,1006.4 1280.6,1008.8 1282.8,1011.0 1285.0,1013.2 1287.2,1015.4 1289.4,1017.5 1291.5,1019.4 1293.7,1021.3 1295.9,1023.1 1298.1,1024.9 1300.3,1026.7 1302.5,1028.8 1304.7,1031.0 1306.9,1033.4 1309.1,1035.7 1311.3,1038.1 1313.5,1040.2 1315.7,1042.2 1317.9,1043.8 1320.1,1045.3 1322.3,1046.6 1324.5,1047.9 1326.7,1049.0 1328.9,1050.2 1331.1,1051.2 1333.2,1052.2 1335.4,1053.2 1337.6,1054.2 1339.8,1055.1 1342.0,1056.0 1344.2,1056.9 1346.4,1057.8 1348.6,1058.6 1350.8,1059.5 1353.0,1060.3 1355.2,1061.0 1357.4,1061.8 1359.6,1062.5 1361.8,1063.2 1364.0,1063.9 1366.2,1064.6 1368.4,1065.3 1370.6,1065.9 1372.7,1066.6 1374.9,1067.2 1377.1,1067.8 1379.3,1068.4 1381.5,1069.0 1383.7,1069.6 1385.9,1070.2 1388.1,1070.7 1390.3,1071.3 1392.5,1071.8 1394.7,1072.3 1396.9,1072.8 1399.1,1073.2 1401.3,1073.7 1403.5,1074.1 1405.7,1074.5 1407.9,1074.9 1410.1,1075.3 1412.3,1075.7 1414.4,1076.1 1416.6,1076.5 1418.8,1076.9 1421.0,1077.3 1423.2,1077.7 1425.4,1078.0 1427.6,1078.3 1429.8,1078.6 1432.0,1078.9 1434.2,1079.2 1436.4,1079.4 1438.6,1079.6 1440.8,1079.8 1443.0,1080.0 1445.2,1080.1 1447.4,1080.3 1449.6,1080.4 1451.8,1080.6 1454.0,1080.7 1456.1,1080.8 1458.3,1081.0 1460.5,1081.1 1462.7,1081.2 1464.9,1081.3 1467.1,1081.4 1469.3,1081.5 1471.5,1081.6 1473.7,1081.7 1475.9,1081.7 1478.1,1081.8 1480.3,1081.8 1482.5,1081.9 1484.7,1081.9 1486.9,1081.9 1489.1,1081.9 1491.3,1081.9 1493.5,1081.9 1495.6,1081.9 1497.8,1081.9 1500.0,1081.9 1502.2,1081.9 1504.4,1081.9 1506.6,1081.9 1508.8,1081.9 1511.0,1081.9 1513.2,1081.9 1515.4,1081.9 1517.6,1081.9 1519.8,1081.9 1522.0,1081.9 1524.2,1081.9 1526.4,1081.7 1528.6,1081.5 1530.8,1081.2 1533.0,1080.8 1535.2,1080.4 1537.3,1079.9 1539.5,1079.3 1541.7,1078.7 1543.9,1078.1 1546.1,1077.4 1548.3,1076.7 1550.5,1076.1 1552.7,1075.4 1554.9,1074.5 1557.1,1073.6 1559.3,1072.6 1561.5,1071.4 1563.7,1070.3 1565.9,1069.0 1568.1,1067.8 1570.3,1066.5 1572.5,1065.3 1574.7,1064.1 1576.9,1062.9 1579.0,1061.7 1581.2,1060.5 1583.4,1059.3 1585.6,1058.0 1587.8,1056.8 1590.0,1055.5 1592.2,1054.2 1594.4,1053.0 1596.6,1051.7 1598.8,1050.4 1601.0,1049.1 1603.2,1047.8 1605.4,1046.5 1607.6,1045.3 1609.8,1044.0 1612.0,1042.6 1614.2,1041.3 1616.4,1040.0 1618.5,1038.7 1620.7,1037.4 1622.9,1036.1 1625.1,1034.8 1627.3,1033.4 1629.5,1032.0 1631.7,1030.6 1633.9,1029.1 1636.1,1027.8 1638.3,1026.5 1640.5,1025.2 1642.7,1024.1 1644.9,1023.2 1647.1,1022.1 1649.3,1021.2 1651.5,1020.3 1653.7,1019.7 1655.9,1019.4 1658.1,1019.5 1660.2,1019.7 1662.4,1020.1 1664.6,1020.5 1666.8,1021.0 1669.0,1021.6 1671.2,1022.1 1673.4,1022.6 1675.6,1023.0 1677.8,1023.3 1680.0,1023.4 1682.2,1023.2 1684.4,1022.5 1686.6,1021.4 1688.8,1020.1 1691.0,1018.5 1693.2,1016.9 1695.4,1015.3 1697.6,1013.8 1699.8,1012.6 1701.9,1011.7 1704.1,1011.3 1706.3,1011.3 1708.5,1011.5 1710.7,1011.7 1712.9,1011.9 1715.1,1012.3 1717.3,1012.6 1719.5,1013.1 1721.7,1013.5 1723.9,1014.3 1726.1,1015.4 1728.3,1016.8 1730.5,1018.4 1732.7,1020.1 1734.9,1021.9 1737.1,1023.6 1739.3,1025.4 1741.4,1027.3 1743.6,1029.3 1745.8,1031.4 1748.0,1033.7 1750.2,1036.1 1752.4,1038.6 1754.6,1041.3 1756.8,1044.3 1759.0,1047.7 1761.2,1051.2 1763.4,1054.8 1765.6,1058.4 1767.8,1061.9 1770.0,1065.2 1772.2,1068.4 1774.4,1071.6 1776.6,1074.7 1778.8,1077.9 1781.0,1081.1 1783.1,1084.5 1785.3,1087.9 1787.5,1091.7 1789.7,1095.7 1791.9,1099.9 1794.1,1104.1 1796.3,1108.2 1798.5,1112.1 1800.7,1115.6 1802.9,1118.7 1805.1,1121.6 1807.3,1124.3 1809.5,1126.9 1811.7,1129.5 1813.9,1132.0 1816.1,1134.6 1818.3,1137.3 1820.5,1140.1 1822.7,1143.1 1824.8,1146.1 1827.0,1149.0 1829.2,1151.7 1831.4,1154.2 1833.6,1156.2 1835.8,1158.0 1838.0,1159.6 1840.2,1161.1 1842.4,1162.5 1844.6,1163.8 1846.8,1165.0 1849.0,1166.1 1851.2,1167.2 1853.4,1168.2 1855.6,1169.1 1857.8,1170.1 1860.0,1170.9 1862.2,1171.8 1864.3,1172.6 1866.5,1173.4 1868.7,1174.1 1870.9,1174.8 1873.1,1175.4 1875.3,1176.0 1877.5,1176.5 1879.7,1177.0 1881.9,1177.4 1884.1,1177.8 1886.3,1178.2 1888.5,1178.5 1890.7,1178.8 1892.9,1179.1 1895.1,1179.4 1897.3,1179.8 1899.5,1180.2 1901.7,1180.6 1903.9,1181.0 1906.0,1181.5 1908.2,1182.0 1910.4,1182.5 1912.6,1183.0 1914.8,1183.6 1917.0,1184.2 1919.2,1184.8 1921.4,1185.4 1923.6,1186.0 1925.8,1186.7" stroke="#0F7F0F" stroke-width="3.0" fill="none" stroke-linejoin="round" />
<path d="M1276.2,994.0L1283.0,1004.0L1276.2,1014.0L1269.4,1004.0Z" fill="none" stroke="#0F7F0F" stroke-width="3.3"/><path d="M1289.3,1007.4L1296.1,1017.4L1289.3,1027.4L1282.5,1017.4Z" fill="none" stroke="#0F7F0F" stroke-width="3.3"/><path d="M1302.4,1018.7L1309.2,1028.7L1302.4,1038.7L1295.6,1028.7Z" fill="none" stroke="#0F7F0F" stroke-width="3.3"/><path d="M1315.5,1032.1L1322.3,1042.1L1315.5,1052.1L1308.7,1042.1Z" fill="none" stroke="#0F7F0F" stroke-width="3.3"/><path d="M1328.7,1040.1L1335.5,1050.1L1328.7,1060.1L1321.9,1050.1Z" fill="none" stroke="#0F7F0F" stroke-width="3.3"/><path d="M1341.8,1045.9L1348.6,1055.9L1341.8,1065.9L1335.0,1055.9Z" fill="none" stroke="#0F7F0F" stroke-width="3.3"/><path d="M1354.9,1050.9L1361.7,1060.9L1354.9,1070.9L1348.1,1060.9Z" fill="none" stroke="#0F7F0F" stroke-width="3.3"/><path d="M1368.0,1055.2L1374.8,1065.2L1368.0,1075.2L1361.2,1065.2Z" fill="none" stroke="#0F7F0F" stroke-width="3.3"/><path d="M1381.2,1058.9L1388.0,1068.9L1381.2,1078.9L1374.4,1068.9Z" fill="none" stroke="#0F7F0F" stroke-width="3.3"/><path d="M1394.3,1062.2L1401.1,1072.2L1394.3,1082.2L1387.5,1072.2Z" fill="none" stroke="#0F7F0F" stroke-width="3.3"/><path d="M1407.4,1064.8L1414.2,1074.8L1407.4,1084.8L1400.6,1074.8Z" fill="none" stroke="#0F7F0F" stroke-width="3.3"/><path d="M1420.5,1067.2L1427.3,1077.2L1420.5,1087.2L1413.7,1077.2Z" fill="none" stroke="#0F7F0F" stroke-width="3.3"/><path d="M1433.6,1069.1L1440.4,1079.1L1433.6,1089.1L1426.8,1079.1Z" fill="none" stroke="#0F7F0F" stroke-width="3.3"/><path d="M1446.8,1070.2L1453.6,1080.2L1446.8,1090.2L1440.0,1080.2Z" fill="none" stroke="#0F7F0F" stroke-width="3.3"/><path d="M1459.9,1071.0L1466.7,1081.0L1459.9,1091.0L1453.1,1081.0Z" fill="none" stroke="#0F7F0F" stroke-width="3.3"/><path d="M1473.0,1071.6L1479.8,1081.6L1473.0,1091.6L1466.2,1081.6Z" fill="none" stroke="#0F7F0F" stroke-width="3.3"/><path d="M1486.1,1071.9L1492.9,1081.9L1486.1,1091.9L1479.3,1081.9Z" fill="none" stroke="#0F7F0F" stroke-width="3.3"/><path d="M1499.3,1071.9L1506.1,1081.9L1499.3,1091.9L1492.5,1081.9Z" fill="none" stroke="#0F7F0F" stroke-width="3.3"/><path d="M1512.4,1071.9L1519.2,1081.9L1512.4,1091.9L1505.6,1081.9Z" fill="none" stroke="#0F7F0F" stroke-width="3.3"/><path d="M1525.5,1071.8L1532.3,1081.8L1525.5,1091.8L1518.7,1081.8Z" fill="none" stroke="#0F7F0F" stroke-width="3.3"/><path d="M1538.6,1069.5L1545.4,1079.5L1538.6,1089.5L1531.8,1079.5Z" fill="none" stroke="#0F7F0F" stroke-width="3.3"/><path d="M1551.8,1065.7L1558.6,1075.7L1551.8,1085.7L1545.0,1075.7Z" fill="none" stroke="#0F7F0F" stroke-width="3.3"/><path d="M1564.9,1059.6L1571.7,1069.6L1564.9,1079.6L1558.1,1069.6Z" fill="none" stroke="#0F7F0F" stroke-width="3.3"/><path d="M1578.0,1052.3L1584.8,1062.3L1578.0,1072.3L1571.2,1062.3Z" fill="none" stroke="#0F7F0F" stroke-width="3.3"/><path d="M1591.1,1044.9L1597.9,1054.9L1591.1,1064.9L1584.3,1054.9Z" fill="none" stroke="#0F7F0F" stroke-width="3.3"/><path d="M1604.3,1037.2L1611.1,1047.2L1604.3,1057.2L1597.5,1047.2Z" fill="none" stroke="#0F7F0F" stroke-width="3.3"/><path d="M1617.4,1029.4L1624.2,1039.4L1617.4,1049.4L1610.6,1039.4Z" fill="none" stroke="#0F7F0F" stroke-width="3.3"/><path d="M1630.5,1021.4L1637.3,1031.4L1630.5,1041.4L1623.7,1031.4Z" fill="none" stroke="#0F7F0F" stroke-width="3.3"/><path d="M1643.6,1013.7L1650.4,1023.7L1643.6,1033.7L1636.8,1023.7Z" fill="none" stroke="#0F7F0F" stroke-width="3.3"/><path d="M1656.8,1009.4L1663.6,1019.4L1656.8,1029.4L1650.0,1019.4Z" fill="none" stroke="#0F7F0F" stroke-width="3.3"/><path d="M1669.9,1011.8L1676.7,1021.8L1669.9,1031.8L1663.1,1021.8Z" fill="none" stroke="#0F7F0F" stroke-width="3.3"/><path d="M1683.0,1013.0L1689.8,1023.0L1683.0,1033.0L1676.2,1023.0Z" fill="none" stroke="#0F7F0F" stroke-width="3.3"/><path d="M1696.1,1004.7L1702.9,1014.7L1696.1,1024.7L1689.3,1014.7Z" fill="none" stroke="#0F7F0F" stroke-width="3.3"/><path d="M1709.3,1001.5L1716.1,1011.5L1709.3,1021.5L1702.5,1011.5Z" fill="none" stroke="#0F7F0F" stroke-width="3.3"/><path d="M1722.4,1003.7L1729.2,1013.7L1722.4,1023.7L1715.6,1013.7Z" fill="none" stroke="#0F7F0F" stroke-width="3.3"/><path d="M1735.5,1012.4L1742.3,1022.4L1735.5,1032.4L1728.7,1022.4Z" fill="none" stroke="#0F7F0F" stroke-width="3.3"/><path d="M1748.6,1024.3L1755.4,1034.3L1748.6,1044.3L1741.8,1034.3Z" fill="none" stroke="#0F7F0F" stroke-width="3.3"/><path d="M1761.8,1042.1L1768.5,1052.1L1761.8,1062.1L1755.0,1052.1Z" fill="none" stroke="#0F7F0F" stroke-width="3.3"/><path d="M1774.9,1062.3L1781.7,1072.3L1774.9,1082.3L1768.1,1072.3Z" fill="none" stroke="#0F7F0F" stroke-width="3.3"/><path d="M1788.0,1082.5L1794.8,1092.5L1788.0,1102.5L1781.2,1092.5Z" fill="none" stroke="#0F7F0F" stroke-width="3.3"/><path d="M1801.1,1106.2L1807.9,1116.2L1801.1,1126.2L1794.3,1116.2Z" fill="none" stroke="#0F7F0F" stroke-width="3.3"/><path d="M1814.2,1122.4L1821.0,1132.4L1814.2,1142.4L1807.4,1132.4Z" fill="none" stroke="#0F7F0F" stroke-width="3.3"/><path d="M1827.4,1139.4L1834.2,1149.4L1827.4,1159.4L1820.6,1149.4Z" fill="none" stroke="#0F7F0F" stroke-width="3.3"/><path d="M1840.5,1151.3L1847.3,1161.3L1840.5,1171.3L1833.7,1161.3Z" fill="none" stroke="#0F7F0F" stroke-width="3.3"/><path d="M1853.6,1158.3L1860.4,1168.3L1853.6,1178.3L1846.8,1168.3Z" fill="none" stroke="#0F7F0F" stroke-width="3.3"/><path d="M1866.7,1163.5L1873.5,1173.5L1866.7,1183.5L1859.9,1173.5Z" fill="none" stroke="#0F7F0F" stroke-width="3.3"/><path d="M1879.9,1167.1L1886.7,1177.1L1879.9,1187.1L1873.1,1177.1Z" fill="none" stroke="#0F7F0F" stroke-width="3.3"/><path d="M1893.0,1169.1L1899.8,1179.1L1893.0,1189.1L1886.2,1179.1Z" fill="none" stroke="#0F7F0F" stroke-width="3.3"/><path d="M1906.1,1171.5L1912.9,1181.5L1906.1,1191.5L1899.3,1181.5Z" fill="none" stroke="#0F7F0F" stroke-width="3.3"/><path d="M1919.2,1174.8L1926.0,1184.8L1919.2,1194.8L1912.4,1184.8Z" fill="none" stroke="#0F7F0F" stroke-width="3.3"/>
</g>
<g clip-path="url(#cl2r)">
<polyline points="1269.6,862.4 1271.8,866.0 1274.0,869.6 1276.2,873.1 1278.4,876.7 1280.6,880.4 1282.8,884.0 1285.0,887.6 1287.2,891.3 1289.4,895.0 1291.5,898.8 1293.7,902.7 1295.9,906.5 1298.1,910.1 1300.3,913.5 1302.5,916.6 1304.7,919.5 1306.9,922.3 1309.1,925.1 1311.3,927.7 1313.5,930.2 1315.7,932.7 1317.9,935.2 1320.1,937.7 1322.3,940.2 1324.5,942.6 1326.7,945.1 1328.9,947.5 1331.1,949.8 1333.2,952.1 1335.4,954.2 1337.6,956.1 1339.8,957.9 1342.0,959.6 1344.2,961.1 1346.4,962.6 1348.6,964.0 1350.8,965.4 1353.0,966.7 1355.2,968.0 1357.4,969.2 1359.6,970.3 1361.8,971.4 1364.0,972.4 1366.2,973.4 1368.4,974.4 1370.6,975.3 1372.7,976.1 1374.9,976.9 1377.1,977.7 1379.3,978.5 1381.5,979.2 1383.7,979.9 1385.9,980.6 1388.1,981.2 1390.3,981.9 1392.5,982.5 1394.7,983.1 1396.9,983.7 1399.1,984.3 1401.3,984.9 1403.5,985.5 1405.7,986.2 1407.9,986.8 1410.1,987.5 1412.3,988.1 1414.4,988.8 1416.6,989.4 1418.8,990.1 1421.0,990.6 1423.2,991.2 1425.4,991.7 1427.6,992.2 1429.8,992.6 1432.0,992.9 1434.2,993.2 1436.4,993.5 1438.6,993.7 1440.8,993.9 1443.0,994.1 1445.2,994.3 1447.4,994.5 1449.6,994.7 1451.8,994.8 1454.0,995.0 1456.1,995.1 1458.3,995.1 1460.5,995.2 1462.7,995.2 1464.9,995.2 1467.1,995.0 1469.3,994.9 1471.5,994.6 1473.7,994.3 1475.9,994.0 1478.1,993.7 1480.3,993.3 1482.5,992.8 1484.7,992.4 1486.9,992.0 1489.1,991.5 1491.3,991.1 1493.5,990.6 1495.6,990.0 1497.8,989.4 1500.0,988.7 1502.2,987.9 1504.4,987.2 1506.6,986.3 1508.8,985.5 1511.0,984.6 1513.2,983.6 1515.4,982.7 1517.6,981.7 1519.8,980.8 1522.0,979.7 1524.2,978.4 1526.4,977.1 1528.6,975.8 1530.8,974.4 1533.0,972.9 1535.2,971.5 1537.3,970.2 1539.5,968.9 1541.7,967.7 1543.9,966.7 1546.1,965.7 1548.3,964.8 1550.5,963.9 1552.7,963.0 1554.9,962.2 1557.1,961.4 1559.3,960.6 1561.5,959.7 1563.7,958.9 1565.9,957.9 1568.1,956.9 1570.3,955.7 1572.5,954.7 1574.7,953.8 1576.9,953.2 1579.0,952.9 1581.2,952.9 1583.4,952.9 1585.6,952.9 1587.8,952.9 1590.0,952.9 1592.2,952.9 1594.4,953.4 1596.6,954.4 1598.8,955.7 1601.0,957.2 1603.2,958.7 1605.4,960.1 1607.6,961.6 1609.8,963.2 1612.0,965.0 1614.2,967.0 1616.4,969.2 1618.5,971.6 1620.7,974.5 1622.9,978.0 1625.1,981.8 1627.3,986.0 1629.5,990.4 1631.7,995.0 1633.9,999.9 1636.1,1005.3 1638.3,1011.1 1640.5,1017.1 1642.7,1023.1 1644.9,1029.0 1647.1,1035.1 1649.3,1041.2 1651.5,1047.4 1653.7,1053.4 1655.9,1059.1 1658.1,1064.4 1660.2,1069.6 1662.4,1074.6 1664.6,1079.4 1666.8,1084.2 1669.0,1089.0 1671.2,1093.8 1673.4,1098.8 1675.6,1103.5 1677.8,1107.9 1680.0,1111.6 1682.2,1114.6 1684.4,1117.2 1686.6,1119.5 1688.8,1121.7 1691.0,1123.9 1693.2,1126.3 1695.4,1129.0 1697.6,1132.1 1699.8,1135.6 1701.9,1139.2 1704.1,1142.7 1706.3,1145.8 1708.5,1148.4 1710.7,1150.4 1712.9,1152.3 1715.1,1153.9 1717.3,1155.5 1719.5,1156.9 1721.7,1158.4 1723.9,1159.8 1726.1,1161.2 1728.3,1162.7 1730.5,1164.2 1732.7,1165.6 1734.9,1167.0 1737.1,1168.4 1739.3,1169.7 1741.4,1170.9 1743.6,1172.1 1745.8,1173.2 1748.0,1174.2 1750.2,1175.2 1752.4,1176.2 1754.6,1177.1 1756.8,1178.0 1759.0,1178.8 1761.2,1179.5 1763.4,1180.2 1765.6,1180.8 1767.8,1181.4 1770.0,1181.9 1772.2,1182.4 1774.4,1182.8 1776.6,1183.3 1778.8,1183.7 1781.0,1184.0 1783.1,1184.4 1785.3,1184.7 1787.5,1185.0 1789.7,1185.2 1791.9,1185.5 1794.1,1185.7 1796.3,1185.9 1798.5,1186.1 1800.7,1186.3 1802.9,1186.5 1805.1,1186.7 1807.3,1186.9 1809.5,1187.1 1811.7,1187.3 1813.9,1187.5 1816.1,1187.7 1818.3,1187.9 1820.5,1188.1 1822.7,1188.4 1824.8,1188.6 1827.0,1189.0 1829.2,1189.3 1831.4,1189.6 1833.6,1190.0 1835.8,1190.4 1838.0,1190.9 1840.2,1191.3 1842.4,1191.8 1844.6,1192.3 1846.8,1192.7 1849.0,1193.2 1851.2,1193.7 1853.4,1194.2 1855.6,1194.7 1857.8,1195.1 1860.0,1195.6 1862.2,1196.0 1864.3,1196.5 1866.5,1196.9 1868.7,1197.3 1870.9,1197.7 1873.1,1198.1 1875.3,1198.5 1877.5,1198.8 1879.7,1199.2 1881.9,1199.6 1884.1,1200.0 1886.3,1200.4 1888.5,1200.8 1890.7,1201.1 1892.9,1201.5 1895.1,1201.9 1897.3,1202.3 1899.5,1202.6 1901.7,1203.0 1903.9,1203.4 1906.0,1203.7 1908.2,1204.1 1910.4,1204.4 1912.6,1204.8 1914.8,1205.1 1917.0,1205.5 1919.2,1205.8 1921.4,1206.1 1923.6,1206.5 1925.8,1206.8" stroke="#F000F0" stroke-width="3.0" fill="none" stroke-linejoin="round" />
<path d="M1268.7,879.1H1283.7L1276.2,865.6Z" fill="none" stroke="#F000F0" stroke-width="3.3" stroke-linejoin="miter"/><path d="M1281.8,900.9H1296.8L1289.3,887.4Z" fill="none" stroke="#F000F0" stroke-width="3.3" stroke-linejoin="miter"/><path d="M1294.9,922.4H1309.9L1302.4,908.9Z" fill="none" stroke="#F000F0" stroke-width="3.3" stroke-linejoin="miter"/><path d="M1308.0,938.5H1323.0L1315.5,925.0Z" fill="none" stroke="#F000F0" stroke-width="3.3" stroke-linejoin="miter"/><path d="M1321.2,953.3H1336.2L1328.7,939.8Z" fill="none" stroke="#F000F0" stroke-width="3.3" stroke-linejoin="miter"/><path d="M1334.3,965.4H1349.3L1341.8,951.9Z" fill="none" stroke="#F000F0" stroke-width="3.3" stroke-linejoin="miter"/><path d="M1347.4,973.8H1362.4L1354.9,960.3Z" fill="none" stroke="#F000F0" stroke-width="3.3" stroke-linejoin="miter"/><path d="M1360.5,980.2H1375.5L1368.0,966.7Z" fill="none" stroke="#F000F0" stroke-width="3.3" stroke-linejoin="miter"/><path d="M1373.7,985.1H1388.7L1381.2,971.6Z" fill="none" stroke="#F000F0" stroke-width="3.3" stroke-linejoin="miter"/><path d="M1386.8,989.0H1401.8L1394.3,975.5Z" fill="none" stroke="#F000F0" stroke-width="3.3" stroke-linejoin="miter"/><path d="M1399.9,992.7H1414.9L1407.4,979.2Z" fill="none" stroke="#F000F0" stroke-width="3.3" stroke-linejoin="miter"/><path d="M1413.0,996.5H1428.0L1420.5,983.0Z" fill="none" stroke="#F000F0" stroke-width="3.3" stroke-linejoin="miter"/><path d="M1426.1,999.2H1441.1L1433.6,985.7Z" fill="none" stroke="#F000F0" stroke-width="3.3" stroke-linejoin="miter"/><path d="M1439.3,1000.5H1454.3L1446.8,987.0Z" fill="none" stroke="#F000F0" stroke-width="3.3" stroke-linejoin="miter"/><path d="M1452.4,1001.2H1467.4L1459.9,987.7Z" fill="none" stroke="#F000F0" stroke-width="3.3" stroke-linejoin="miter"/><path d="M1465.5,1000.4H1480.5L1473.0,986.9Z" fill="none" stroke="#F000F0" stroke-width="3.3" stroke-linejoin="miter"/><path d="M1478.6,998.1H1493.6L1486.1,984.6Z" fill="none" stroke="#F000F0" stroke-width="3.3" stroke-linejoin="miter"/><path d="M1491.8,994.9H1506.8L1499.3,981.4Z" fill="none" stroke="#F000F0" stroke-width="3.3" stroke-linejoin="miter"/><path d="M1504.9,990.0H1519.9L1512.4,976.5Z" fill="none" stroke="#F000F0" stroke-width="3.3" stroke-linejoin="miter"/><path d="M1518.0,983.7H1533.0L1525.5,970.2Z" fill="none" stroke="#F000F0" stroke-width="3.3" stroke-linejoin="miter"/><path d="M1531.1,975.4H1546.1L1538.6,961.9Z" fill="none" stroke="#F000F0" stroke-width="3.3" stroke-linejoin="miter"/><path d="M1544.3,969.4H1559.3L1551.8,955.9Z" fill="none" stroke="#F000F0" stroke-width="3.3" stroke-linejoin="miter"/><path d="M1557.4,964.4H1572.4L1564.9,950.9Z" fill="none" stroke="#F000F0" stroke-width="3.3" stroke-linejoin="miter"/><path d="M1570.5,959.0H1585.5L1578.0,945.5Z" fill="none" stroke="#F000F0" stroke-width="3.3" stroke-linejoin="miter"/><path d="M1583.6,958.9H1598.6L1591.1,945.4Z" fill="none" stroke="#F000F0" stroke-width="3.3" stroke-linejoin="miter"/><path d="M1596.8,965.3H1611.8L1604.3,951.8Z" fill="none" stroke="#F000F0" stroke-width="3.3" stroke-linejoin="miter"/><path d="M1609.9,976.3H1624.9L1617.4,962.8Z" fill="none" stroke="#F000F0" stroke-width="3.3" stroke-linejoin="miter"/><path d="M1623.0,998.5H1638.0L1630.5,985.0Z" fill="none" stroke="#F000F0" stroke-width="3.3" stroke-linejoin="miter"/><path d="M1636.1,1031.7H1651.1L1643.6,1018.2Z" fill="none" stroke="#F000F0" stroke-width="3.3" stroke-linejoin="miter"/><path d="M1649.3,1067.3H1664.3L1656.8,1053.8Z" fill="none" stroke="#F000F0" stroke-width="3.3" stroke-linejoin="miter"/><path d="M1662.4,1096.8H1677.4L1669.9,1083.3Z" fill="none" stroke="#F000F0" stroke-width="3.3" stroke-linejoin="miter"/><path d="M1675.5,1121.6H1690.5L1683.0,1108.1Z" fill="none" stroke="#F000F0" stroke-width="3.3" stroke-linejoin="miter"/><path d="M1688.6,1136.0H1703.6L1696.1,1122.5Z" fill="none" stroke="#F000F0" stroke-width="3.3" stroke-linejoin="miter"/><path d="M1701.8,1155.1H1716.8L1709.3,1141.6Z" fill="none" stroke="#F000F0" stroke-width="3.3" stroke-linejoin="miter"/><path d="M1714.9,1164.8H1729.9L1722.4,1151.3Z" fill="none" stroke="#F000F0" stroke-width="3.3" stroke-linejoin="miter"/><path d="M1728.0,1173.4H1743.0L1735.5,1159.9Z" fill="none" stroke="#F000F0" stroke-width="3.3" stroke-linejoin="miter"/><path d="M1741.1,1180.5H1756.1L1748.6,1167.0Z" fill="none" stroke="#F000F0" stroke-width="3.3" stroke-linejoin="miter"/><path d="M1754.2,1185.7H1769.2L1761.8,1172.2Z" fill="none" stroke="#F000F0" stroke-width="3.3" stroke-linejoin="miter"/><path d="M1767.4,1188.9H1782.4L1774.9,1175.4Z" fill="none" stroke="#F000F0" stroke-width="3.3" stroke-linejoin="miter"/><path d="M1780.5,1191.0H1795.5L1788.0,1177.5Z" fill="none" stroke="#F000F0" stroke-width="3.3" stroke-linejoin="miter"/><path d="M1793.6,1192.4H1808.6L1801.1,1178.9Z" fill="none" stroke="#F000F0" stroke-width="3.3" stroke-linejoin="miter"/><path d="M1806.7,1193.5H1821.7L1814.2,1180.0Z" fill="none" stroke="#F000F0" stroke-width="3.3" stroke-linejoin="miter"/><path d="M1819.9,1195.0H1834.9L1827.4,1181.5Z" fill="none" stroke="#F000F0" stroke-width="3.3" stroke-linejoin="miter"/><path d="M1833.0,1197.4H1848.0L1840.5,1183.9Z" fill="none" stroke="#F000F0" stroke-width="3.3" stroke-linejoin="miter"/><path d="M1846.1,1200.2H1861.1L1853.6,1186.7Z" fill="none" stroke="#F000F0" stroke-width="3.3" stroke-linejoin="miter"/><path d="M1859.2,1202.9H1874.2L1866.7,1189.4Z" fill="none" stroke="#F000F0" stroke-width="3.3" stroke-linejoin="miter"/><path d="M1872.4,1205.3H1887.4L1879.9,1191.8Z" fill="none" stroke="#F000F0" stroke-width="3.3" stroke-linejoin="miter"/><path d="M1885.5,1207.5H1900.5L1893.0,1194.0Z" fill="none" stroke="#F000F0" stroke-width="3.3" stroke-linejoin="miter"/><path d="M1898.6,1209.7H1913.6L1906.1,1196.2Z" fill="none" stroke="#F000F0" stroke-width="3.3" stroke-linejoin="miter"/><path d="M1911.7,1211.8H1926.7L1919.2,1198.3Z" fill="none" stroke="#F000F0" stroke-width="3.3" stroke-linejoin="miter"/>
</g>
<g clip-path="url(#cl2r)">
<polyline points="1269.6,707.8 1271.8,711.5 1274.0,715.4 1276.2,719.5 1278.4,723.7 1280.6,728.2 1282.8,732.8 1285.0,737.5 1287.2,742.3 1289.4,747.3 1291.5,752.7 1293.7,758.6 1295.9,764.7 1298.1,770.6 1300.3,775.9 1302.5,780.5 1304.7,784.6 1306.9,788.5 1309.1,792.1 1311.3,795.7 1313.5,799.2 1315.7,802.8 1317.9,806.5 1320.1,810.3 1322.3,814.3 1324.5,818.2 1326.7,821.9 1328.9,825.3 1331.1,828.4 1333.2,831.4 1335.4,834.2 1337.6,837.0 1339.8,839.7 1342.0,842.3 1344.2,844.8 1346.4,847.2 1348.6,849.4 1350.8,851.6 1353.0,853.6 1355.2,855.6 1357.4,857.4 1359.6,859.2 1361.8,860.8 1364.0,862.5 1366.2,864.0 1368.4,865.6 1370.6,867.0 1372.7,868.5 1374.9,869.9 1377.1,871.3 1379.3,872.7 1381.5,874.1 1383.7,875.5 1385.9,877.0 1388.1,878.4 1390.3,879.8 1392.5,881.2 1394.7,882.5 1396.9,883.8 1399.1,885.1 1401.3,886.2 1403.5,887.3 1405.7,888.3 1407.9,889.2 1410.1,890.1 1412.3,891.1 1414.4,892.0 1416.6,892.9 1418.8,893.8 1421.0,894.7 1423.2,895.5 1425.4,896.2 1427.6,896.9 1429.8,897.4 1432.0,897.9 1434.2,898.2 1436.4,898.4 1438.6,898.5 1440.8,898.5 1443.0,898.5 1445.2,898.5 1447.4,898.5 1449.6,898.5 1451.8,898.5 1454.0,898.5 1456.1,898.5 1458.3,898.5 1460.5,898.5 1462.7,898.5 1464.9,898.4 1467.1,898.1 1469.3,897.7 1471.5,897.2 1473.7,896.5 1475.9,895.9 1478.1,895.1 1480.3,894.4 1482.5,893.7 1484.7,893.1 1486.9,892.5 1489.1,891.8 1491.3,891.1 1493.5,890.4 1495.6,889.7 1497.8,889.1 1500.0,888.6 1502.2,888.5 1504.4,888.6 1506.6,889.0 1508.8,889.6 1511.0,890.5 1513.2,891.5 1515.4,892.7 1517.6,895.1 1519.8,898.8 1522.0,903.5 1524.2,908.6 1526.4,913.6 1528.6,918.5 1530.8,923.7 1533.0,929.2 1535.2,935.1 1537.3,941.2 1539.5,947.6 1541.7,954.6 1543.9,962.1 1546.1,970.0 1548.3,977.8 1550.5,985.2 1552.7,992.1 1554.9,998.9 1557.1,1005.4 1559.3,1011.7 1561.5,1017.8 1563.7,1023.7 1565.9,1029.3 1568.1,1034.8 1570.3,1040.1 1572.5,1045.3 1574.7,1050.1 1576.9,1054.6 1579.0,1058.9 1581.2,1062.9 1583.4,1066.8 1585.6,1070.4 1587.8,1073.9 1590.0,1077.3 1592.2,1080.5 1594.4,1083.6 1596.6,1086.6 1598.8,1089.5 1601.0,1092.3 1603.2,1095.0 1605.4,1097.6 1607.6,1100.1 1609.8,1102.6 1612.0,1105.0 1614.2,1107.4 1616.4,1109.8 1618.5,1112.1 1620.7,1114.3 1622.9,1116.5 1625.1,1118.5 1627.3,1120.5 1629.5,1122.4 1631.7,1124.2 1633.9,1125.8 1636.1,1127.5 1638.3,1129.0 1640.5,1130.5 1642.7,1132.0 1644.9,1133.4 1647.1,1134.7 1649.3,1136.1 1651.5,1137.4 1653.7,1138.6 1655.9,1139.9 1658.1,1141.1 1660.2,1142.3 1662.4,1143.5 1664.6,1144.8 1666.8,1145.9 1669.0,1147.1 1671.2,1148.3 1673.4,1149.4 1675.6,1150.5 1677.8,1151.6 1680.0,1152.7 1682.2,1153.7 1684.4,1154.8 1686.6,1155.8 1688.8,1156.8 1691.0,1157.8 1693.2,1158.9 1695.4,1159.9 1697.6,1160.9 1699.8,1161.9 1701.9,1162.9 1704.1,1163.9 1706.3,1164.9 1708.5,1165.9 1710.7,1166.8 1712.9,1167.8 1715.1,1168.7 1717.3,1169.6 1719.5,1170.5 1721.7,1171.4 1723.9,1172.2 1726.1,1173.0 1728.3,1173.8 1730.5,1174.5 1732.7,1175.3 1734.9,1176.0 1737.1,1176.7 1739.3,1177.4 1741.4,1178.1 1743.6,1178.8 1745.8,1179.5 1748.0,1180.1 1750.2,1180.8 1752.4,1181.4 1754.6,1182.0 1756.8,1182.6 1759.0,1183.2 1761.2,1183.8 1763.4,1184.3 1765.6,1184.8 1767.8,1185.3 1770.0,1185.9 1772.2,1186.4 1774.4,1186.9 1776.6,1187.4 1778.8,1187.9 1781.0,1188.3 1783.1,1188.8 1785.3,1189.3 1787.5,1189.7 1789.7,1190.1 1791.9,1190.5 1794.1,1190.9 1796.3,1191.3 1798.5,1191.7 1800.7,1192.0 1802.9,1192.4 1805.1,1192.7 1807.3,1193.0 1809.5,1193.2 1811.7,1193.5 1813.9,1193.8 1816.1,1194.1 1818.3,1194.3 1820.5,1194.6 1822.7,1194.8 1824.8,1195.0 1827.0,1195.2 1829.2,1195.5 1831.4,1195.7 1833.6,1195.9 1835.8,1196.0 1838.0,1196.2 1840.2,1196.4 1842.4,1196.6 1844.6,1196.7 1846.8,1196.9 1849.0,1197.0 1851.2,1197.1 1853.4,1197.3 1855.6,1197.4 1857.8,1197.6 1860.0,1197.7 1862.2,1197.9 1864.3,1198.0 1866.5,1198.1 1868.7,1198.2 1870.9,1198.4 1873.1,1198.4 1875.3,1198.5 1877.5,1198.6 1879.7,1198.7 1881.9,1198.7 1884.1,1198.7 1886.3,1198.8 1888.5,1198.8 1890.7,1198.8 1892.9,1198.8 1895.1,1198.8 1897.3,1198.8 1899.5,1198.8 1901.7,1198.8 1903.9,1198.8 1906.0,1198.8 1908.2,1198.8 1910.4,1198.8 1912.6,1198.8 1914.8,1198.8 1917.0,1198.8 1919.2,1198.8 1921.4,1198.8 1923.6,1198.8 1925.8,1198.8" stroke="#EAAA1A" stroke-width="3.0" fill="none" stroke-linejoin="round" />
<path d="M1271.7,714.9L1280.7,723.9M1271.7,723.9L1280.7,714.9M1271.2,719.4H1281.2" stroke="#EAAA1A" stroke-width="3.0"/><path d="M1284.8,742.6L1293.8,751.6M1284.8,751.6L1293.8,742.6M1284.3,747.1H1294.3" stroke="#EAAA1A" stroke-width="3.0"/><path d="M1297.9,775.8L1306.9,784.8M1297.9,784.8L1306.9,775.8M1297.4,780.3H1307.4" stroke="#EAAA1A" stroke-width="3.0"/><path d="M1311.0,798.0L1320.0,807.0M1311.0,807.0L1320.0,798.0M1310.5,802.5H1320.5" stroke="#EAAA1A" stroke-width="3.0"/><path d="M1324.2,820.5L1333.2,829.5M1324.2,829.5L1333.2,820.5M1323.7,825.0H1333.7" stroke="#EAAA1A" stroke-width="3.0"/><path d="M1337.3,837.5L1346.3,846.5M1337.3,846.5L1346.3,837.5M1336.8,842.0H1346.8" stroke="#EAAA1A" stroke-width="3.0"/><path d="M1350.4,850.8L1359.4,859.8M1350.4,859.8L1359.4,850.8M1349.9,855.3H1359.9" stroke="#EAAA1A" stroke-width="3.0"/><path d="M1363.5,860.8L1372.5,869.8M1363.5,869.8L1372.5,860.8M1363.0,865.3H1373.0" stroke="#EAAA1A" stroke-width="3.0"/><path d="M1376.7,869.4L1385.7,878.4M1376.7,878.4L1385.7,869.4M1376.2,873.9H1386.2" stroke="#EAAA1A" stroke-width="3.0"/><path d="M1389.8,877.8L1398.8,886.8M1389.8,886.8L1398.8,877.8M1389.3,882.3H1399.3" stroke="#EAAA1A" stroke-width="3.0"/><path d="M1402.9,884.5L1411.9,893.5M1402.9,893.5L1411.9,884.5M1402.4,889.0H1412.4" stroke="#EAAA1A" stroke-width="3.0"/><path d="M1416.0,890.0L1425.0,899.0M1416.0,899.0L1425.0,890.0M1415.5,894.5H1425.5" stroke="#EAAA1A" stroke-width="3.0"/><path d="M1429.1,893.7L1438.1,902.7M1429.1,902.7L1438.1,893.7M1428.6,898.2H1438.6" stroke="#EAAA1A" stroke-width="3.0"/><path d="M1442.3,894.0L1451.3,903.0M1442.3,903.0L1451.3,894.0M1441.8,898.5H1451.8" stroke="#EAAA1A" stroke-width="3.0"/><path d="M1455.4,894.0L1464.4,903.0M1455.4,903.0L1464.4,894.0M1454.9,898.5H1464.9" stroke="#EAAA1A" stroke-width="3.0"/><path d="M1468.5,892.2L1477.5,901.2M1468.5,901.2L1477.5,892.2M1468.0,896.7H1478.0" stroke="#EAAA1A" stroke-width="3.0"/><path d="M1481.6,888.2L1490.6,897.2M1481.6,897.2L1490.6,888.2M1481.1,892.7H1491.1" stroke="#EAAA1A" stroke-width="3.0"/><path d="M1494.8,884.3L1503.8,893.3M1494.8,893.3L1503.8,884.3M1494.3,888.8H1504.3" stroke="#EAAA1A" stroke-width="3.0"/><path d="M1507.9,886.6L1516.9,895.6M1507.9,895.6L1516.9,886.6M1507.4,891.1H1517.4" stroke="#EAAA1A" stroke-width="3.0"/><path d="M1521.0,907.2L1530.0,916.2M1521.0,916.2L1530.0,907.2M1520.5,911.7H1530.5" stroke="#EAAA1A" stroke-width="3.0"/><path d="M1534.1,940.4L1543.1,949.4M1534.1,949.4L1543.1,940.4M1533.6,944.9H1543.6" stroke="#EAAA1A" stroke-width="3.0"/><path d="M1547.3,984.7L1556.3,993.7M1547.3,993.7L1556.3,984.7M1546.8,989.2H1556.8" stroke="#EAAA1A" stroke-width="3.0"/><path d="M1560.4,1022.3L1569.4,1031.3M1560.4,1031.3L1569.4,1022.3M1559.9,1026.8H1569.9" stroke="#EAAA1A" stroke-width="3.0"/><path d="M1573.5,1052.4L1582.5,1061.4M1573.5,1061.4L1582.5,1052.4M1573.0,1056.9H1583.0" stroke="#EAAA1A" stroke-width="3.0"/><path d="M1586.6,1074.5L1595.6,1083.5M1586.6,1083.5L1595.6,1074.5M1586.1,1079.0H1596.1" stroke="#EAAA1A" stroke-width="3.0"/><path d="M1599.8,1091.8L1608.8,1100.8M1599.8,1100.8L1608.8,1091.8M1599.3,1096.3H1609.3" stroke="#EAAA1A" stroke-width="3.0"/><path d="M1612.9,1106.4L1621.9,1115.4M1612.9,1115.4L1621.9,1106.4M1612.4,1110.9H1622.4" stroke="#EAAA1A" stroke-width="3.0"/><path d="M1626.0,1118.7L1635.0,1127.7M1626.0,1127.7L1635.0,1118.7M1625.5,1123.2H1635.5" stroke="#EAAA1A" stroke-width="3.0"/><path d="M1639.1,1128.1L1648.1,1137.1M1639.1,1137.1L1648.1,1128.1M1638.6,1132.6H1648.6" stroke="#EAAA1A" stroke-width="3.0"/><path d="M1652.3,1135.9L1661.3,1144.9M1652.3,1144.9L1661.3,1135.9M1651.8,1140.4H1661.8" stroke="#EAAA1A" stroke-width="3.0"/><path d="M1665.4,1143.1L1674.4,1152.1M1665.4,1152.1L1674.4,1143.1M1664.9,1147.6H1674.9" stroke="#EAAA1A" stroke-width="3.0"/><path d="M1678.5,1149.6L1687.5,1158.6M1678.5,1158.6L1687.5,1149.6M1678.0,1154.1H1688.0" stroke="#EAAA1A" stroke-width="3.0"/><path d="M1691.6,1155.7L1700.6,1164.7M1691.6,1164.7L1700.6,1155.7M1691.1,1160.2H1701.1" stroke="#EAAA1A" stroke-width="3.0"/><path d="M1704.8,1161.7L1713.8,1170.7M1704.8,1170.7L1713.8,1161.7M1704.3,1166.2H1714.3" stroke="#EAAA1A" stroke-width="3.0"/><path d="M1717.9,1167.1L1726.9,1176.1M1717.9,1176.1L1726.9,1167.1M1717.4,1171.6H1727.4" stroke="#EAAA1A" stroke-width="3.0"/><path d="M1731.0,1171.7L1740.0,1180.7M1731.0,1180.7L1740.0,1171.7M1730.5,1176.2H1740.5" stroke="#EAAA1A" stroke-width="3.0"/><path d="M1744.1,1175.8L1753.1,1184.8M1744.1,1184.8L1753.1,1175.8M1743.6,1180.3H1753.6" stroke="#EAAA1A" stroke-width="3.0"/><path d="M1757.2,1179.4L1766.2,1188.4M1757.2,1188.4L1766.2,1179.4M1756.8,1183.9H1766.8" stroke="#EAAA1A" stroke-width="3.0"/><path d="M1770.4,1182.5L1779.4,1191.5M1770.4,1191.5L1779.4,1182.5M1769.9,1187.0H1779.9" stroke="#EAAA1A" stroke-width="3.0"/><path d="M1783.5,1185.3L1792.5,1194.3M1783.5,1194.3L1792.5,1185.3M1783.0,1189.8H1793.0" stroke="#EAAA1A" stroke-width="3.0"/><path d="M1796.6,1187.6L1805.6,1196.6M1796.6,1196.6L1805.6,1187.6M1796.1,1192.1H1806.1" stroke="#EAAA1A" stroke-width="3.0"/><path d="M1809.7,1189.3L1818.7,1198.3M1809.7,1198.3L1818.7,1189.3M1809.2,1193.8H1819.2" stroke="#EAAA1A" stroke-width="3.0"/><path d="M1822.9,1190.8L1831.9,1199.8M1822.9,1199.8L1831.9,1190.8M1822.4,1195.3H1832.4" stroke="#EAAA1A" stroke-width="3.0"/><path d="M1836.0,1191.9L1845.0,1200.9M1836.0,1200.9L1845.0,1191.9M1835.5,1196.4H1845.5" stroke="#EAAA1A" stroke-width="3.0"/><path d="M1849.1,1192.8L1858.1,1201.8M1849.1,1201.8L1858.1,1192.8M1848.6,1197.3H1858.6" stroke="#EAAA1A" stroke-width="3.0"/><path d="M1862.2,1193.6L1871.2,1202.6M1862.2,1202.6L1871.2,1193.6M1861.7,1198.1H1871.7" stroke="#EAAA1A" stroke-width="3.0"/><path d="M1875.4,1194.2L1884.4,1203.2M1875.4,1203.2L1884.4,1194.2M1874.9,1198.7H1884.9" stroke="#EAAA1A" stroke-width="3.0"/><path d="M1888.5,1194.3L1897.5,1203.3M1888.5,1203.3L1897.5,1194.3M1888.0,1198.8H1898.0" stroke="#EAAA1A" stroke-width="3.0"/><path d="M1901.6,1194.3L1910.6,1203.3M1901.6,1203.3L1910.6,1194.3M1901.1,1198.8H1911.1" stroke="#EAAA1A" stroke-width="3.0"/><path d="M1914.7,1194.3L1923.7,1203.3M1914.7,1203.3L1923.7,1194.3M1914.2,1198.8H1924.2" stroke="#EAAA1A" stroke-width="3.0"/>
</g>
<rect x="1755.0" y="709.1" width="151.4" height="213.2" fill="#fff" stroke="#3a3a3a" stroke-width="1.6"/>
<line x1="1762.5" y1="729.6" x2="1829.0" y2="729.6" stroke="#000000" stroke-width="2.4" />
<path d="M1788.5,723.6H1802.5L1795.5,737.1Z" fill="none" stroke="#000000" stroke-width="3.4" stroke-linejoin="miter"/>
<text x="1835.5" y="737.6" font-size="29.5" font-family="'Liberation Serif', 'Times New Roman', serif" fill="#111" textLength="64.0" lengthAdjust="spacingAndGlyphs" >0.5 C</text>
<line x1="1762.5" y1="764.2" x2="1829.0" y2="764.2" stroke="#E41A1C" stroke-width="2.4" />
<circle cx="1795.5" cy="764.2" r="6.3" fill="none" stroke="#E41A1C" stroke-width="3.0"/>
<text x="1835.5" y="772.2" font-size="29.5" font-family="'Liberation Serif', 'Times New Roman', serif" fill="#111" textLength="47.0" lengthAdjust="spacingAndGlyphs" >1 C</text>
<line x1="1762.5" y1="798.8" x2="1829.0" y2="798.8" stroke="#0000E6" stroke-width="2.4" />
<path d="M1789.0,798.8H1802.0M1795.5,791.8V805.8" stroke="#0000E6" stroke-width="3.6"/>
<text x="1835.5" y="806.8" font-size="29.5" font-family="'Liberation Serif', 'Times New Roman', serif" fill="#111" textLength="47.0" lengthAdjust="spacingAndGlyphs" >2 C</text>
<line x1="1762.5" y1="833.4" x2="1829.0" y2="833.4" stroke="#0F7F0F" stroke-width="2.4" />
<path d="M1795.5,823.4L1802.3,833.4L1795.5,843.4L1788.7,833.4Z" fill="none" stroke="#0F7F0F" stroke-width="3.3"/>
<text x="1835.5" y="841.4" font-size="29.5" font-family="'Liberation Serif', 'Times New Roman', serif" fill="#111" textLength="47.0" lengthAdjust="spacingAndGlyphs" >3 C</text>
<line x1="1762.5" y1="868.0" x2="1829.0" y2="868.0" stroke="#F000F0" stroke-width="2.4" />
<path d="M1788.0,874.0H1803.0L1795.5,860.5Z" fill="none" stroke="#F000F0" stroke-width="3.3" stroke-linejoin="miter"/>
<text x="1835.5" y="876.0" font-size="29.5" font-family="'Liberation Serif', 'Times New Roman', serif" fill="#111" textLength="47.0" lengthAdjust="spacingAndGlyphs" >4 C</text>
<line x1="1762.5" y1="902.6" x2="1829.0" y2="902.6" stroke="#EAAA1A" stroke-width="2.4" />
<path d="M1791.0,898.1L1800.0,907.1M1791.0,907.1L1800.0,898.1M1790.5,902.6H1800.5" stroke="#EAAA1A" stroke-width="3.0"/>
<text x="1835.5" y="910.6" font-size="29.5" font-family="'Liberation Serif', 'Times New Roman', serif" fill="#111" textLength="47.0" lengthAdjust="spacingAndGlyphs" >5 C</text>
<text x="1295.0" y="733.6" font-size="37" font-family="'Liberation Serif', 'Times New Roman', serif" fill="#111" textLength="166.0" lengthAdjust="spacingAndGlyphs" >Separator</text>
<line x1="1468.5" y1="757.0" x2="1290.0" y2="757.0" stroke="#1a1a1a" stroke-width="2.1" />
<polygon points="1271.5,757.0 1290.5,750.5 1290.5,763.5" fill="#000" stroke="none" stroke-width="0" />
<text x="1629.0" y="964.9" font-size="37" font-family="'Liberation Serif', 'Times New Roman', serif" fill="#111" textLength="292.0" lengthAdjust="spacingAndGlyphs" >Current collector</text>
<line x1="1726.8" y1="981.0" x2="1906.0" y2="981.0" stroke="#1a1a1a" stroke-width="2.1" />
<polygon points="1924.0,981.0 1905.0,987.5 1905.0,974.5" fill="#000" stroke="none" stroke-width="0" />
<polyline points="1047,1113 1149,1283 1259,1113" fill="none" stroke="#000" stroke-width="7.5" stroke-linejoin="miter" stroke-miterlimit="10"/>
<polygon points="1036.0,1093.5 1064.2,1111.6 1038.5,1126.9" fill="#000" stroke="none" stroke-width="0" />
<polygon points="1270.7,1093.5 1267.1,1126.8 1241.9,1110.6" fill="#000" stroke="none" stroke-width="0" />
<text x="1149.2" y="1339.6" font-size="37" font-family="'Liberation Sans', Arial, sans-serif" fill="#000" text-anchor="middle" textLength="631.5" lengthAdjust="spacingAndGlyphs" >Amplified stress at electrode-separator</text>
<text x="1149.0" y="1382.8" font-size="37" font-family="'Liberation Sans', Arial, sans-serif" fill="#000" text-anchor="middle" >interfaces</text>
<path d="M290.7,1384.1 V1365.8 H466" fill="none" stroke="#000" stroke-width="2.8"/>
<path d="M450.5,1375.2 Q456,1367 467.5,1365.8" fill="none" stroke="#000" stroke-width="2.4" stroke-linecap="round"/>
<line x1="292.0" y1="1419.3" x2="433.0" y2="1419.3" stroke="#000" stroke-width="1.6" />
<line x1="504.7" y1="1419.3" x2="647.5" y2="1419.3" stroke="#000" stroke-width="1.6" />
<line x1="649.0" y1="1419.3" x2="825.0" y2="1419.3" stroke="#000" stroke-width="1.6" />
<line x1="828.0" y1="1419.3" x2="970.0" y2="1419.3" stroke="#000" stroke-width="1.6" />
<line x1="1039.0" y1="1419.3" x2="1180.5" y2="1419.3" stroke="#000" stroke-width="1.6" />
<path d="M312.0,1409.3 Q299.0,1417.3 292.0,1419.3 Q299.0,1421.3 312.0,1429.3" fill="none" stroke="#000" stroke-width="1.6" stroke-linecap="round"/>
<path d="M627.5,1429.3 Q640.5,1421.3 647.5,1419.3 Q640.5,1417.3 627.5,1409.3" fill="none" stroke="#000" stroke-width="1.6" stroke-linecap="round"/>
<path d="M668.5,1409.3 Q655.5,1417.3 648.5,1419.3 Q655.5,1421.3 668.5,1429.3" fill="none" stroke="#000" stroke-width="1.6" stroke-linecap="round"/>
<path d="M806.0,1429.3 Q819.0,1421.3 826.0,1419.3 Q819.0,1417.3 806.0,1409.3" fill="none" stroke="#000" stroke-width="1.6" stroke-linecap="round"/>
<path d="M847.0,1409.3 Q834.0,1417.3 827.0,1419.3 Q834.0,1421.3 847.0,1429.3" fill="none" stroke="#000" stroke-width="1.6" stroke-linecap="round"/>
<path d="M1161.5,1429.3 Q1174.5,1421.3 1181.5,1419.3 Q1174.5,1417.3 1161.5,1409.3" fill="none" stroke="#000" stroke-width="1.6" stroke-linecap="round"/>
<text x="446" y="1430.8" font-size="40" font-family="'Liberation Serif', 'Times New Roman', serif" font-style="italic">L<tspan font-size="28" font-style="normal" dy="6">n</tspan></text>
<rect x="690" y="1405" width="86" height="0" fill="#fff"/>
<text x="700.5" y="1430.8" font-size="40" font-family="'Liberation Serif', 'Times New Roman', serif" font-style="italic">L<tspan font-size="28" font-style="normal" dy="6">sep</tspan></text>
<text x="980" y="1430.8" font-size="40" font-family="'Liberation Serif', 'Times New Roman', serif" font-style="italic">L<tspan font-size="28" font-style="normal" dy="6">p</tspan></text>
<rect x="272.5" y="1436" width="18.5" height="143.5" fill="#000"/>
<rect x="1181.5" y="1436" width="20" height="143.5" fill="#000"/>
<line x1="291.0" y1="1455.9" x2="1181.5" y2="1455.9" stroke="#000" stroke-width="1.6" />
<line x1="291.0" y1="1561.6" x2="1181.5" y2="1561.6" stroke="#000" stroke-width="1.6" />
<line x1="648.1" y1="1455.9" x2="648.1" y2="1561.6" stroke="#000" stroke-width="1.6" />
<line x1="826.5" y1="1455.9" x2="826.5" y2="1561.6" stroke="#000" stroke-width="1.6" />
<circle cx="326.6" cy="1508.5" r="32.2" fill="#C0C0C0" stroke="#222" stroke-width="1.4"/>
<circle cx="397.5" cy="1508.5" r="32.2" fill="#C0C0C0" stroke="#222" stroke-width="1.4"/>
<circle cx="540.2" cy="1508.5" r="32.2" fill="#C0C0C0" stroke="#222" stroke-width="1.4"/>
<circle cx="611.8" cy="1508.5" r="32.2" fill="#C0C0C0" stroke="#222" stroke-width="1.4"/>
<circle cx="862" cy="1508.4" r="32.2" fill="#EBEBEB" stroke="#222" stroke-width="1.4"/>
<circle cx="932.5" cy="1508.4" r="32.2" fill="#EBEBEB" stroke="#222" stroke-width="1.4"/>
<circle cx="1075.6" cy="1508.4" r="32.2" fill="#EBEBEB" stroke="#222" stroke-width="1.4"/>
<circle cx="1146.4" cy="1508.4" r="32.2" fill="#EBEBEB" stroke="#222" stroke-width="1.4"/>
<circle cx="446.7" cy="1507.5" r="1.9" fill="#111"/>
<circle cx="466" cy="1507.5" r="1.9" fill="#111"/>
<circle cx="485.4" cy="1507.5" r="1.9" fill="#111"/>
<circle cx="980.5" cy="1507.5" r="1.9" fill="#111"/>
<circle cx="1000.2" cy="1507.5" r="1.9" fill="#111"/>
<circle cx="1020.4" cy="1507.5" r="1.9" fill="#111"/>
<text x="447" y="1550.3" font-size="40" font-family="'Liberation Serif', 'Times New Roman', serif" font-style="italic">n<tspan font-size="28" font-style="normal" dy="5.5">n</tspan></text>
<text x="982" y="1545.5" font-size="40" font-family="'Liberation Serif', 'Times New Roman', serif" font-style="italic">n<tspan font-size="28" font-style="normal" dy="5.5">p</tspan></text>
<text x="655.5" y="1518.0" font-size="40" font-family="'Liberation Serif', 'Times New Roman', serif" fill="#000" textLength="162.0" lengthAdjust="spacingAndGlyphs" >Separator</text>
<text x="390.6" y="1607.0" font-size="40" font-family="'Liberation Serif', 'Times New Roman', serif" fill="#000" textLength="158.0" lengthAdjust="spacingAndGlyphs" >Negative</text>
<text x="933.0" y="1611.0" font-size="40" font-family="'Liberation Serif', 'Times New Roman', serif" fill="#000" textLength="143.0" lengthAdjust="spacingAndGlyphs" >Positive</text>
<line x1="611.7" y1="1542.4" x2="611.7" y2="1733" stroke="#000" stroke-width="5" stroke-dasharray="14 8.5"/>
<path d="M603.7,1722.0 Q610.1,1733.0 611.7,1739.0 Q613.3,1733.0 619.7,1722.0" fill="none" stroke="#000" stroke-width="3.2" stroke-linecap="round"/>
<line x1="1204.7" y1="1617.0" x2="1204.7" y2="1639.5" stroke="#7a0a0a" stroke-width="2.2" />
<circle cx="362" cy="1829" r="160.5" fill="#8C8CFF" stroke="#1a1a1a" stroke-width="1.3"/>
<circle cx="790.3" cy="1829.6" r="89.5" fill="#8CFF8C" stroke="#1a1a1a" stroke-width="1.3"/>
<rect x="574.7" y="1824.5" width="74.3" height="9" fill="#000"/>
<rect x="606.3" y="1793.7" width="11" height="71.8" fill="#000"/>
<text x="282.0" y="1813.0" font-size="43" font-family="'Liberation Serif', 'Times New Roman', serif" fill="#000" textLength="163.0" lengthAdjust="spacingAndGlyphs" >Graphite</text>
<text x="293" y="1866" font-size="43" font-family="'Liberation Serif', 'Times New Roman', serif" textLength="139" lengthAdjust="spacingAndGlyphs">(<tspan font-style="italic">R</tspan><tspan font-size="30" dy="7">g</tspan><tspan dy="-7">, </tspan><tspan font-style="italic">V</tspan><tspan font-size="30" dy="7">g</tspan><tspan dy="-7">)</tspan></text>
<text x="730.0" y="1818.0" font-size="43" font-family="'Liberation Serif', 'Times New Roman', serif" fill="#000" textLength="119.0" lengthAdjust="spacingAndGlyphs" >Silicon</text>
<text x="714.7" y="1866" font-size="43" font-family="'Liberation Serif', 'Times New Roman', serif" textLength="151" lengthAdjust="spacingAndGlyphs">(<tspan font-style="italic">R</tspan><tspan font-size="30" dy="7">si</tspan><tspan dy="-7">, </tspan><tspan font-style="italic">V</tspan><tspan font-size="30" dy="7">si</tspan><tspan dy="-7">)</tspan></text>
<text x="231.7" y="2033.8" font-size="43" font-family="'Liberation Serif', 'Times New Roman', serif" textLength="261" lengthAdjust="spacingAndGlyphs"><tspan font-style="italic">a</tspan><tspan font-size="30" dy="7">g</tspan><tspan dy="-7"> = 3</tspan><tspan font-style="italic">ϵ</tspan><tspan font-size="30" dy="7">s</tspan><tspan dy="-7" font-style="italic">V</tspan><tspan font-size="30" dy="7">g</tspan><tspan dy="-7">/</tspan><tspan font-style="italic">R</tspan><tspan font-size="30" dy="7">g</tspan></text>
<clipPath id="clsi"><rect x="600" y="1900" width="325" height="100"/></clipPath>
<text clip-path="url(#clsi)" x="650" y="1963" font-size="43" font-family="'Liberation Serif', 'Times New Roman', serif" textLength="282" lengthAdjust="spacingAndGlyphs"><tspan font-style="italic">a</tspan><tspan font-size="30" dy="7">si</tspan><tspan dy="-7"> = 3</tspan><tspan font-style="italic">ϵ</tspan><tspan font-size="30" dy="7">s</tspan><tspan dy="-7" font-style="italic">V</tspan><tspan font-size="30" dy="7">si</tspan><tspan dy="-7">/</tspan><tspan font-style="italic">R</tspan><tspan font-size="30" dy="7">si</tspan></text>
<text x="1166.4" y="2014.3" font-size="37" font-family="'Liberation Sans', Arial, sans-serif" fill="#000" text-anchor="middle" textLength="424.0" lengthAdjust="spacingAndGlyphs" >Uneven lithiation between</text>
<text x="1166.4" y="2057.4" font-size="37" font-family="'Liberation Sans', Arial, sans-serif" fill="#000" text-anchor="middle" >graphite and silicon</text>
<line x1="1413.3" y1="1947.8" x2="1413.3" y2="1940.3" stroke="#000" stroke-width="1.5" />
<line x1="1413.3" y1="1440.2" x2="1413.3" y2="1447.7" stroke="#000" stroke-width="1.5" />
<line x1="1545.0" y1="1947.8" x2="1545.0" y2="1940.3" stroke="#000" stroke-width="1.5" />
<line x1="1545.0" y1="1440.2" x2="1545.0" y2="1447.7" stroke="#000" stroke-width="1.5" />
<line x1="1676.8" y1="1947.8" x2="1676.8" y2="1940.3" stroke="#000" stroke-width="1.5" />
<line x1="1676.8" y1="1440.2" x2="1676.8" y2="1447.7" stroke="#000" stroke-width="1.5" />
<line x1="1808.5" y1="1947.8" x2="1808.5" y2="1940.3" stroke="#000" stroke-width="1.5" />
<line x1="1808.5" y1="1440.2" x2="1808.5" y2="1447.7" stroke="#000" stroke-width="1.5" />
<line x1="1940.3" y1="1947.8" x2="1940.3" y2="1940.3" stroke="#000" stroke-width="1.5" />
<line x1="1940.3" y1="1440.2" x2="1940.3" y2="1447.7" stroke="#000" stroke-width="1.5" />
<line x1="2072.1" y1="1947.8" x2="2072.1" y2="1940.3" stroke="#000" stroke-width="1.5" />
<line x1="2072.1" y1="1440.2" x2="2072.1" y2="1447.7" stroke="#000" stroke-width="1.5" />
<line x1="1386.0" y1="1846.3" x2="1393.5" y2="1846.3" stroke="#000" stroke-width="1.5" />
<line x1="2071.8" y1="1846.3" x2="2064.3" y2="1846.3" stroke="#000" stroke-width="1.5" />
<line x1="1386.0" y1="1744.8" x2="1393.5" y2="1744.8" stroke="#000" stroke-width="1.5" />
<line x1="2071.8" y1="1744.8" x2="2064.3" y2="1744.8" stroke="#000" stroke-width="1.5" />
<line x1="1386.0" y1="1643.2" x2="1393.5" y2="1643.2" stroke="#000" stroke-width="1.5" />
<line x1="2071.8" y1="1643.2" x2="2064.3" y2="1643.2" stroke="#000" stroke-width="1.5" />
<line x1="1386.0" y1="1541.7" x2="1393.5" y2="1541.7" stroke="#000" stroke-width="1.5" />
<line x1="2071.8" y1="1541.7" x2="2064.3" y2="1541.7" stroke="#000" stroke-width="1.5" />
<text x="1369.0" y="1959.8" font-size="34.5" font-family="'Liberation Serif', 'Times New Roman', serif" fill="#111" text-anchor="end" >0</text>
<text x="1369.0" y="1858.3" font-size="34.5" font-family="'Liberation Serif', 'Times New Roman', serif" fill="#111" text-anchor="end" >0.2</text>
<text x="1369.0" y="1756.8" font-size="34.5" font-family="'Liberation Serif', 'Times New Roman', serif" fill="#111" text-anchor="end" >0.4</text>
<text x="1369.0" y="1655.2" font-size="34.5" font-family="'Liberation Serif', 'Times New Roman', serif" fill="#111" text-anchor="end" >0.6</text>
<text x="1369.0" y="1553.7" font-size="34.5" font-family="'Liberation Serif', 'Times New Roman', serif" fill="#111" text-anchor="end" >0.8</text>
<text x="1369.0" y="1452.2" font-size="34.5" font-family="'Liberation Serif', 'Times New Roman', serif" fill="#111" text-anchor="end" >1</text>
<text x="1413.3" y="1992.2" font-size="34.5" font-family="'Liberation Serif', 'Times New Roman', serif" fill="#111" text-anchor="middle" >0</text>
<text x="1545.0" y="1992.2" font-size="34.5" font-family="'Liberation Serif', 'Times New Roman', serif" fill="#111" text-anchor="middle" >1</text>
<text x="1676.8" y="1992.2" font-size="34.5" font-family="'Liberation Serif', 'Times New Roman', serif" fill="#111" text-anchor="middle" >2</text>
<text x="1808.5" y="1992.2" font-size="34.5" font-family="'Liberation Serif', 'Times New Roman', serif" fill="#111" text-anchor="middle" >3</text>
<text x="1940.3" y="1992.2" font-size="34.5" font-family="'Liberation Serif', 'Times New Roman', serif" fill="#111" text-anchor="middle" >4</text>
<text x="2072.1" y="1992.2" font-size="34.5" font-family="'Liberation Serif', 'Times New Roman', serif" fill="#111" text-anchor="middle" >5</text>
<text x="1729.3" y="2037.7" font-size="43" font-family="'Liberation Serif', 'Times New Roman', serif" fill="#111" text-anchor="middle" textLength="248.0" lengthAdjust="spacingAndGlyphs" >Capacity [Ah]</text>
<text transform="translate(1309,1694) rotate(-90)" x="0" y="0" font-size="42" font-family="'Liberation Serif', 'Times New Roman', serif" fill="#111" text-anchor="middle" textLength="214" lengthAdjust="spacingAndGlyphs">Avg. <tspan font-style="italic">c</tspan>/<tspan font-style="italic">c</tspan><tspan font-size="30" dy="6">max</tspan></text>
<clipPath id="cl3"><rect x="1386" y="1440" width="686" height="508"/></clipPath>
<g clip-path="url(#cl3)">
<polyline points="1413.3,1945.8 1415.5,1943.9 1417.6,1942.1 1419.8,1940.3 1421.9,1938.5 1424.1,1936.8 1426.2,1935.3 1428.4,1933.8 1430.5,1932.5 1432.7,1931.3 1434.8,1930.4 1437.0,1929.6 1439.1,1928.9 1441.3,1928.2 1443.4,1927.6 1445.6,1927.1 1447.7,1926.5 1449.9,1926.1 1452.0,1925.6 1454.2,1925.2 1456.3,1924.8 1458.5,1924.4 1460.6,1924.0 1462.8,1923.6 1464.9,1923.2 1467.1,1922.8 1469.2,1922.4 1471.4,1922.0 1473.5,1921.6 1475.7,1921.1 1477.8,1920.6 1480.0,1920.0 1482.1,1919.4 1484.3,1918.8 1486.4,1918.2 1488.6,1917.6 1490.7,1917.0 1492.9,1916.3 1495.0,1915.7 1497.2,1915.0 1499.3,1914.3 1501.5,1913.5 1503.6,1912.8 1505.8,1912.0 1507.9,1911.1 1510.1,1910.3 1512.2,1909.3 1514.4,1908.4 1516.5,1907.3 1518.7,1906.2 1520.8,1904.9 1523.0,1903.7 1525.1,1902.3 1527.3,1900.9 1529.4,1899.5 1531.6,1898.0 1533.7,1896.5 1535.9,1895.0 1538.0,1893.5 1540.2,1892.0 1542.3,1890.5 1544.5,1889.1 1546.6,1887.7 1548.8,1886.3 1550.9,1884.9 1553.1,1883.6 1555.2,1882.2 1557.4,1880.8 1559.5,1879.4 1561.7,1878.1 1563.8,1876.7 1566.0,1875.4 1568.1,1874.0 1570.3,1872.6 1572.4,1871.3 1574.6,1869.9 1576.7,1868.6 1578.9,1867.2 1581.0,1865.9 1583.2,1864.6 1585.3,1863.3 1587.5,1862.0 1589.6,1860.7 1591.8,1859.5 1593.9,1858.2 1596.1,1856.8 1598.2,1855.5 1600.4,1854.2 1602.5,1852.8 1604.7,1851.4 1606.8,1850.0 1609.0,1848.5 1611.1,1847.0 1613.3,1845.4 1615.4,1843.9 1617.6,1842.3 1619.7,1840.7 1621.9,1839.2 1624.0,1837.6 1626.2,1836.1 1628.3,1834.6 1630.5,1833.1 1632.6,1831.7 1634.8,1830.3 1636.9,1828.9 1639.1,1827.6 1641.2,1826.3 1643.4,1825.0 1645.5,1823.7 1647.7,1822.4 1649.8,1821.1 1652.0,1819.9 1654.1,1818.6 1656.3,1817.3 1658.4,1816.0 1660.6,1814.7 1662.7,1813.4 1664.9,1812.1 1667.0,1810.7 1669.2,1809.3 1671.3,1807.9 1673.5,1806.6 1675.6,1805.2 1677.8,1803.7 1679.9,1802.3 1682.1,1800.9 1684.2,1799.5 1686.4,1798.1 1688.5,1796.6 1690.7,1795.2 1692.8,1793.7 1695.0,1792.3 1697.1,1790.8 1699.3,1789.3 1701.4,1787.8 1703.6,1786.3 1705.7,1784.8 1707.9,1783.3 1710.0,1781.7 1712.2,1780.2 1714.3,1778.7 1716.5,1777.1 1718.6,1775.6 1720.8,1774.1 1722.9,1772.6 1725.1,1771.1 1727.2,1769.6 1729.4,1768.1 1731.5,1766.6 1733.7,1765.2 1735.8,1763.7 1738.0,1762.3 1740.1,1760.8 1742.3,1759.3 1744.4,1757.9 1746.6,1756.4 1748.7,1754.9 1750.9,1753.4 1753.0,1751.8 1755.2,1750.3 1757.3,1748.7 1759.5,1747.2 1761.6,1745.6 1763.8,1744.0 1765.9,1742.5 1768.1,1740.9 1770.2,1739.3 1772.4,1737.6 1774.6,1736.0 1776.7,1734.4 1778.9,1732.7 1781.0,1731.1 1783.2,1729.4 1785.3,1727.7 1787.5,1725.9 1789.6,1724.2 1791.8,1722.4 1793.9,1720.6 1796.1,1718.9 1798.2,1717.1 1800.4,1715.3 1802.5,1713.6 1804.7,1711.8 1806.8,1710.1 1809.0,1708.4 1811.1,1706.7 1813.3,1705.1 1815.4,1703.4 1817.6,1701.8 1819.7,1700.1 1821.9,1698.5 1824.0,1696.9 1826.2,1695.2 1828.3,1693.6 1830.5,1692.0 1832.6,1690.4 1834.8,1688.8 1836.9,1687.2 1839.1,1685.6 1841.2,1684.0 1843.4,1682.4 1845.5,1680.8 1847.7,1679.2 1849.8,1677.7 1852.0,1676.1 1854.1,1674.5 1856.3,1672.9 1858.4,1671.3 1860.6,1669.7 1862.7,1668.2 1864.9,1666.5 1867.0,1664.9 1869.2,1663.3 1871.3,1661.7 1873.5,1660.1 1875.6,1658.4 1877.8,1656.8 1879.9,1655.1 1882.1,1653.5 1884.2,1651.9 1886.4,1650.2 1888.5,1648.6 1890.7,1646.9 1892.8,1645.3 1895.0,1643.7 1897.1,1642.0 1899.3,1640.4 1901.4,1638.8 1903.6,1637.1 1905.7,1635.5 1907.9,1633.8 1910.0,1632.2 1912.2,1630.6 1914.3,1628.9 1916.5,1627.3 1918.6,1625.7 1920.8,1624.1 1922.9,1622.5 1925.1,1620.9 1927.2,1619.2 1929.4,1617.6 1931.5,1616.0 1933.7,1614.4 1935.8,1612.8 1938.0,1611.2 1940.1,1609.7 1942.3,1608.1 1944.4,1606.5 1946.6,1605.0 1948.7,1603.4 1950.9,1601.9 1953.0,1600.4 1955.2,1598.9 1957.3,1597.4 1959.5,1596.0 1961.6,1594.5 1963.8,1593.1 1965.9,1591.6 1968.1,1590.1 1970.2,1588.7 1972.4,1587.2 1974.5,1585.7 1976.7,1584.2 1978.8,1582.7 1981.0,1581.2 1983.1,1579.6 1985.3,1578.0 1987.4,1576.5 1989.6,1574.9 1991.7,1573.3 1993.9,1571.7 1996.0,1570.2 1998.2,1568.6 2000.3,1567.0 2002.5,1565.4 2004.6,1563.8 2006.8,1562.3 2008.9,1560.7 2011.1,1559.2 2013.2,1557.6 2015.4,1556.1 2017.5,1554.6 2019.7,1553.0 2021.8,1551.5 2024.0,1550.0 2026.1,1548.5 2028.3,1546.9 2030.4,1545.4 2032.6,1543.9 2034.7,1542.4 2036.9,1540.9 2039.0,1539.4 2041.2,1537.9 2043.3,1536.4 2045.5,1534.9 2047.6,1533.4 2049.8,1531.9 2051.9,1530.5 2054.1,1529.0 2056.2,1527.5" stroke="#FF0000" stroke-width="5.5" fill="none" stroke-linejoin="round" stroke-dasharray="21 12" stroke-linecap="butt"/>
<polyline points="1413.3,1946.8 1415.5,1946.6 1417.6,1946.4 1419.8,1946.1 1422.0,1945.9 1424.2,1945.6 1426.3,1945.4 1428.5,1945.1 1430.7,1944.8 1432.9,1944.5 1435.0,1944.2 1437.2,1943.8 1439.4,1943.5 1441.5,1943.2 1443.7,1942.8 1445.9,1942.5 1448.1,1942.1 1450.2,1941.7 1452.4,1941.4 1454.6,1941.0 1456.7,1940.6 1458.9,1940.2 1461.1,1939.8 1463.3,1939.4 1465.4,1939.0 1467.6,1938.5 1469.8,1938.1 1472.0,1937.6 1474.1,1937.1 1476.3,1936.6 1478.5,1936.1 1480.6,1935.5 1482.8,1934.9 1485.0,1934.4 1487.2,1933.8 1489.3,1933.2 1491.5,1932.6 1493.7,1932.0 1495.8,1931.4 1498.0,1930.8 1500.2,1930.2 1502.4,1929.6 1504.5,1929.1 1506.7,1928.5 1508.9,1927.9 1511.1,1927.3 1513.2,1926.8 1515.4,1926.2 1517.6,1925.7 1519.7,1925.1 1521.9,1924.6 1524.1,1924.0 1526.3,1923.4 1528.4,1922.8 1530.6,1922.2 1532.8,1921.6 1535.0,1921.0 1537.1,1920.4 1539.3,1919.7 1541.5,1919.0 1543.6,1918.3 1545.8,1917.6 1548.0,1916.8 1550.2,1916.1 1552.3,1915.3 1554.5,1914.4 1556.7,1913.5 1558.8,1912.6 1561.0,1911.7 1563.2,1910.7 1565.4,1909.6 1567.5,1908.5 1569.7,1907.3 1571.9,1906.0 1574.1,1904.6 1576.2,1903.1 1578.4,1901.6 1580.6,1900.0 1582.7,1898.4 1584.9,1896.8 1587.1,1895.2 1589.3,1893.6 1591.4,1892.0 1593.6,1890.4 1595.8,1888.9 1597.9,1887.4 1600.1,1885.8 1602.3,1884.2 1604.5,1882.6 1606.6,1881.1 1608.8,1879.5 1611.0,1877.9 1613.2,1876.3 1615.3,1874.7 1617.5,1873.1 1619.7,1871.5 1621.8,1870.0 1624.0,1868.4 1626.2,1866.9 1628.4,1865.4 1630.5,1863.9 1632.7,1862.4 1634.9,1861.0 1637.1,1859.5 1639.2,1858.0 1641.4,1856.6 1643.6,1855.1 1645.7,1853.7 1647.9,1852.2 1650.1,1850.8 1652.3,1849.3 1654.4,1847.9 1656.6,1846.4 1658.8,1845.0 1660.9,1843.5 1663.1,1842.0 1665.3,1840.6 1667.5,1839.1 1669.6,1837.7 1671.8,1836.2 1674.0,1834.7 1676.2,1833.3 1678.3,1831.8 1680.5,1830.3 1682.7,1828.9 1684.8,1827.4 1687.0,1825.9 1689.2,1824.5 1691.4,1823.0 1693.5,1821.5 1695.7,1820.0 1697.9,1818.6 1700.0,1817.1 1702.2,1815.6 1704.4,1814.1 1706.6,1812.6 1708.7,1811.1 1710.9,1809.6 1713.1,1808.1 1715.3,1806.6 1717.4,1805.0 1719.6,1803.5 1721.8,1801.9 1723.9,1800.3 1726.1,1798.8 1728.3,1797.2 1730.5,1795.6 1732.6,1794.0 1734.8,1792.4 1737.0,1790.7 1739.1,1789.1 1741.3,1787.4 1743.5,1785.8 1745.7,1784.1 1747.8,1782.4 1750.0,1780.6 1752.2,1778.9 1754.4,1777.1 1756.5,1775.3 1758.7,1773.5 1760.9,1771.7 1763.0,1769.9 1765.2,1768.1 1767.4,1766.3 1769.6,1764.5 1771.7,1762.8 1773.9,1761.1 1776.1,1759.4 1778.3,1757.7 1780.4,1756.0 1782.6,1754.3 1784.8,1752.7 1786.9,1751.0 1789.1,1749.4 1791.3,1747.7 1793.5,1746.1 1795.6,1744.5 1797.8,1742.9 1800.0,1741.3 1802.1,1739.8 1804.3,1738.2 1806.5,1736.7 1808.7,1735.2 1810.8,1733.8 1813.0,1732.3 1815.2,1730.8 1817.4,1729.4 1819.5,1727.9 1821.7,1726.4 1823.9,1725.0 1826.0,1723.4 1828.2,1721.9 1830.4,1720.4 1832.6,1718.8 1834.7,1717.1 1836.9,1715.5 1839.1,1713.9 1841.2,1712.2 1843.4,1710.5 1845.6,1708.8 1847.8,1707.2 1849.9,1705.5 1852.1,1703.8 1854.3,1702.2 1856.5,1700.5 1858.6,1698.9 1860.8,1697.3 1863.0,1695.7 1865.1,1694.1 1867.3,1692.5 1869.5,1690.9 1871.7,1689.3 1873.8,1687.7 1876.0,1686.1 1878.2,1684.5 1880.4,1682.9 1882.5,1681.3 1884.7,1679.7 1886.9,1678.0 1889.0,1676.4 1891.2,1674.8 1893.4,1673.1 1895.6,1671.5 1897.7,1669.8 1899.9,1668.1 1902.1,1666.5 1904.2,1664.8 1906.4,1663.2 1908.6,1661.5 1910.8,1659.9 1912.9,1658.2 1915.1,1656.6 1917.3,1655.0 1919.5,1653.3 1921.6,1651.7 1923.8,1650.1 1926.0,1648.5 1928.1,1646.9 1930.3,1645.3 1932.5,1643.7 1934.7,1642.1 1936.8,1640.5 1939.0,1638.9 1941.2,1637.3 1943.3,1635.6 1945.5,1634.0 1947.7,1632.4 1949.9,1630.7 1952.0,1629.1 1954.2,1627.5 1956.4,1625.8 1958.6,1624.2 1960.7,1622.5 1962.9,1620.9 1965.1,1619.2 1967.2,1617.6 1969.4,1615.9 1971.6,1614.3 1973.8,1612.6 1975.9,1611.0 1978.1,1609.3 1980.3,1607.7 1982.5,1606.1 1984.6,1604.4 1986.8,1602.8 1989.0,1601.1 1991.1,1599.5 1993.3,1597.8 1995.5,1596.1 1997.7,1594.5 1999.8,1592.8 2002.0,1591.1 2004.2,1589.5 2006.3,1587.8 2008.5,1586.2 2010.7,1584.5 2012.9,1582.9 2015.0,1581.2 2017.2,1579.5 2019.4,1577.8 2021.6,1576.1 2023.7,1574.4 2025.9,1572.6 2028.1,1570.8 2030.2,1569.0 2032.4,1567.2 2034.6,1565.3 2036.8,1563.4 2038.9,1561.5 2041.1,1559.5 2043.3,1557.6 2045.4,1555.5 2047.6,1553.5 2049.8,1551.5 2052.0,1549.4 2054.1,1547.3 2056.3,1545.2 2058.5,1543.0 2060.7,1540.9 2062.8,1538.7" stroke="#FF0000" stroke-width="5.5" fill="none" stroke-linejoin="round" stroke-dasharray="21 12" stroke-linecap="butt"/>
<polyline points="1413.3,1932.6 1415.5,1925.6 1417.6,1918.7 1419.8,1911.8 1422.0,1904.9 1424.2,1898.0 1426.3,1891.1 1428.5,1884.2 1430.7,1877.3 1432.9,1870.5 1435.0,1863.6 1437.2,1856.8 1439.4,1850.0 1441.5,1843.3 1443.7,1836.6 1445.9,1830.0 1448.1,1823.3 1450.2,1816.7 1452.4,1810.1 1454.6,1803.5 1456.7,1796.8 1458.9,1790.2 1461.1,1783.5 1463.3,1776.7 1465.4,1770.0 1467.6,1763.2 1469.8,1756.3 1472.0,1749.3 1474.1,1742.3 1476.3,1735.2 1478.5,1727.8 1480.6,1720.2 1482.8,1712.6 1485.0,1705.0 1487.2,1697.5 1489.3,1690.4 1491.5,1683.6 1493.7,1677.1 1495.8,1670.8 1498.0,1664.6 1500.2,1658.6 1502.4,1652.6 1504.5,1646.8 1506.7,1641.0 1508.9,1635.2 1511.1,1629.6 1513.2,1624.0 1515.4,1618.5 1517.6,1613.0 1519.7,1607.6 1521.9,1602.3 1524.1,1596.9 1526.3,1591.7 1528.4,1586.7 1530.6,1581.7 1532.8,1576.7 1535.0,1571.6 1537.1,1566.4 1539.3,1560.9 1541.5,1555.0 1543.6,1548.7 1545.8,1542.2 1548.0,1535.8 1550.2,1529.9 1552.3,1524.5 1554.5,1519.2 1556.7,1514.3 1558.8,1510.0 1561.0,1506.5 1563.2,1503.4 1565.4,1501.0 1567.5,1499.5 1569.7,1498.3 1571.9,1497.2 1574.1,1496.4 1576.2,1495.6 1578.4,1494.9 1580.6,1494.2 1582.7,1493.5 1584.9,1492.8 1587.1,1491.9 1589.3,1491.0 1591.4,1490.1 1593.6,1489.1 1595.8,1488.2 1597.9,1487.2 1600.1,1486.2 1602.3,1485.2 1604.5,1484.2 1606.6,1483.2 1608.8,1482.2 1611.0,1481.1 1613.2,1480.0 1615.3,1478.7 1617.5,1477.5 1619.7,1476.2 1621.8,1474.9 1624.0,1473.6 1626.2,1472.4 1628.4,1471.2 1630.5,1470.1 1632.7,1469.2 1634.9,1468.4 1637.1,1467.7 1639.2,1467.0 1641.4,1466.4 1643.6,1465.8 1645.7,1465.2 1647.9,1464.7 1650.1,1464.2 1652.3,1463.7 1654.4,1463.2 1656.6,1462.8 1658.8,1462.3 1660.9,1461.9 1663.1,1461.5 1665.3,1461.1 1667.5,1460.7 1669.6,1460.3 1671.8,1460.0 1674.0,1459.6 1676.2,1459.3 1678.3,1458.9 1680.5,1458.6 1682.7,1458.3 1684.8,1458.0 1687.0,1457.7 1689.2,1457.5 1691.4,1457.2 1693.5,1457.0 1695.7,1456.7 1697.9,1456.5 1700.0,1456.3 1702.2,1456.0 1704.4,1455.8 1706.6,1455.5 1708.7,1455.3 1710.9,1455.1 1713.1,1454.9 1715.3,1454.7 1717.4,1454.5 1719.6,1454.3 1721.8,1454.1 1723.9,1453.9 1726.1,1453.7 1728.3,1453.6 1730.5,1453.4 1732.6,1453.3 1734.8,1453.2 1737.0,1453.1 1739.1,1453.0 1741.3,1452.9 1743.5,1452.9 1745.7,1452.8 1747.8,1452.8 1750.0,1452.7 1752.2,1452.7 1754.4,1452.6 1756.5,1452.6 1758.7,1452.6 1760.9,1452.5 1763.0,1452.5 1765.2,1452.5 1767.4,1452.4 1769.6,1452.4 1771.7,1452.4 1773.9,1452.4 1776.1,1452.3 1778.3,1452.3 1780.4,1452.3 1782.6,1452.3 1784.8,1452.3 1786.9,1452.2 1789.1,1452.2 1791.3,1452.2 1793.5,1452.1 1795.6,1452.1 1797.8,1452.1 1800.0,1452.0 1802.1,1452.0 1804.3,1452.0 1806.5,1451.9 1808.7,1451.9 1810.8,1451.8 1813.0,1451.8 1815.2,1451.7 1817.4,1451.6 1819.5,1451.5 1821.7,1451.5 1823.9,1451.4 1826.0,1451.3 1828.2,1451.2 1830.4,1451.1 1832.6,1451.0 1834.7,1450.9 1836.9,1450.8 1839.1,1450.7 1841.2,1450.6 1843.4,1450.4 1845.6,1450.3 1847.8,1450.2 1849.9,1450.1 1852.1,1450.0 1854.3,1449.8 1856.5,1449.7 1858.6,1449.6 1860.8,1449.5 1863.0,1449.4 1865.1,1449.3 1867.3,1449.1 1869.5,1449.0 1871.7,1448.9 1873.8,1448.8 1876.0,1448.7 1878.2,1448.6 1880.4,1448.5 1882.5,1448.4 1884.7,1448.3 1886.9,1448.2 1889.0,1448.2 1891.2,1448.1 1893.4,1448.0 1895.6,1447.9 1897.7,1447.8 1899.9,1447.7 1902.1,1447.6 1904.2,1447.6 1906.4,1447.5 1908.6,1447.4 1910.8,1447.3 1912.9,1447.2 1915.1,1447.1 1917.3,1447.1 1919.5,1447.0 1921.6,1446.9 1923.8,1446.8 1926.0,1446.7 1928.1,1446.7 1930.3,1446.6 1932.5,1446.5 1934.7,1446.4 1936.8,1446.4 1939.0,1446.3 1941.2,1446.2 1943.3,1446.1 1945.5,1446.1 1947.7,1446.0 1949.9,1445.9 1952.0,1445.9 1954.2,1445.8 1956.4,1445.7 1958.6,1445.7 1960.7,1445.6 1962.9,1445.5 1965.1,1445.5 1967.2,1445.4 1969.4,1445.4 1971.6,1445.3 1973.8,1445.3 1975.9,1445.2 1978.1,1445.2 1980.3,1445.1 1982.5,1445.1 1984.6,1445.0 1986.8,1445.0 1989.0,1444.9 1991.1,1444.9 1993.3,1444.8 1995.5,1444.8 1997.7,1444.8 1999.8,1444.7 2002.0,1444.7 2004.2,1444.6 2006.3,1444.6 2008.5,1444.5 2010.7,1444.5 2012.9,1444.5 2015.0,1444.4 2017.2,1444.4 2019.4,1444.3 2021.6,1444.3 2023.7,1444.3 2025.9,1444.2 2028.1,1444.2 2030.2,1444.2 2032.4,1444.1 2034.6,1444.1 2036.8,1444.1 2038.9,1444.0 2041.1,1444.0 2043.3,1444.0 2045.4,1443.9 2047.6,1443.9 2049.8,1443.9 2052.0,1443.9 2054.1,1443.8 2056.3,1443.8 2058.5,1443.8 2060.7,1443.8 2062.8,1443.8" stroke="#0000FF" stroke-width="5.5" fill="none" stroke-linejoin="round" stroke-dasharray="5.5 4" stroke-linecap="butt"/>
<polyline points="1413.3,1937.6 1415.5,1931.6 1417.6,1925.6 1419.8,1919.7 1421.9,1913.9 1424.1,1908.2 1426.3,1902.6 1428.4,1897.1 1430.6,1891.7 1432.7,1886.4 1434.9,1881.2 1437.1,1876.1 1439.2,1871.2 1441.4,1866.3 1443.5,1861.6 1445.7,1857.0 1447.8,1852.4 1450.0,1847.8 1452.2,1843.4 1454.3,1838.9 1456.5,1834.4 1458.6,1830.0 1460.8,1825.5 1463.0,1821.1 1465.1,1816.7 1467.3,1812.3 1469.4,1808.0 1471.6,1803.7 1473.8,1799.4 1475.9,1795.1 1478.1,1790.8 1480.2,1786.5 1482.4,1782.2 1484.6,1777.8 1486.7,1773.4 1488.9,1768.7 1491.0,1764.0 1493.2,1759.3 1495.3,1754.6 1497.5,1750.1 1499.7,1745.8 1501.8,1741.9 1504.0,1738.3 1506.1,1734.8 1508.3,1731.6 1510.5,1728.5 1512.6,1725.7 1514.8,1723.2 1516.9,1721.1 1519.1,1719.2 1521.3,1717.5 1523.4,1716.0 1525.6,1714.5 1527.7,1713.2 1529.9,1711.9 1532.1,1710.7 1534.2,1709.5 1536.4,1708.5 1538.5,1707.6 1540.7,1706.7 1542.8,1705.8 1545.0,1704.7 1547.2,1703.5 1549.3,1702.0 1551.5,1700.2 1553.6,1698.1 1555.8,1695.9 1558.0,1693.6 1560.1,1691.2 1562.3,1688.7 1564.4,1686.4 1566.6,1683.8 1568.8,1681.2 1570.9,1678.5 1573.1,1675.8 1575.2,1673.1 1577.4,1670.5 1579.6,1668.1 1581.7,1665.7 1583.9,1663.3 1586.0,1661.0 1588.2,1658.7 1590.3,1656.4 1592.5,1654.2 1594.7,1652.1 1596.8,1650.0 1599.0,1648.0 1601.1,1646.0 1603.3,1644.2 1605.5,1642.4 1607.6,1640.6 1609.8,1638.9 1611.9,1637.2 1614.1,1635.6 1616.3,1634.1 1618.4,1632.5 1620.6,1631.1 1622.7,1629.7 1624.9,1628.3 1627.1,1627.0 1629.2,1625.7 1631.4,1624.5 1633.5,1623.4 1635.7,1622.2 1637.8,1621.1 1640.0,1620.0 1642.2,1619.0 1644.3,1617.9 1646.5,1616.9 1648.6,1615.9 1650.8,1614.9 1653.0,1613.9 1655.1,1613.0 1657.3,1612.0 1659.4,1611.1 1661.6,1610.1 1663.8,1609.2 1665.9,1608.2 1668.1,1607.3 1670.2,1606.4 1672.4,1605.5 1674.6,1604.6 1676.7,1603.7 1678.9,1602.9 1681.0,1602.1 1683.2,1601.3 1685.3,1600.5 1687.5,1599.7 1689.7,1599.0 1691.8,1598.3 1694.0,1597.5 1696.1,1596.8 1698.3,1596.1 1700.5,1595.3 1702.6,1594.6 1704.8,1593.9 1706.9,1593.2 1709.1,1592.5 1711.3,1591.8 1713.4,1591.1 1715.6,1590.5 1717.7,1589.9 1719.9,1589.3 1722.1,1588.8 1724.2,1588.2 1726.4,1587.8 1728.5,1587.3 1730.7,1587.0 1732.8,1586.6 1735.0,1586.4 1737.2,1586.1 1739.3,1585.9 1741.5,1585.7 1743.6,1585.4 1745.8,1585.2 1748.0,1585.0 1750.1,1584.9 1752.3,1584.7 1754.4,1584.5 1756.6,1584.4 1758.8,1584.2 1760.9,1584.1 1763.1,1583.9 1765.2,1583.8 1767.4,1583.7 1769.6,1583.5 1771.7,1583.4 1773.9,1583.3 1776.0,1583.2 1778.2,1583.1 1780.3,1582.9 1782.5,1582.8 1784.7,1582.7 1786.8,1582.6 1789.0,1582.5 1791.1,1582.4 1793.3,1582.3 1795.5,1582.2 1797.6,1582.2 1799.8,1582.1 1801.9,1582.0 1804.1,1581.9 1806.3,1581.9 1808.4,1581.8 1810.6,1581.7 1812.7,1581.6 1814.9,1581.5 1817.1,1581.5 1819.2,1581.4 1821.4,1581.3 1823.5,1581.2 1825.7,1581.0 1827.8,1580.9 1830.0,1580.8 1832.2,1580.6 1834.3,1580.5 1836.5,1580.3 1838.6,1580.2 1840.8,1580.0 1843.0,1579.8 1845.1,1579.5 1847.3,1579.3 1849.4,1579.1 1851.6,1578.8 1853.8,1578.5 1855.9,1578.2 1858.1,1577.8 1860.2,1577.4 1862.4,1577.0 1864.6,1576.4 1866.7,1575.6 1868.9,1574.7 1871.0,1573.7 1873.2,1572.6 1875.4,1571.5 1877.5,1570.3 1879.7,1569.2 1881.8,1568.0 1884.0,1566.9 1886.1,1565.8 1888.3,1564.7 1890.5,1563.5 1892.6,1562.3 1894.8,1561.0 1896.9,1559.8 1899.1,1558.5 1901.3,1557.3 1903.4,1556.1 1905.6,1554.9 1907.7,1553.7 1909.9,1552.7 1912.1,1551.7 1914.2,1550.7 1916.4,1549.9 1918.5,1549.0 1920.7,1548.2 1922.9,1547.4 1925.0,1546.6 1927.2,1545.9 1929.3,1545.2 1931.5,1544.5 1933.6,1543.9 1935.8,1543.4 1938.0,1542.9 1940.1,1542.4 1942.3,1541.9 1944.4,1541.4 1946.6,1540.9 1948.8,1540.5 1950.9,1540.1 1953.1,1539.6 1955.2,1539.2 1957.4,1538.8 1959.6,1538.5 1961.7,1538.1 1963.9,1537.7 1966.0,1537.4 1968.2,1537.1 1970.4,1536.8 1972.5,1536.5 1974.7,1536.2 1976.8,1536.0 1979.0,1535.7 1981.1,1535.5 1983.3,1535.3 1985.5,1535.1 1987.6,1534.9 1989.8,1534.7 1991.9,1534.5 1994.1,1534.4 1996.3,1534.2 1998.4,1534.0 2000.6,1533.9 2002.7,1533.7 2004.9,1533.6 2007.1,1533.5 2009.2,1533.3 2011.4,1533.2 2013.5,1533.0 2015.7,1532.9 2017.9,1532.7 2020.0,1532.5 2022.2,1532.4 2024.3,1532.2 2026.5,1532.0 2028.6,1531.9 2030.8,1531.7 2033.0,1531.5 2035.1,1531.4 2037.3,1531.2 2039.4,1531.0 2041.6,1530.9 2043.8,1530.7 2045.9,1530.5 2048.1,1530.4 2050.2,1530.2 2052.4,1530.0 2054.6,1529.9 2056.7,1529.7 2058.9,1529.5" stroke="#0000FF" stroke-width="5.5" fill="none" stroke-linejoin="round" stroke-dasharray="5.5 4" stroke-linecap="butt"/>
</g>
<rect x="1386.0" y="1440.2" width="685.8" height="507.6" fill="none" stroke="#000" stroke-width="1.8"/>
<rect x="1820.5" y="1839.2" width="227.9" height="84.8" fill="#fff" stroke="#000" stroke-width="1.6"/>
<line x1="1831.0" y1="1861.4" x2="1920.0" y2="1861.4" stroke="#FF0000" stroke-width="5.5" stroke-dasharray="23 12"/>
<line x1="1831.0" y1="1901.7" x2="1920.0" y2="1901.7" stroke="#0000FF" stroke-width="5.5" stroke-dasharray="5.5 4"/>
<text x="1926.7" y="1873.6" font-size="34" font-family="'Liberation Serif', 'Times New Roman', serif" fill="#111" textLength="115.0" lengthAdjust="spacingAndGlyphs" >Graphite</text>
<text x="1926.7" y="1912.8" font-size="34" font-family="'Liberation Serif', 'Times New Roman', serif" fill="#111" textLength="90.0" lengthAdjust="spacingAndGlyphs" >Silicon</text>
<line x1="1935.3" y1="1464.4" x2="1655.0" y2="1489.4" stroke="#000" stroke-width="1.7" />
<path d="M1642.1,1490.4 Q1655.3,1486.5 1671.0,1476.8 L1660.6,1488.8 L1673.0,1498.7 Q1655.8,1491.9 1642.1,1490.4Z" fill="#000"/>
<text x="1803.5" y="1520.8" font-size="42" font-family="'Liberation Serif', 'Times New Roman', serif" fill="#111" text-anchor="middle" textLength="213.0" lengthAdjust="spacingAndGlyphs" transform="rotate(-5.0 1803.5 1520.8)" >Delithiation</text>
<line x1="1580.6" y1="1690.5" x2="1836.0" y2="1600.5" stroke="#000" stroke-width="1.7" />
<path d="M1847.9,1596.8 Q1836.1,1603.9 1823.2,1617.1 L1830.3,1603.0 L1816.0,1596.3 Q1834.3,1598.7 1847.9,1596.8Z" fill="#000"/>
<text x="1726.5" y="1700.0" font-size="42" font-family="'Liberation Serif', 'Times New Roman', serif" fill="#111" text-anchor="middle" textLength="178.0" lengthAdjust="spacingAndGlyphs" transform="rotate(-19.0 1726.5 1700.0)" >Lithiation</text>
</svg>
</body></html>
